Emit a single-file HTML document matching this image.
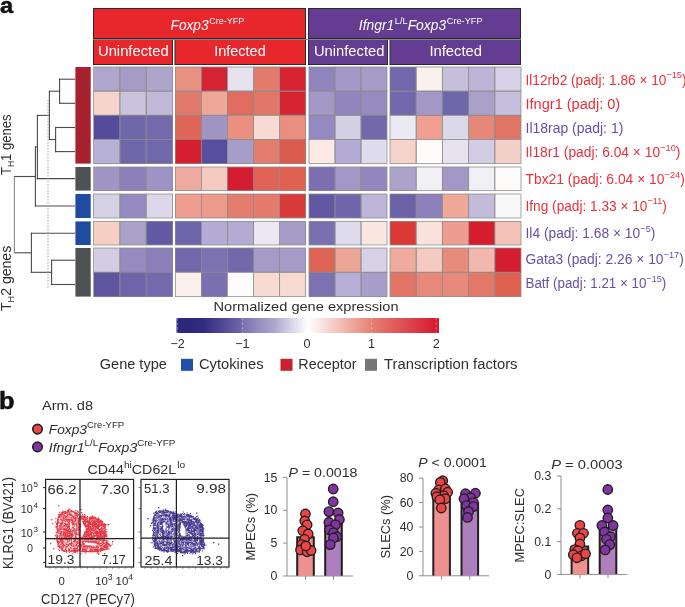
<!DOCTYPE html><html><head><meta charset="utf-8"><style>html,body{margin:0;padding:0;background:#fff;overflow:hidden}svg{display:block;will-change:transform}</style></head><body>
<svg width="685" height="607" viewBox="0 0 685 607" font-family="Liberation Sans">
<g shape-rendering="crispEdges">
<rect x="93.50" y="67.00" width="26.35" height="24.15" fill="#b0a6cc"/>
<rect x="119.85" y="67.00" width="26.35" height="24.15" fill="#a59bc5"/>
<rect x="146.20" y="67.00" width="26.35" height="24.15" fill="#aea5cb"/>
<rect x="93.50" y="91.15" width="26.35" height="24.15" fill="#f6d4cc"/>
<rect x="119.85" y="91.15" width="26.35" height="24.15" fill="#cbc3dd"/>
<rect x="146.20" y="91.15" width="26.35" height="24.15" fill="#c0b9d8"/>
<rect x="93.50" y="115.30" width="26.35" height="24.15" fill="#544b9c"/>
<rect x="119.85" y="115.30" width="26.35" height="24.15" fill="#7067a8"/>
<rect x="146.20" y="115.30" width="26.35" height="24.15" fill="#746aab"/>
<rect x="93.50" y="139.45" width="26.35" height="24.15" fill="#b8b1d6"/>
<rect x="119.85" y="139.45" width="26.35" height="24.15" fill="#7067a8"/>
<rect x="146.20" y="139.45" width="26.35" height="24.15" fill="#7168aa"/>
<rect x="93.50" y="167.00" width="26.35" height="23.60" fill="#a095c3"/>
<rect x="119.85" y="167.00" width="26.35" height="23.60" fill="#8c80ba"/>
<rect x="146.20" y="167.00" width="26.35" height="23.60" fill="#9d93c4"/>
<rect x="93.50" y="194.00" width="26.35" height="24.00" fill="#d5d1e5"/>
<rect x="119.85" y="194.00" width="26.35" height="24.00" fill="#948ac0"/>
<rect x="146.20" y="194.00" width="26.35" height="24.00" fill="#dcd8ea"/>
<rect x="93.50" y="221.40" width="26.35" height="23.60" fill="#f5cfc4"/>
<rect x="119.85" y="221.40" width="26.35" height="23.60" fill="#aaa1c9"/>
<rect x="146.20" y="221.40" width="26.35" height="23.60" fill="#6459a5"/>
<rect x="93.50" y="248.00" width="26.35" height="24.30" fill="#d3cce3"/>
<rect x="119.85" y="248.00" width="26.35" height="24.30" fill="#978bc0"/>
<rect x="146.20" y="248.00" width="26.35" height="24.30" fill="#8a7fb8"/>
<rect x="93.50" y="272.30" width="26.35" height="24.30" fill="#5f54a0"/>
<rect x="119.85" y="272.30" width="26.35" height="24.30" fill="#6f63aa"/>
<rect x="146.20" y="272.30" width="26.35" height="24.30" fill="#7569ad"/>
<rect x="175.40" y="67.00" width="26.04" height="24.15" fill="#e89282"/>
<rect x="201.44" y="67.00" width="26.04" height="24.15" fill="#d42333"/>
<rect x="227.48" y="67.00" width="26.04" height="24.15" fill="#e6e3ef"/>
<rect x="253.52" y="67.00" width="26.04" height="24.15" fill="#e27b6c"/>
<rect x="279.56" y="67.00" width="26.04" height="24.15" fill="#d72232"/>
<rect x="175.40" y="91.15" width="26.04" height="24.15" fill="#e27a6c"/>
<rect x="201.44" y="91.15" width="26.04" height="24.15" fill="#eea898"/>
<rect x="227.48" y="91.15" width="26.04" height="24.15" fill="#e06c5f"/>
<rect x="253.52" y="91.15" width="26.04" height="24.15" fill="#e27668"/>
<rect x="279.56" y="91.15" width="26.04" height="24.15" fill="#d72433"/>
<rect x="175.40" y="115.30" width="26.04" height="24.15" fill="#df6557"/>
<rect x="201.44" y="115.30" width="26.04" height="24.15" fill="#a095c4"/>
<rect x="227.48" y="115.30" width="26.04" height="24.15" fill="#eb8f80"/>
<rect x="253.52" y="115.30" width="26.04" height="24.15" fill="#f6dad3"/>
<rect x="279.56" y="115.30" width="26.04" height="24.15" fill="#ea8e7f"/>
<rect x="175.40" y="139.45" width="26.04" height="24.15" fill="#d51f2f"/>
<rect x="201.44" y="139.45" width="26.04" height="24.15" fill="#574ea0"/>
<rect x="227.48" y="139.45" width="26.04" height="24.15" fill="#a69dc9"/>
<rect x="253.52" y="139.45" width="26.04" height="24.15" fill="#e47d6e"/>
<rect x="279.56" y="139.45" width="26.04" height="24.15" fill="#dc5a4e"/>
<rect x="175.40" y="167.00" width="26.04" height="23.60" fill="#efaaa0"/>
<rect x="201.44" y="167.00" width="26.04" height="23.60" fill="#f4c9c0"/>
<rect x="227.48" y="167.00" width="26.04" height="23.60" fill="#d41d30"/>
<rect x="253.52" y="167.00" width="26.04" height="23.60" fill="#e06455"/>
<rect x="279.56" y="167.00" width="26.04" height="23.60" fill="#df6152"/>
<rect x="175.40" y="194.00" width="26.04" height="24.00" fill="#ee9d8f"/>
<rect x="201.44" y="194.00" width="26.04" height="24.00" fill="#ec9a8c"/>
<rect x="227.48" y="194.00" width="26.04" height="24.00" fill="#e47d6f"/>
<rect x="253.52" y="194.00" width="26.04" height="24.00" fill="#e47b6d"/>
<rect x="279.56" y="194.00" width="26.04" height="24.00" fill="#d93a3a"/>
<rect x="175.40" y="221.40" width="26.04" height="23.60" fill="#6e64ac"/>
<rect x="201.44" y="221.40" width="26.04" height="23.60" fill="#b4acd4"/>
<rect x="227.48" y="221.40" width="26.04" height="23.60" fill="#b3abd3"/>
<rect x="253.52" y="221.40" width="26.04" height="23.60" fill="#ebe8f1"/>
<rect x="279.56" y="221.40" width="26.04" height="23.60" fill="#a69cc8"/>
<rect x="175.40" y="248.00" width="26.04" height="24.30" fill="#7267ab"/>
<rect x="201.44" y="248.00" width="26.04" height="24.30" fill="#7c72b2"/>
<rect x="227.48" y="248.00" width="26.04" height="24.30" fill="#7268aa"/>
<rect x="253.52" y="248.00" width="26.04" height="24.30" fill="#a59bc8"/>
<rect x="279.56" y="248.00" width="26.04" height="24.30" fill="#a69cc9"/>
<rect x="175.40" y="272.30" width="26.04" height="24.30" fill="#fbf0ec"/>
<rect x="201.44" y="272.30" width="26.04" height="24.30" fill="#7a70b0"/>
<rect x="227.48" y="272.30" width="26.04" height="24.30" fill="#fdfbfb"/>
<rect x="253.52" y="272.30" width="26.04" height="24.30" fill="#f7dbd3"/>
<rect x="279.56" y="272.30" width="26.04" height="24.30" fill="#f6d9d0"/>
<rect x="309.00" y="67.00" width="26.00" height="24.15" fill="#8f84bb"/>
<rect x="335.00" y="67.00" width="26.00" height="24.15" fill="#a398c6"/>
<rect x="361.00" y="67.00" width="26.00" height="24.15" fill="#a59bc7"/>
<rect x="309.00" y="91.15" width="26.00" height="24.15" fill="#a398c6"/>
<rect x="335.00" y="91.15" width="26.00" height="24.15" fill="#9185bd"/>
<rect x="361.00" y="91.15" width="26.00" height="24.15" fill="#978cc0"/>
<rect x="309.00" y="115.30" width="26.00" height="24.15" fill="#9489c0"/>
<rect x="335.00" y="115.30" width="26.00" height="24.15" fill="#d4d0e4"/>
<rect x="361.00" y="115.30" width="26.00" height="24.15" fill="#7268ab"/>
<rect x="309.00" y="139.45" width="26.00" height="24.15" fill="#fbe9e3"/>
<rect x="335.00" y="139.45" width="26.00" height="24.15" fill="#b3abd3"/>
<rect x="361.00" y="139.45" width="26.00" height="24.15" fill="#dfdced"/>
<rect x="309.00" y="167.00" width="26.00" height="23.60" fill="#7a6eb0"/>
<rect x="335.00" y="167.00" width="26.00" height="23.60" fill="#a298c5"/>
<rect x="361.00" y="167.00" width="26.00" height="23.60" fill="#9287be"/>
<rect x="309.00" y="194.00" width="26.00" height="24.00" fill="#6257a3"/>
<rect x="335.00" y="194.00" width="26.00" height="24.00" fill="#7064aa"/>
<rect x="361.00" y="194.00" width="26.00" height="24.00" fill="#bdb6d8"/>
<rect x="309.00" y="221.40" width="26.00" height="23.60" fill="#7a70b0"/>
<rect x="335.00" y="221.40" width="26.00" height="23.60" fill="#dfdcee"/>
<rect x="361.00" y="221.40" width="26.00" height="23.60" fill="#fbe7e1"/>
<rect x="309.00" y="248.00" width="26.00" height="24.30" fill="#dd6454"/>
<rect x="335.00" y="248.00" width="26.00" height="24.30" fill="#eda595"/>
<rect x="361.00" y="248.00" width="26.00" height="24.30" fill="#d6d1e5"/>
<rect x="309.00" y="272.30" width="26.00" height="24.30" fill="#7b71b1"/>
<rect x="335.00" y="272.30" width="26.00" height="24.30" fill="#b6aed5"/>
<rect x="361.00" y="272.30" width="26.00" height="24.30" fill="#a79ec9"/>
<rect x="390.00" y="67.00" width="26.20" height="24.15" fill="#7167aa"/>
<rect x="416.20" y="67.00" width="26.20" height="24.15" fill="#faf0ec"/>
<rect x="442.40" y="67.00" width="26.20" height="24.15" fill="#c6c0dc"/>
<rect x="468.60" y="67.00" width="26.20" height="24.15" fill="#bcb5d7"/>
<rect x="494.80" y="67.00" width="26.20" height="24.15" fill="#d6d1e6"/>
<rect x="390.00" y="91.15" width="26.20" height="24.15" fill="#7167aa"/>
<rect x="416.20" y="91.15" width="26.20" height="24.15" fill="#a298c6"/>
<rect x="442.40" y="91.15" width="26.20" height="24.15" fill="#7066aa"/>
<rect x="468.60" y="91.15" width="26.20" height="24.15" fill="#aaa1ca"/>
<rect x="494.80" y="91.15" width="26.20" height="24.15" fill="#c6c0dc"/>
<rect x="390.00" y="115.30" width="26.20" height="24.15" fill="#ebe9f2"/>
<rect x="416.20" y="115.30" width="26.20" height="24.15" fill="#ef9e8f"/>
<rect x="442.40" y="115.30" width="26.20" height="24.15" fill="#dbd8e9"/>
<rect x="468.60" y="115.30" width="26.20" height="24.15" fill="#e68878"/>
<rect x="494.80" y="115.30" width="26.20" height="24.15" fill="#e07565"/>
<rect x="390.00" y="139.45" width="26.20" height="24.15" fill="#f5d2ca"/>
<rect x="416.20" y="139.45" width="26.20" height="24.15" fill="#fefbfa"/>
<rect x="442.40" y="139.45" width="26.20" height="24.15" fill="#e6e3ef"/>
<rect x="468.60" y="139.45" width="26.20" height="24.15" fill="#d2cde4"/>
<rect x="494.80" y="139.45" width="26.20" height="24.15" fill="#f3d1c9"/>
<rect x="390.00" y="167.00" width="26.20" height="23.60" fill="#aba3ca"/>
<rect x="416.20" y="167.00" width="26.20" height="23.60" fill="#f1f0f5"/>
<rect x="442.40" y="167.00" width="26.20" height="23.60" fill="#a297c5"/>
<rect x="468.60" y="167.00" width="26.20" height="23.60" fill="#f0eff4"/>
<rect x="494.80" y="167.00" width="26.20" height="23.60" fill="#fdfafa"/>
<rect x="390.00" y="194.00" width="26.20" height="24.00" fill="#6c61a7"/>
<rect x="416.20" y="194.00" width="26.20" height="24.00" fill="#8c81bb"/>
<rect x="442.40" y="194.00" width="26.20" height="24.00" fill="#efa898"/>
<rect x="468.60" y="194.00" width="26.20" height="24.00" fill="#c2bcda"/>
<rect x="494.80" y="194.00" width="26.20" height="24.00" fill="#f8f8f9"/>
<rect x="390.00" y="221.40" width="26.20" height="23.60" fill="#da3a36"/>
<rect x="416.20" y="221.40" width="26.20" height="23.60" fill="#f9e2db"/>
<rect x="442.40" y="221.40" width="26.20" height="23.60" fill="#ed9d8f"/>
<rect x="468.60" y="221.40" width="26.20" height="23.60" fill="#d51d2d"/>
<rect x="494.80" y="221.40" width="26.20" height="23.60" fill="#f3c3ba"/>
<rect x="390.00" y="248.00" width="26.20" height="24.30" fill="#efab9d"/>
<rect x="416.20" y="248.00" width="26.20" height="24.30" fill="#f4cbc3"/>
<rect x="442.40" y="248.00" width="26.20" height="24.30" fill="#e78c7d"/>
<rect x="468.60" y="248.00" width="26.20" height="24.30" fill="#f1b8ad"/>
<rect x="494.80" y="248.00" width="26.20" height="24.30" fill="#d41e2f"/>
<rect x="390.00" y="272.30" width="26.20" height="24.30" fill="#e27465"/>
<rect x="416.20" y="272.30" width="26.20" height="24.30" fill="#e8887a"/>
<rect x="442.40" y="272.30" width="26.20" height="24.30" fill="#e88a7b"/>
<rect x="468.60" y="272.30" width="26.20" height="24.30" fill="#e27868"/>
<rect x="494.80" y="272.30" width="26.20" height="24.30" fill="#df6150"/>
</g>
<g stroke="#8c8c8c" stroke-width="0.9" fill="none" opacity="0.85">
<rect x="93.50" y="67.00" width="26.35" height="24.15"/>
<rect x="119.85" y="67.00" width="26.35" height="24.15"/>
<rect x="146.20" y="67.00" width="26.35" height="24.15"/>
<rect x="93.50" y="91.15" width="26.35" height="24.15"/>
<rect x="119.85" y="91.15" width="26.35" height="24.15"/>
<rect x="146.20" y="91.15" width="26.35" height="24.15"/>
<rect x="93.50" y="115.30" width="26.35" height="24.15"/>
<rect x="119.85" y="115.30" width="26.35" height="24.15"/>
<rect x="146.20" y="115.30" width="26.35" height="24.15"/>
<rect x="93.50" y="139.45" width="26.35" height="24.15"/>
<rect x="119.85" y="139.45" width="26.35" height="24.15"/>
<rect x="146.20" y="139.45" width="26.35" height="24.15"/>
<rect x="93.50" y="167.00" width="26.35" height="23.60"/>
<rect x="119.85" y="167.00" width="26.35" height="23.60"/>
<rect x="146.20" y="167.00" width="26.35" height="23.60"/>
<rect x="93.50" y="194.00" width="26.35" height="24.00"/>
<rect x="119.85" y="194.00" width="26.35" height="24.00"/>
<rect x="146.20" y="194.00" width="26.35" height="24.00"/>
<rect x="93.50" y="221.40" width="26.35" height="23.60"/>
<rect x="119.85" y="221.40" width="26.35" height="23.60"/>
<rect x="146.20" y="221.40" width="26.35" height="23.60"/>
<rect x="93.50" y="248.00" width="26.35" height="24.30"/>
<rect x="119.85" y="248.00" width="26.35" height="24.30"/>
<rect x="146.20" y="248.00" width="26.35" height="24.30"/>
<rect x="93.50" y="272.30" width="26.35" height="24.30"/>
<rect x="119.85" y="272.30" width="26.35" height="24.30"/>
<rect x="146.20" y="272.30" width="26.35" height="24.30"/>
<rect x="175.40" y="67.00" width="26.04" height="24.15"/>
<rect x="201.44" y="67.00" width="26.04" height="24.15"/>
<rect x="227.48" y="67.00" width="26.04" height="24.15"/>
<rect x="253.52" y="67.00" width="26.04" height="24.15"/>
<rect x="279.56" y="67.00" width="26.04" height="24.15"/>
<rect x="175.40" y="91.15" width="26.04" height="24.15"/>
<rect x="201.44" y="91.15" width="26.04" height="24.15"/>
<rect x="227.48" y="91.15" width="26.04" height="24.15"/>
<rect x="253.52" y="91.15" width="26.04" height="24.15"/>
<rect x="279.56" y="91.15" width="26.04" height="24.15"/>
<rect x="175.40" y="115.30" width="26.04" height="24.15"/>
<rect x="201.44" y="115.30" width="26.04" height="24.15"/>
<rect x="227.48" y="115.30" width="26.04" height="24.15"/>
<rect x="253.52" y="115.30" width="26.04" height="24.15"/>
<rect x="279.56" y="115.30" width="26.04" height="24.15"/>
<rect x="175.40" y="139.45" width="26.04" height="24.15"/>
<rect x="201.44" y="139.45" width="26.04" height="24.15"/>
<rect x="227.48" y="139.45" width="26.04" height="24.15"/>
<rect x="253.52" y="139.45" width="26.04" height="24.15"/>
<rect x="279.56" y="139.45" width="26.04" height="24.15"/>
<rect x="175.40" y="167.00" width="26.04" height="23.60"/>
<rect x="201.44" y="167.00" width="26.04" height="23.60"/>
<rect x="227.48" y="167.00" width="26.04" height="23.60"/>
<rect x="253.52" y="167.00" width="26.04" height="23.60"/>
<rect x="279.56" y="167.00" width="26.04" height="23.60"/>
<rect x="175.40" y="194.00" width="26.04" height="24.00"/>
<rect x="201.44" y="194.00" width="26.04" height="24.00"/>
<rect x="227.48" y="194.00" width="26.04" height="24.00"/>
<rect x="253.52" y="194.00" width="26.04" height="24.00"/>
<rect x="279.56" y="194.00" width="26.04" height="24.00"/>
<rect x="175.40" y="221.40" width="26.04" height="23.60"/>
<rect x="201.44" y="221.40" width="26.04" height="23.60"/>
<rect x="227.48" y="221.40" width="26.04" height="23.60"/>
<rect x="253.52" y="221.40" width="26.04" height="23.60"/>
<rect x="279.56" y="221.40" width="26.04" height="23.60"/>
<rect x="175.40" y="248.00" width="26.04" height="24.30"/>
<rect x="201.44" y="248.00" width="26.04" height="24.30"/>
<rect x="227.48" y="248.00" width="26.04" height="24.30"/>
<rect x="253.52" y="248.00" width="26.04" height="24.30"/>
<rect x="279.56" y="248.00" width="26.04" height="24.30"/>
<rect x="175.40" y="272.30" width="26.04" height="24.30"/>
<rect x="201.44" y="272.30" width="26.04" height="24.30"/>
<rect x="227.48" y="272.30" width="26.04" height="24.30"/>
<rect x="253.52" y="272.30" width="26.04" height="24.30"/>
<rect x="279.56" y="272.30" width="26.04" height="24.30"/>
<rect x="309.00" y="67.00" width="26.00" height="24.15"/>
<rect x="335.00" y="67.00" width="26.00" height="24.15"/>
<rect x="361.00" y="67.00" width="26.00" height="24.15"/>
<rect x="309.00" y="91.15" width="26.00" height="24.15"/>
<rect x="335.00" y="91.15" width="26.00" height="24.15"/>
<rect x="361.00" y="91.15" width="26.00" height="24.15"/>
<rect x="309.00" y="115.30" width="26.00" height="24.15"/>
<rect x="335.00" y="115.30" width="26.00" height="24.15"/>
<rect x="361.00" y="115.30" width="26.00" height="24.15"/>
<rect x="309.00" y="139.45" width="26.00" height="24.15"/>
<rect x="335.00" y="139.45" width="26.00" height="24.15"/>
<rect x="361.00" y="139.45" width="26.00" height="24.15"/>
<rect x="309.00" y="167.00" width="26.00" height="23.60"/>
<rect x="335.00" y="167.00" width="26.00" height="23.60"/>
<rect x="361.00" y="167.00" width="26.00" height="23.60"/>
<rect x="309.00" y="194.00" width="26.00" height="24.00"/>
<rect x="335.00" y="194.00" width="26.00" height="24.00"/>
<rect x="361.00" y="194.00" width="26.00" height="24.00"/>
<rect x="309.00" y="221.40" width="26.00" height="23.60"/>
<rect x="335.00" y="221.40" width="26.00" height="23.60"/>
<rect x="361.00" y="221.40" width="26.00" height="23.60"/>
<rect x="309.00" y="248.00" width="26.00" height="24.30"/>
<rect x="335.00" y="248.00" width="26.00" height="24.30"/>
<rect x="361.00" y="248.00" width="26.00" height="24.30"/>
<rect x="309.00" y="272.30" width="26.00" height="24.30"/>
<rect x="335.00" y="272.30" width="26.00" height="24.30"/>
<rect x="361.00" y="272.30" width="26.00" height="24.30"/>
<rect x="390.00" y="67.00" width="26.20" height="24.15"/>
<rect x="416.20" y="67.00" width="26.20" height="24.15"/>
<rect x="442.40" y="67.00" width="26.20" height="24.15"/>
<rect x="468.60" y="67.00" width="26.20" height="24.15"/>
<rect x="494.80" y="67.00" width="26.20" height="24.15"/>
<rect x="390.00" y="91.15" width="26.20" height="24.15"/>
<rect x="416.20" y="91.15" width="26.20" height="24.15"/>
<rect x="442.40" y="91.15" width="26.20" height="24.15"/>
<rect x="468.60" y="91.15" width="26.20" height="24.15"/>
<rect x="494.80" y="91.15" width="26.20" height="24.15"/>
<rect x="390.00" y="115.30" width="26.20" height="24.15"/>
<rect x="416.20" y="115.30" width="26.20" height="24.15"/>
<rect x="442.40" y="115.30" width="26.20" height="24.15"/>
<rect x="468.60" y="115.30" width="26.20" height="24.15"/>
<rect x="494.80" y="115.30" width="26.20" height="24.15"/>
<rect x="390.00" y="139.45" width="26.20" height="24.15"/>
<rect x="416.20" y="139.45" width="26.20" height="24.15"/>
<rect x="442.40" y="139.45" width="26.20" height="24.15"/>
<rect x="468.60" y="139.45" width="26.20" height="24.15"/>
<rect x="494.80" y="139.45" width="26.20" height="24.15"/>
<rect x="390.00" y="167.00" width="26.20" height="23.60"/>
<rect x="416.20" y="167.00" width="26.20" height="23.60"/>
<rect x="442.40" y="167.00" width="26.20" height="23.60"/>
<rect x="468.60" y="167.00" width="26.20" height="23.60"/>
<rect x="494.80" y="167.00" width="26.20" height="23.60"/>
<rect x="390.00" y="194.00" width="26.20" height="24.00"/>
<rect x="416.20" y="194.00" width="26.20" height="24.00"/>
<rect x="442.40" y="194.00" width="26.20" height="24.00"/>
<rect x="468.60" y="194.00" width="26.20" height="24.00"/>
<rect x="494.80" y="194.00" width="26.20" height="24.00"/>
<rect x="390.00" y="221.40" width="26.20" height="23.60"/>
<rect x="416.20" y="221.40" width="26.20" height="23.60"/>
<rect x="442.40" y="221.40" width="26.20" height="23.60"/>
<rect x="468.60" y="221.40" width="26.20" height="23.60"/>
<rect x="494.80" y="221.40" width="26.20" height="23.60"/>
<rect x="390.00" y="248.00" width="26.20" height="24.30"/>
<rect x="416.20" y="248.00" width="26.20" height="24.30"/>
<rect x="442.40" y="248.00" width="26.20" height="24.30"/>
<rect x="468.60" y="248.00" width="26.20" height="24.30"/>
<rect x="494.80" y="248.00" width="26.20" height="24.30"/>
<rect x="390.00" y="272.30" width="26.20" height="24.30"/>
<rect x="416.20" y="272.30" width="26.20" height="24.30"/>
<rect x="442.40" y="272.30" width="26.20" height="24.30"/>
<rect x="468.60" y="272.30" width="26.20" height="24.30"/>
<rect x="494.80" y="272.30" width="26.20" height="24.30"/>
</g>
<rect x="75.4" y="67.0" width="15.3" height="96.60" fill="#a6222e"/>
<rect x="75.4" y="167.0" width="15.3" height="23.60" fill="#4f5253"/>
<rect x="75.4" y="194.0" width="15.3" height="24.00" fill="#1f4ba0"/>
<rect x="75.4" y="221.4" width="15.3" height="23.60" fill="#1f4ba0"/>
<rect x="75.4" y="248.0" width="15.3" height="48.60" fill="#4f5253"/>
<g stroke="#4a4a4a" stroke-width="1.1" fill="none" stroke-linecap="square">
<line x1="59.6" y1="79.2" x2="74.6" y2="79.2"/>
<line x1="59.6" y1="103.3" x2="74.6" y2="103.3"/>
<line x1="59.6" y1="79.2" x2="59.6" y2="103.3"/>
<line x1="49.4" y1="91.2" x2="59.6" y2="91.2"/>
<line x1="55.6" y1="127.5" x2="74.6" y2="127.5"/>
<line x1="55.6" y1="151.6" x2="74.6" y2="151.6"/>
<line x1="55.6" y1="127.5" x2="55.6" y2="151.6"/>
<line x1="49.4" y1="139.5" x2="55.6" y2="139.5"/>
<line x1="49.4" y1="91.2" x2="49.4" y2="139.5"/>
<line x1="37.4" y1="115.4" x2="49.4" y2="115.4"/>
<line x1="37.4" y1="178.6" x2="74.6" y2="178.6"/>
<line x1="37.4" y1="115.4" x2="37.4" y2="178.6"/>
<line x1="35.4" y1="147.0" x2="37.4" y2="147.0"/>
<line x1="35.4" y1="206.0" x2="74.6" y2="206.0"/>
<line x1="35.4" y1="147.0" x2="35.4" y2="206.0"/>
<line x1="14.4" y1="176.5" x2="35.4" y2="176.5"/>
<line x1="31.4" y1="233.2" x2="74.6" y2="233.2"/>
<line x1="51.6" y1="260.2" x2="74.6" y2="260.2"/>
<line x1="51.6" y1="284.5" x2="74.6" y2="284.5"/>
<line x1="51.6" y1="260.2" x2="51.6" y2="284.5"/>
<line x1="31.4" y1="272.3" x2="51.6" y2="272.3"/>
<line x1="31.4" y1="233.2" x2="31.4" y2="272.3"/>
<line x1="14.4" y1="252.8" x2="31.4" y2="252.8"/>
</g>
<line x1="14.4" y1="176.5" x2="14.4" y2="252.8" stroke="#8a8a8a" stroke-width="1.1"/>
<line x1="48" y1="100" x2="48" y2="288" stroke="#9a9a9a" stroke-width="0.9" stroke-dasharray="1.5,1.5"/>
<rect x="93.5" y="8.5" width="212" height="30" fill="#e8272d" stroke="#2a2a2a" stroke-width="1"/>
<rect x="308.5" y="8.5" width="212" height="30" fill="#643d92" stroke="#2a2a2a" stroke-width="1"/>
<rect x="93.5" y="39.5" width="79" height="25" fill="#e8272d" stroke="#2a2a2a" stroke-width="1"/>
<rect x="175.0" y="39.5" width="130.5" height="25" fill="#e8272d" stroke="#2a2a2a" stroke-width="1"/>
<rect x="308.5" y="39.5" width="79" height="25" fill="#643d92" stroke="#2a2a2a" stroke-width="1"/>
<rect x="390.0" y="39.5" width="130.5" height="25" fill="#643d92" stroke="#2a2a2a" stroke-width="1"/>
<line x1="93" y1="39.5" x2="521" y2="39.5" stroke="#858585" stroke-width="1"/>
<text x="170.6" y="30.1" font-family="Liberation Sans" fill="#fff" font-size="14" font-style="italic" textLength="73.8" lengthAdjust="spacingAndGlyphs">Foxp3<tspan font-style="normal" font-size="9.3" dy="-6.3" dx="0.6">Cre-YFP</tspan></text>
<text x="358.8" y="30.1" font-family="Liberation Sans" fill="#fff" font-size="14" font-style="italic" textLength="123.8" lengthAdjust="spacingAndGlyphs">Ifngr1<tspan font-style="normal" font-size="9.3" dy="-6.3" dx="0.6">L/L</tspan><tspan dy="6.3">Foxp3</tspan><tspan font-style="normal" font-size="9.3" dy="-6.3" dx="0.6">Cre-YFP</tspan></text>
<text x="98" y="56" font-family="Liberation Sans" fill="#fff" font-size="14.6" textLength="70.6" lengthAdjust="spacingAndGlyphs">Uninfected</text>
<text x="313.9" y="56" font-family="Liberation Sans" fill="#fff" font-size="14.6" textLength="70.5" lengthAdjust="spacingAndGlyphs">Uninfected</text>
<text x="214.2" y="56" font-family="Liberation Sans" fill="#fff" font-size="14.6" textLength="51.5" lengthAdjust="spacingAndGlyphs">Infected</text>
<text x="429.4" y="56" font-family="Liberation Sans" fill="#fff" font-size="14.6" textLength="52.6" lengthAdjust="spacingAndGlyphs">Infected</text>
<text x="525.5" y="84.6" font-family="Liberation Sans" font-size="14" fill="#e8303a" textLength="161.0" lengthAdjust="spacingAndGlyphs">Il12rb2 (padj: 1.86 × 10<tspan font-size="9.4" dy="-6.2">−15</tspan><tspan dy="6.2">)</tspan></text>
<text x="525.5" y="108.7" font-family="Liberation Sans" font-size="14" fill="#e8303a" textLength="94.7" lengthAdjust="spacingAndGlyphs">Ifngr1 (padj: 0)</text>
<text x="525.5" y="132.9" font-family="Liberation Sans" font-size="14" fill="#6a4fa3" textLength="97.8" lengthAdjust="spacingAndGlyphs">Il18rap (padj: 1)</text>
<text x="525.5" y="157.0" font-family="Liberation Sans" font-size="14" fill="#e8303a" textLength="154.9" lengthAdjust="spacingAndGlyphs">Il18r1 (padj: 6.04 × 10<tspan font-size="9.4" dy="-6.2">−10</tspan><tspan dy="6.2">)</tspan></text>
<text x="525.5" y="183.8" font-family="Liberation Sans" font-size="14" fill="#e8303a" textLength="159.4" lengthAdjust="spacingAndGlyphs">Tbx21 (padj: 6.04 × 10<tspan font-size="9.4" dy="-6.2">−24</tspan><tspan dy="6.2">)</tspan></text>
<text x="525.5" y="210.6" font-family="Liberation Sans" font-size="14" fill="#e8303a" textLength="141.4" lengthAdjust="spacingAndGlyphs">Ifng (padj: 1.33 × 10<tspan font-size="9.4" dy="-6.2">−11</tspan><tspan dy="6.2">)</tspan></text>
<text x="525.5" y="237.8" font-family="Liberation Sans" font-size="14" fill="#6a4fa3" textLength="129.9" lengthAdjust="spacingAndGlyphs">Il4 (padj: 1.68 × 10<tspan font-size="9.4" dy="-6.2">−5</tspan><tspan dy="6.2">)</tspan></text>
<text x="525.5" y="264.0" font-family="Liberation Sans" font-size="14" fill="#6a4fa3" textLength="158.4" lengthAdjust="spacingAndGlyphs">Gata3 (padj: 2.26 × 10<tspan font-size="9.4" dy="-6.2">−17</tspan><tspan dy="6.2">)</tspan></text>
<text x="525.5" y="288.0" font-family="Liberation Sans" font-size="14" fill="#6a4fa3" textLength="140.6" lengthAdjust="spacingAndGlyphs">Batf (padj: 1.21 × 10<tspan font-size="9.4" dy="-6.2">−15</tspan><tspan dy="6.2">)</tspan></text>
<text transform="translate(10.8,175) rotate(-90)" font-family="Liberation Sans" fill="#2e2e2e" font-size="14.6" textLength="60.5" lengthAdjust="spacingAndGlyphs">T<tspan font-size="9.5" dy="3.2">H</tspan><tspan dy="-3.2">1 genes</tspan></text>
<text transform="translate(10.8,311) rotate(-90)" font-family="Liberation Sans" fill="#2e2e2e" font-size="14.6" textLength="65.2" lengthAdjust="spacingAndGlyphs">T<tspan font-size="9.5" dy="3.2">H</tspan><tspan dy="-3.2">2 genes</tspan></text>
<defs><linearGradient id="cb" x1="0" x2="1" y1="0" y2="0"><stop offset="0" stop-color="#2b2679"/><stop offset="0.1" stop-color="#302a80"/><stop offset="0.24" stop-color="#6c62a8"/><stop offset="0.25" stop-color="#7a70b0"/><stop offset="0.375" stop-color="#b0a8d0"/><stop offset="0.5" stop-color="#ffffff"/><stop offset="0.75" stop-color="#e47e70"/><stop offset="1" stop-color="#d5172d"/></linearGradient></defs>
<rect x="176.5" y="318" width="262.5" height="15" fill="url(#cb)"/>
<line x1="177.6" y1="318" x2="177.6" y2="333" stroke="#fff" stroke-width="0.8" stroke-dasharray="2.5,2" opacity="0.45"/>
<line x1="242.6" y1="318" x2="242.6" y2="333" stroke="#fff" stroke-width="0.8" stroke-dasharray="2.5,2" opacity="0.45"/>
<line x1="307.1" y1="318" x2="307.1" y2="333" stroke="#fff" stroke-width="0.8" stroke-dasharray="2.5,2" opacity="0.45"/>
<line x1="371.6" y1="318" x2="371.6" y2="333" stroke="#fff" stroke-width="0.8" stroke-dasharray="2.5,2" opacity="0.45"/>
<line x1="436.3" y1="318" x2="436.3" y2="333" stroke="#fff" stroke-width="0.8" stroke-dasharray="2.5,2" opacity="0.45"/>
<text x="213.5" y="311.0" font-family="Liberation Sans" fill="#2e2e2e" font-size="13.6" textLength="185" lengthAdjust="spacingAndGlyphs">Normalized gene expression</text>
<text x="177.6" y="348" font-family="Liberation Sans" fill="#2e2e2e" font-size="12.6" text-anchor="middle">−2</text>
<text x="242.4" y="348" font-family="Liberation Sans" fill="#2e2e2e" font-size="12.6" text-anchor="middle">−1</text>
<text x="306.9" y="348" font-family="Liberation Sans" fill="#2e2e2e" font-size="12.6" text-anchor="middle">0</text>
<text x="371.6" y="348" font-family="Liberation Sans" fill="#2e2e2e" font-size="12.6" text-anchor="middle">1</text>
<text x="436.3" y="348" font-family="Liberation Sans" fill="#2e2e2e" font-size="12.6" text-anchor="middle">2</text>
<text x="99.8" y="369.1" font-family="Liberation Sans" fill="#2e2e2e" font-size="14" textLength="67" lengthAdjust="spacingAndGlyphs">Gene type</text>
<rect x="181" y="358.8" width="12" height="12" fill="#2050a8"/>
<text x="199" y="369.1" font-family="Liberation Sans" fill="#2e2e2e" font-size="14" textLength="64.5" lengthAdjust="spacingAndGlyphs">Cytokines</text>
<rect x="280.5" y="358.8" width="12" height="12" fill="#cc2030"/>
<text x="298.3" y="369.1" font-family="Liberation Sans" fill="#2e2e2e" font-size="14" textLength="58.3" lengthAdjust="spacingAndGlyphs">Receptor</text>
<rect x="365" y="358.8" width="12" height="12" fill="#777777"/>
<text x="384" y="369.1" font-family="Liberation Sans" fill="#2e2e2e" font-size="14" textLength="133.5" lengthAdjust="spacingAndGlyphs">Transcription factors</text>
<text transform="translate(-0.9,408.6) scale(1.1,1)" font-family="Liberation Sans" font-weight="bold" font-size="23" fill="#111" stroke="#111" stroke-width="0.5">b</text>
<text transform="translate(0.1,13.0) scale(1.1,1)" font-family="Liberation Sans" font-weight="bold" font-size="21.5" fill="#111" stroke="#111" stroke-width="0.5">a</text>
<text x="42" y="409.8" font-family="Liberation Sans" fill="#2e2e2e" font-size="13.4" textLength="51" lengthAdjust="spacingAndGlyphs">Arm. d8</text>
<circle cx="37.5" cy="429.1" r="4.75" fill="#ee4646" stroke="#231f20" stroke-width="1.6"/>
<circle cx="37.5" cy="446.9" r="4.75" fill="#7f36a0" stroke="#231f20" stroke-width="1.6"/>
<text x="48.8" y="434.4" font-family="Liberation Sans" fill="#2e2e2e" font-size="13.4" font-style="italic" textLength="75.5" lengthAdjust="spacingAndGlyphs">Foxp3<tspan font-style="normal" font-size="9.4" dy="-6">Cre-YFP</tspan></text>
<text x="48.8" y="451.6" font-family="Liberation Sans" fill="#2e2e2e" font-size="13.4" font-style="italic" textLength="126.5" lengthAdjust="spacingAndGlyphs">Ifngr1<tspan font-style="normal" font-size="9.4" dy="-6">L/L</tspan><tspan dy="6">Foxp3</tspan><tspan font-style="normal" font-size="9.4" dy="-6">Cre-YFP</tspan></text>
<text x="87.6" y="473.7" font-family="Liberation Sans" fill="#2e2e2e" font-size="13.4" textLength="97.5" lengthAdjust="spacingAndGlyphs">CD44<tspan font-size="9.6" dy="-6">hi</tspan><tspan dy="6">CD62L</tspan><tspan font-size="9.6" dy="-6" dx="1">lo</tspan></text>
<g fill="#e63946">
<path d="M68.3 525.8h1.1v1.1h-1.1zM78.8 535.8h1.1v1.1h-1.1zM78.8 549.7h1.1v1.1h-1.1zM63.5 536.7h1.1v1.1h-1.1zM66.2 530.2h1.1v1.1h-1.1zM75.9 528.6h1.1v1.1h-1.1zM65.8 516.0h1.1v1.1h-1.1zM69.2 512.6h1.1v1.1h-1.1zM56.7 538.4h1.1v1.1h-1.1zM74.1 548.6h1.1v1.1h-1.1zM68.9 543.1h1.1v1.1h-1.1zM63.3 531.3h1.1v1.1h-1.1zM66.9 533.9h1.1v1.1h-1.1zM59.2 535.3h1.1v1.1h-1.1zM65.7 546.6h1.1v1.1h-1.1zM60.9 547.5h1.1v1.1h-1.1zM74.0 523.8h1.1v1.1h-1.1zM62.7 529.5h1.1v1.1h-1.1zM79.5 539.2h1.1v1.1h-1.1zM73.4 548.0h1.1v1.1h-1.1zM69.0 535.7h1.1v1.1h-1.1zM62.6 517.9h1.1v1.1h-1.1zM59.9 524.4h1.1v1.1h-1.1zM79.3 534.1h1.1v1.1h-1.1zM68.4 537.2h1.1v1.1h-1.1zM58.8 527.1h1.1v1.1h-1.1zM71.0 541.1h1.1v1.1h-1.1zM74.6 532.2h1.1v1.1h-1.1zM70.7 550.7h1.1v1.1h-1.1zM78.0 545.6h1.1v1.1h-1.1zM68.7 514.1h1.1v1.1h-1.1zM67.0 545.6h1.1v1.1h-1.1zM57.5 535.3h1.1v1.1h-1.1zM71.4 550.8h1.1v1.1h-1.1zM76.5 528.1h1.1v1.1h-1.1zM70.2 517.3h1.1v1.1h-1.1zM62.2 511.4h1.1v1.1h-1.1zM76.2 542.1h1.1v1.1h-1.1zM68.2 513.3h1.1v1.1h-1.1zM68.3 536.8h1.1v1.1h-1.1zM74.1 533.5h1.1v1.1h-1.1zM59.6 540.9h1.1v1.1h-1.1zM75.7 549.4h1.1v1.1h-1.1zM72.4 519.7h1.1v1.1h-1.1zM74.9 530.1h1.1v1.1h-1.1zM60.6 541.4h1.1v1.1h-1.1zM75.3 518.3h1.1v1.1h-1.1zM60.6 513.7h1.1v1.1h-1.1zM76.5 548.9h1.1v1.1h-1.1zM76.7 543.0h1.1v1.1h-1.1zM77.0 518.2h1.1v1.1h-1.1zM67.3 510.5h1.1v1.1h-1.1zM62.6 536.6h1.1v1.1h-1.1zM56.2 523.3h1.1v1.1h-1.1zM71.5 519.4h1.1v1.1h-1.1zM73.3 518.2h1.1v1.1h-1.1zM76.1 529.6h1.1v1.1h-1.1zM62.8 524.2h1.1v1.1h-1.1zM61.2 549.3h1.1v1.1h-1.1zM71.3 533.6h1.1v1.1h-1.1zM75.3 547.6h1.1v1.1h-1.1zM79.1 548.6h1.1v1.1h-1.1zM59.6 547.6h1.1v1.1h-1.1zM67.6 530.7h1.1v1.1h-1.1zM77.5 534.3h1.1v1.1h-1.1zM66.1 532.2h1.1v1.1h-1.1zM70.1 510.7h1.1v1.1h-1.1zM72.2 516.1h1.1v1.1h-1.1zM78.1 533.0h1.1v1.1h-1.1zM75.8 538.5h1.1v1.1h-1.1zM77.3 542.8h1.1v1.1h-1.1zM71.8 532.6h1.1v1.1h-1.1zM61.9 536.6h1.1v1.1h-1.1zM74.4 544.5h1.1v1.1h-1.1zM61.1 536.8h1.1v1.1h-1.1zM76.0 537.8h1.1v1.1h-1.1zM75.8 512.9h1.1v1.1h-1.1zM59.9 531.6h1.1v1.1h-1.1zM65.0 510.9h1.1v1.1h-1.1zM63.6 516.2h1.1v1.1h-1.1zM72.6 511.0h1.1v1.1h-1.1zM60.3 546.2h1.1v1.1h-1.1zM65.5 523.6h1.1v1.1h-1.1zM56.1 531.7h1.1v1.1h-1.1zM62.3 542.9h1.1v1.1h-1.1zM66.1 538.7h1.1v1.1h-1.1zM71.2 530.4h1.1v1.1h-1.1zM65.1 539.3h1.1v1.1h-1.1zM73.4 546.2h1.1v1.1h-1.1zM71.7 514.3h1.1v1.1h-1.1zM66.3 529.5h1.1v1.1h-1.1zM76.8 513.5h1.1v1.1h-1.1zM71.2 533.2h1.1v1.1h-1.1zM75.4 523.0h1.1v1.1h-1.1zM64.2 545.1h1.1v1.1h-1.1zM69.0 529.5h1.1v1.1h-1.1zM60.7 516.6h1.1v1.1h-1.1zM79.9 546.5h1.1v1.1h-1.1zM61.8 527.7h1.1v1.1h-1.1zM57.8 521.1h1.1v1.1h-1.1zM62.2 525.9h1.1v1.1h-1.1zM72.7 515.7h1.1v1.1h-1.1zM59.1 522.3h1.1v1.1h-1.1zM65.0 524.0h1.1v1.1h-1.1zM66.1 528.2h1.1v1.1h-1.1zM72.0 522.3h1.1v1.1h-1.1zM66.9 523.3h1.1v1.1h-1.1zM76.2 524.6h1.1v1.1h-1.1zM73.4 541.3h1.1v1.1h-1.1zM64.8 542.6h1.1v1.1h-1.1zM66.8 510.5h1.1v1.1h-1.1zM64.8 516.6h1.1v1.1h-1.1zM58.6 514.1h1.1v1.1h-1.1zM60.9 524.6h1.1v1.1h-1.1zM62.8 524.8h1.1v1.1h-1.1zM63.5 541.3h1.1v1.1h-1.1zM63.5 540.4h1.1v1.1h-1.1zM69.8 546.9h1.1v1.1h-1.1zM79.3 538.5h1.1v1.1h-1.1zM74.6 534.8h1.1v1.1h-1.1zM75.0 551.6h1.1v1.1h-1.1zM74.2 536.8h1.1v1.1h-1.1zM78.0 522.6h1.1v1.1h-1.1zM72.6 511.3h1.1v1.1h-1.1zM68.0 549.5h1.1v1.1h-1.1zM57.9 541.4h1.1v1.1h-1.1zM67.7 525.6h1.1v1.1h-1.1zM61.1 546.6h1.1v1.1h-1.1zM59.2 541.8h1.1v1.1h-1.1zM68.1 529.3h1.1v1.1h-1.1zM74.8 549.9h1.1v1.1h-1.1zM63.1 547.3h1.1v1.1h-1.1zM74.5 528.5h1.1v1.1h-1.1zM68.6 527.7h1.1v1.1h-1.1zM59.6 516.2h1.1v1.1h-1.1zM65.6 524.8h1.1v1.1h-1.1zM63.1 518.8h1.1v1.1h-1.1zM76.3 512.7h1.1v1.1h-1.1zM59.0 540.7h1.1v1.1h-1.1zM73.6 550.2h1.1v1.1h-1.1zM60.5 538.7h1.1v1.1h-1.1zM65.4 547.9h1.1v1.1h-1.1zM61.6 546.4h1.1v1.1h-1.1zM76.2 536.9h1.1v1.1h-1.1zM65.4 531.7h1.1v1.1h-1.1zM79.4 524.8h1.1v1.1h-1.1zM71.0 530.6h1.1v1.1h-1.1zM72.6 523.3h1.1v1.1h-1.1zM68.5 517.0h1.1v1.1h-1.1zM63.4 530.6h1.1v1.1h-1.1zM65.5 537.6h1.1v1.1h-1.1zM78.6 534.4h1.1v1.1h-1.1zM60.8 540.8h1.1v1.1h-1.1zM79.7 523.9h1.1v1.1h-1.1zM64.6 518.7h1.1v1.1h-1.1zM71.4 522.0h1.1v1.1h-1.1zM65.1 533.0h1.1v1.1h-1.1zM65.2 526.2h1.1v1.1h-1.1zM68.1 537.4h1.1v1.1h-1.1zM67.8 529.5h1.1v1.1h-1.1zM62.9 538.6h1.1v1.1h-1.1zM74.0 546.1h1.1v1.1h-1.1zM66.6 545.9h1.1v1.1h-1.1zM61.0 546.5h1.1v1.1h-1.1zM77.7 518.0h1.1v1.1h-1.1zM63.3 533.0h1.1v1.1h-1.1zM62.3 513.6h1.1v1.1h-1.1zM76.4 512.8h1.1v1.1h-1.1zM70.5 536.6h1.1v1.1h-1.1zM75.3 536.2h1.1v1.1h-1.1zM71.1 542.8h1.1v1.1h-1.1zM64.7 537.5h1.1v1.1h-1.1zM74.3 531.6h1.1v1.1h-1.1zM66.7 540.6h1.1v1.1h-1.1zM67.4 537.5h1.1v1.1h-1.1zM59.1 516.7h1.1v1.1h-1.1zM61.3 516.5h1.1v1.1h-1.1zM69.5 547.9h1.1v1.1h-1.1zM65.3 548.7h1.1v1.1h-1.1zM75.0 540.1h1.1v1.1h-1.1zM70.5 519.4h1.1v1.1h-1.1zM76.7 529.5h1.1v1.1h-1.1zM73.6 524.3h1.1v1.1h-1.1zM70.4 514.7h1.1v1.1h-1.1zM62.9 519.7h1.1v1.1h-1.1zM74.8 512.2h1.1v1.1h-1.1zM57.8 519.7h1.1v1.1h-1.1zM79.1 526.1h1.1v1.1h-1.1zM69.0 520.2h1.1v1.1h-1.1zM74.6 537.2h1.1v1.1h-1.1zM68.7 533.4h1.1v1.1h-1.1zM70.7 542.0h1.1v1.1h-1.1zM60.5 518.4h1.1v1.1h-1.1zM72.2 534.9h1.1v1.1h-1.1zM69.7 534.0h1.1v1.1h-1.1zM59.8 544.4h1.1v1.1h-1.1zM59.7 525.4h1.1v1.1h-1.1zM68.2 526.8h1.1v1.1h-1.1zM59.5 531.3h1.1v1.1h-1.1zM73.2 524.6h1.1v1.1h-1.1zM62.6 540.7h1.1v1.1h-1.1zM59.2 514.2h1.1v1.1h-1.1zM60.2 523.0h1.1v1.1h-1.1zM60.6 513.6h1.1v1.1h-1.1zM68.9 526.3h1.1v1.1h-1.1zM66.8 534.1h1.1v1.1h-1.1zM78.9 529.1h1.1v1.1h-1.1zM75.1 533.1h1.1v1.1h-1.1zM72.1 533.5h1.1v1.1h-1.1zM78.5 542.3h1.1v1.1h-1.1zM56.5 540.1h1.1v1.1h-1.1zM58.8 522.3h1.1v1.1h-1.1zM64.6 529.6h1.1v1.1h-1.1zM58.2 540.8h1.1v1.1h-1.1zM70.4 544.8h1.1v1.1h-1.1zM62.2 520.2h1.1v1.1h-1.1zM62.3 542.2h1.1v1.1h-1.1zM62.9 527.6h1.1v1.1h-1.1zM73.8 546.7h1.1v1.1h-1.1zM56.8 530.2h1.1v1.1h-1.1zM66.3 550.1h1.1v1.1h-1.1zM72.4 515.8h1.1v1.1h-1.1zM59.8 532.9h1.1v1.1h-1.1zM65.3 537.0h1.1v1.1h-1.1zM56.5 540.0h1.1v1.1h-1.1zM61.2 535.0h1.1v1.1h-1.1zM66.0 528.7h1.1v1.1h-1.1zM67.1 524.1h1.1v1.1h-1.1zM77.2 550.6h1.1v1.1h-1.1zM63.6 514.3h1.1v1.1h-1.1zM56.5 539.6h1.1v1.1h-1.1zM75.8 518.4h1.1v1.1h-1.1zM58.2 530.8h1.1v1.1h-1.1zM79.1 528.8h1.1v1.1h-1.1zM74.1 520.2h1.1v1.1h-1.1zM64.1 532.2h1.1v1.1h-1.1zM59.2 546.1h1.1v1.1h-1.1zM65.3 512.8h1.1v1.1h-1.1zM64.1 537.4h1.1v1.1h-1.1zM77.0 516.0h1.1v1.1h-1.1zM66.1 519.3h1.1v1.1h-1.1zM58.0 545.7h1.1v1.1h-1.1zM70.9 540.5h1.1v1.1h-1.1zM58.7 531.2h1.1v1.1h-1.1zM67.2 536.0h1.1v1.1h-1.1zM58.2 516.0h1.1v1.1h-1.1zM71.2 543.5h1.1v1.1h-1.1zM70.8 519.1h1.1v1.1h-1.1zM56.8 529.8h1.1v1.1h-1.1zM75.4 519.9h1.1v1.1h-1.1zM74.9 541.9h1.1v1.1h-1.1zM78.0 520.3h1.1v1.1h-1.1zM72.1 520.8h1.1v1.1h-1.1zM59.9 547.6h1.1v1.1h-1.1zM57.6 523.0h1.1v1.1h-1.1zM79.1 537.0h1.1v1.1h-1.1zM78.7 534.9h1.1v1.1h-1.1zM64.4 525.1h1.1v1.1h-1.1zM74.1 546.8h1.1v1.1h-1.1zM62.7 514.0h1.1v1.1h-1.1zM69.2 531.8h1.1v1.1h-1.1zM69.4 534.7h1.1v1.1h-1.1zM68.0 544.8h1.1v1.1h-1.1zM66.2 549.9h1.1v1.1h-1.1zM79.2 544.4h1.1v1.1h-1.1zM67.0 526.8h1.1v1.1h-1.1zM76.1 525.4h1.1v1.1h-1.1zM65.3 546.3h1.1v1.1h-1.1zM70.9 537.0h1.1v1.1h-1.1zM62.0 531.5h1.1v1.1h-1.1zM78.7 520.5h1.1v1.1h-1.1zM71.6 533.0h1.1v1.1h-1.1zM70.0 543.0h1.1v1.1h-1.1zM57.6 517.8h1.1v1.1h-1.1zM57.3 544.4h1.1v1.1h-1.1zM61.1 533.2h1.1v1.1h-1.1zM59.3 514.1h1.1v1.1h-1.1zM79.6 550.5h1.1v1.1h-1.1zM56.1 527.1h1.1v1.1h-1.1zM64.8 529.8h1.1v1.1h-1.1zM57.4 542.7h1.1v1.1h-1.1zM71.4 550.3h1.1v1.1h-1.1zM57.1 520.1h1.1v1.1h-1.1zM57.9 541.1h1.1v1.1h-1.1zM62.5 538.2h1.1v1.1h-1.1zM75.3 537.0h1.1v1.1h-1.1zM62.4 549.5h1.1v1.1h-1.1zM62.8 545.2h1.1v1.1h-1.1zM75.8 533.7h1.1v1.1h-1.1zM73.9 548.0h1.1v1.1h-1.1zM75.4 542.2h1.1v1.1h-1.1zM76.0 514.8h1.1v1.1h-1.1zM60.3 533.4h1.1v1.1h-1.1zM71.0 535.3h1.1v1.1h-1.1zM60.7 546.7h1.1v1.1h-1.1zM61.8 531.5h1.1v1.1h-1.1zM67.9 535.5h1.1v1.1h-1.1zM68.5 539.8h1.1v1.1h-1.1zM67.5 513.3h1.1v1.1h-1.1zM69.0 512.2h1.1v1.1h-1.1zM74.7 514.3h1.1v1.1h-1.1zM62.7 520.5h1.1v1.1h-1.1zM68.4 534.9h1.1v1.1h-1.1zM63.3 533.8h1.1v1.1h-1.1zM60.2 528.9h1.1v1.1h-1.1zM67.6 510.2h1.1v1.1h-1.1zM65.0 531.6h1.1v1.1h-1.1zM71.0 515.1h1.1v1.1h-1.1zM68.0 510.0h1.1v1.1h-1.1zM76.0 548.0h1.1v1.1h-1.1zM75.9 537.5h1.1v1.1h-1.1zM75.5 512.0h1.1v1.1h-1.1zM78.2 534.3h1.1v1.1h-1.1zM71.9 536.0h1.1v1.1h-1.1zM59.9 534.4h1.1v1.1h-1.1zM66.5 535.6h1.1v1.1h-1.1zM71.2 516.8h1.1v1.1h-1.1zM65.1 549.0h1.1v1.1h-1.1zM72.2 522.4h1.1v1.1h-1.1zM60.9 532.5h1.1v1.1h-1.1zM64.5 528.0h1.1v1.1h-1.1zM69.0 543.7h1.1v1.1h-1.1zM66.3 513.3h1.1v1.1h-1.1zM58.9 525.2h1.1v1.1h-1.1zM79.2 528.4h1.1v1.1h-1.1zM72.6 534.9h1.1v1.1h-1.1zM76.0 547.9h1.1v1.1h-1.1zM64.6 522.5h1.1v1.1h-1.1zM78.7 524.3h1.1v1.1h-1.1zM75.5 538.0h1.1v1.1h-1.1zM79.5 518.6h1.1v1.1h-1.1zM60.7 531.2h1.1v1.1h-1.1zM67.5 523.2h1.1v1.1h-1.1zM65.3 536.0h1.1v1.1h-1.1zM70.7 534.2h1.1v1.1h-1.1zM62.0 538.6h1.1v1.1h-1.1zM58.4 527.8h1.1v1.1h-1.1zM67.4 519.6h1.1v1.1h-1.1zM71.3 510.4h1.1v1.1h-1.1zM65.2 535.1h1.1v1.1h-1.1zM79.7 519.2h1.1v1.1h-1.1zM63.2 525.6h1.1v1.1h-1.1zM75.5 521.3h1.1v1.1h-1.1zM67.2 538.5h1.1v1.1h-1.1zM62.6 522.3h1.1v1.1h-1.1zM62.9 525.2h1.1v1.1h-1.1zM78.7 540.2h1.1v1.1h-1.1zM79.1 538.1h1.1v1.1h-1.1zM71.5 516.6h1.1v1.1h-1.1zM62.7 534.4h1.1v1.1h-1.1zM73.1 549.0h1.1v1.1h-1.1zM61.2 548.0h1.1v1.1h-1.1zM63.7 545.5h1.1v1.1h-1.1zM69.0 521.6h1.1v1.1h-1.1zM65.6 550.1h1.1v1.1h-1.1zM64.4 518.2h1.1v1.1h-1.1zM79.4 526.7h1.1v1.1h-1.1zM60.1 514.6h1.1v1.1h-1.1zM70.7 533.6h1.1v1.1h-1.1zM56.9 540.2h1.1v1.1h-1.1zM58.2 538.7h1.1v1.1h-1.1zM73.4 522.8h1.1v1.1h-1.1zM76.8 540.9h1.1v1.1h-1.1zM72.4 542.6h1.1v1.1h-1.1zM66.6 531.8h1.1v1.1h-1.1zM66.0 532.4h1.1v1.1h-1.1zM73.0 515.8h1.1v1.1h-1.1zM63.4 525.8h1.1v1.1h-1.1zM68.3 544.3h1.1v1.1h-1.1zM62.3 538.4h1.1v1.1h-1.1zM65.4 537.7h1.1v1.1h-1.1zM68.8 538.4h1.1v1.1h-1.1zM59.8 524.5h1.1v1.1h-1.1zM66.1 523.9h1.1v1.1h-1.1zM67.3 517.7h1.1v1.1h-1.1zM75.2 537.9h1.1v1.1h-1.1zM71.4 516.9h1.1v1.1h-1.1zM69.5 550.8h1.1v1.1h-1.1zM76.9 534.0h1.1v1.1h-1.1zM60.7 514.8h1.1v1.1h-1.1zM65.4 535.1h1.1v1.1h-1.1zM69.3 512.0h1.1v1.1h-1.1zM59.2 528.6h1.1v1.1h-1.1zM73.2 544.6h1.1v1.1h-1.1zM69.4 515.2h1.1v1.1h-1.1zM66.2 546.3h1.1v1.1h-1.1zM78.0 526.8h1.1v1.1h-1.1zM76.5 545.6h1.1v1.1h-1.1zM61.3 516.2h1.1v1.1h-1.1zM78.0 528.1h1.1v1.1h-1.1zM59.8 518.9h1.1v1.1h-1.1zM74.2 529.9h1.1v1.1h-1.1zM63.5 544.2h1.1v1.1h-1.1zM64.7 547.0h1.1v1.1h-1.1zM69.3 513.4h1.1v1.1h-1.1zM78.2 520.6h1.1v1.1h-1.1zM59.9 517.1h1.1v1.1h-1.1zM73.3 529.4h1.1v1.1h-1.1zM65.5 512.1h1.1v1.1h-1.1zM62.9 518.1h1.1v1.1h-1.1zM62.3 529.0h1.1v1.1h-1.1zM73.1 549.3h1.1v1.1h-1.1zM79.1 516.2h1.1v1.1h-1.1zM74.3 547.1h1.1v1.1h-1.1zM73.0 523.1h1.1v1.1h-1.1zM73.4 541.2h1.1v1.1h-1.1zM75.3 545.2h1.1v1.1h-1.1zM62.5 535.2h1.1v1.1h-1.1zM71.0 540.0h1.1v1.1h-1.1zM75.3 536.3h1.1v1.1h-1.1zM77.3 548.9h1.1v1.1h-1.1zM77.7 542.5h1.1v1.1h-1.1zM77.7 527.5h1.1v1.1h-1.1zM58.3 522.0h1.1v1.1h-1.1zM65.0 516.4h1.1v1.1h-1.1zM67.0 531.3h1.1v1.1h-1.1zM77.4 519.4h1.1v1.1h-1.1zM66.1 519.7h1.1v1.1h-1.1zM62.4 546.8h1.1v1.1h-1.1zM56.5 539.2h1.1v1.1h-1.1zM62.9 532.5h1.1v1.1h-1.1zM74.7 545.2h1.1v1.1h-1.1zM56.5 531.9h1.1v1.1h-1.1zM60.0 526.4h1.1v1.1h-1.1zM63.5 538.6h1.1v1.1h-1.1zM68.8 535.4h1.1v1.1h-1.1zM64.7 518.6h1.1v1.1h-1.1zM77.2 523.2h1.1v1.1h-1.1zM61.0 533.4h1.1v1.1h-1.1zM69.5 519.0h1.1v1.1h-1.1zM74.7 548.3h1.1v1.1h-1.1zM77.0 546.6h1.1v1.1h-1.1zM75.0 535.6h1.1v1.1h-1.1zM72.2 518.7h1.1v1.1h-1.1zM66.1 543.8h1.1v1.1h-1.1zM56.6 528.3h1.1v1.1h-1.1zM60.0 539.7h1.1v1.1h-1.1zM74.0 523.4h1.1v1.1h-1.1zM58.0 519.1h1.1v1.1h-1.1zM63.5 549.9h1.1v1.1h-1.1zM62.1 513.0h1.1v1.1h-1.1zM73.9 512.2h1.1v1.1h-1.1zM64.6 542.7h1.1v1.1h-1.1zM58.1 542.4h1.1v1.1h-1.1zM64.9 522.9h1.1v1.1h-1.1zM63.8 525.5h1.1v1.1h-1.1zM73.2 538.7h1.1v1.1h-1.1zM63.7 535.0h1.1v1.1h-1.1zM72.6 537.0h1.1v1.1h-1.1zM68.9 528.1h1.1v1.1h-1.1zM77.3 551.0h1.1v1.1h-1.1zM73.6 516.0h1.1v1.1h-1.1zM65.8 536.3h1.1v1.1h-1.1zM67.6 518.5h1.1v1.1h-1.1zM67.3 523.9h1.1v1.1h-1.1zM76.9 522.3h1.1v1.1h-1.1zM59.3 544.5h1.1v1.1h-1.1zM66.2 534.2h1.1v1.1h-1.1zM68.8 523.7h1.1v1.1h-1.1zM66.5 532.3h1.1v1.1h-1.1zM68.0 532.7h1.1v1.1h-1.1zM65.9 519.8h1.1v1.1h-1.1zM63.9 529.1h1.1v1.1h-1.1zM70.6 513.3h1.1v1.1h-1.1zM59.1 534.7h1.1v1.1h-1.1zM63.8 518.5h1.1v1.1h-1.1zM78.7 543.5h1.1v1.1h-1.1zM79.8 519.2h1.1v1.1h-1.1zM57.0 536.3h1.1v1.1h-1.1zM75.8 515.3h1.1v1.1h-1.1zM78.4 527.5h1.1v1.1h-1.1zM77.6 522.3h1.1v1.1h-1.1zM73.2 521.1h1.1v1.1h-1.1zM72.2 519.7h1.1v1.1h-1.1zM73.3 550.8h1.1v1.1h-1.1zM74.9 514.8h1.1v1.1h-1.1zM68.0 548.2h1.1v1.1h-1.1zM61.4 516.5h1.1v1.1h-1.1zM58.3 540.7h1.1v1.1h-1.1zM77.8 537.5h1.1v1.1h-1.1zM74.1 539.9h1.1v1.1h-1.1zM60.3 542.3h1.1v1.1h-1.1zM75.7 517.4h1.1v1.1h-1.1zM63.2 511.4h1.1v1.1h-1.1zM64.5 528.5h1.1v1.1h-1.1zM61.1 519.7h1.1v1.1h-1.1zM60.2 543.8h1.1v1.1h-1.1zM57.8 530.7h1.1v1.1h-1.1zM57.7 532.0h1.1v1.1h-1.1zM76.0 543.9h1.1v1.1h-1.1zM68.4 524.8h1.1v1.1h-1.1zM59.1 529.0h1.1v1.1h-1.1zM68.6 516.6h1.1v1.1h-1.1zM69.0 526.6h1.1v1.1h-1.1zM67.9 528.8h1.1v1.1h-1.1zM61.0 535.1h1.1v1.1h-1.1zM66.4 511.3h1.1v1.1h-1.1zM76.9 527.8h1.1v1.1h-1.1zM65.2 530.3h1.1v1.1h-1.1zM68.1 549.8h1.1v1.1h-1.1zM78.3 534.8h1.1v1.1h-1.1zM61.6 538.6h1.1v1.1h-1.1zM73.4 528.3h1.1v1.1h-1.1zM67.6 530.5h1.1v1.1h-1.1zM74.9 551.1h1.1v1.1h-1.1zM64.6 527.2h1.1v1.1h-1.1zM64.8 535.4h1.1v1.1h-1.1zM76.8 548.3h1.1v1.1h-1.1zM78.0 534.0h1.1v1.1h-1.1zM71.2 544.3h1.1v1.1h-1.1zM79.5 544.3h1.1v1.1h-1.1zM73.6 526.0h1.1v1.1h-1.1zM75.9 523.6h1.1v1.1h-1.1zM77.5 549.3h1.1v1.1h-1.1zM62.5 523.6h1.1v1.1h-1.1zM79.7 542.7h1.1v1.1h-1.1zM65.4 517.3h1.1v1.1h-1.1zM67.9 530.3h1.1v1.1h-1.1zM60.3 525.7h1.1v1.1h-1.1zM75.7 521.4h1.1v1.1h-1.1zM64.1 519.8h1.1v1.1h-1.1zM72.5 550.3h1.1v1.1h-1.1zM61.2 537.9h1.1v1.1h-1.1zM64.4 529.3h1.1v1.1h-1.1zM65.2 533.9h1.1v1.1h-1.1zM61.7 545.3h1.1v1.1h-1.1zM56.8 538.2h1.1v1.1h-1.1zM74.5 515.2h1.1v1.1h-1.1zM78.8 518.7h1.1v1.1h-1.1zM61.4 547.2h1.1v1.1h-1.1zM59.9 533.2h1.1v1.1h-1.1zM64.3 534.6h1.1v1.1h-1.1zM58.0 516.6h1.1v1.1h-1.1zM71.6 515.6h1.1v1.1h-1.1zM64.8 518.9h1.1v1.1h-1.1zM77.7 533.3h1.1v1.1h-1.1zM76.7 525.4h1.1v1.1h-1.1zM78.1 538.3h1.1v1.1h-1.1zM78.4 527.9h1.1v1.1h-1.1zM70.2 531.4h1.1v1.1h-1.1zM68.1 549.8h1.1v1.1h-1.1zM58.5 536.5h1.1v1.1h-1.1zM68.6 540.7h1.1v1.1h-1.1zM76.5 517.4h1.1v1.1h-1.1zM66.4 545.9h1.1v1.1h-1.1zM61.1 543.8h1.1v1.1h-1.1zM74.2 517.9h1.1v1.1h-1.1zM59.8 527.7h1.1v1.1h-1.1zM60.8 526.4h1.1v1.1h-1.1zM62.9 533.8h1.1v1.1h-1.1zM70.6 536.5h1.1v1.1h-1.1zM61.3 544.0h1.1v1.1h-1.1zM70.4 531.9h1.1v1.1h-1.1zM68.7 548.4h1.1v1.1h-1.1zM66.7 516.9h1.1v1.1h-1.1zM75.5 549.9h1.1v1.1h-1.1zM61.2 536.5h1.1v1.1h-1.1zM67.9 531.1h1.1v1.1h-1.1zM58.4 529.6h1.1v1.1h-1.1zM68.3 548.2h1.1v1.1h-1.1zM67.4 529.6h1.1v1.1h-1.1zM63.1 544.3h1.1v1.1h-1.1zM69.9 530.1h1.1v1.1h-1.1zM64.9 544.5h1.1v1.1h-1.1zM58.8 513.9h1.1v1.1h-1.1zM68.6 527.7h1.1v1.1h-1.1zM75.2 542.1h1.1v1.1h-1.1zM79.5 531.4h1.1v1.1h-1.1zM64.8 512.9h1.1v1.1h-1.1zM62.0 541.2h1.1v1.1h-1.1zM58.7 537.0h1.1v1.1h-1.1zM66.5 516.1h1.1v1.1h-1.1zM75.4 518.6h1.1v1.1h-1.1zM61.6 530.9h1.1v1.1h-1.1zM76.4 516.8h1.1v1.1h-1.1zM73.1 548.3h1.1v1.1h-1.1zM71.2 541.4h1.1v1.1h-1.1zM75.7 545.2h1.1v1.1h-1.1zM78.4 523.7h1.1v1.1h-1.1zM59.9 514.3h1.1v1.1h-1.1zM75.7 540.4h1.1v1.1h-1.1zM74.6 543.1h1.1v1.1h-1.1zM61.8 539.0h1.1v1.1h-1.1zM63.1 517.2h1.1v1.1h-1.1zM64.7 533.1h1.1v1.1h-1.1zM62.9 516.1h1.1v1.1h-1.1zM73.3 522.2h1.1v1.1h-1.1zM59.2 529.8h1.1v1.1h-1.1zM67.6 520.3h1.1v1.1h-1.1zM64.6 549.0h1.1v1.1h-1.1zM69.1 523.3h1.1v1.1h-1.1zM70.5 533.4h1.1v1.1h-1.1zM71.4 550.7h1.1v1.1h-1.1zM66.4 538.0h1.1v1.1h-1.1zM77.3 526.0h1.1v1.1h-1.1zM76.1 541.4h1.1v1.1h-1.1zM78.4 517.9h1.1v1.1h-1.1zM66.7 514.2h1.1v1.1h-1.1zM73.5 511.4h1.1v1.1h-1.1zM66.3 537.8h1.1v1.1h-1.1zM62.7 537.4h1.1v1.1h-1.1zM71.6 538.0h1.1v1.1h-1.1zM78.7 538.1h1.1v1.1h-1.1zM75.3 534.3h1.1v1.1h-1.1zM62.8 549.4h1.1v1.1h-1.1zM61.5 529.1h1.1v1.1h-1.1zM74.5 515.0h1.1v1.1h-1.1zM72.9 520.3h1.1v1.1h-1.1zM76.7 527.0h1.1v1.1h-1.1zM59.5 535.5h1.1v1.1h-1.1zM76.7 524.8h1.1v1.1h-1.1zM66.4 528.1h1.1v1.1h-1.1zM62.6 522.1h1.1v1.1h-1.1zM64.2 540.4h1.1v1.1h-1.1zM79.8 545.3h1.1v1.1h-1.1zM78.9 524.0h1.1v1.1h-1.1zM58.0 543.4h1.1v1.1h-1.1zM63.6 518.1h1.1v1.1h-1.1zM73.3 550.7h1.1v1.1h-1.1zM56.8 524.8h1.1v1.1h-1.1zM56.9 537.6h1.1v1.1h-1.1zM57.1 535.1h1.1v1.1h-1.1zM76.8 513.3h1.1v1.1h-1.1zM64.0 534.4h1.1v1.1h-1.1zM63.6 511.8h1.1v1.1h-1.1zM75.0 530.2h1.1v1.1h-1.1zM63.6 532.4h1.1v1.1h-1.1zM73.7 549.8h1.1v1.1h-1.1zM64.9 517.4h1.1v1.1h-1.1zM63.1 511.8h1.1v1.1h-1.1zM65.3 536.1h1.1v1.1h-1.1zM60.0 522.8h1.1v1.1h-1.1zM57.8 532.9h1.1v1.1h-1.1zM76.9 520.5h1.1v1.1h-1.1zM76.8 538.8h1.1v1.1h-1.1zM67.1 515.1h1.1v1.1h-1.1zM72.5 531.3h1.1v1.1h-1.1zM76.7 542.2h1.1v1.1h-1.1zM65.4 547.3h1.1v1.1h-1.1zM73.1 523.6h1.1v1.1h-1.1zM74.1 532.8h1.1v1.1h-1.1zM59.3 515.6h1.1v1.1h-1.1zM74.0 544.7h1.1v1.1h-1.1zM72.9 540.6h1.1v1.1h-1.1zM75.8 530.3h1.1v1.1h-1.1zM75.2 528.9h1.1v1.1h-1.1zM64.0 532.7h1.1v1.1h-1.1zM64.2 525.0h1.1v1.1h-1.1zM66.7 533.7h1.1v1.1h-1.1zM58.6 526.2h1.1v1.1h-1.1zM69.0 531.0h1.1v1.1h-1.1zM71.0 539.2h1.1v1.1h-1.1zM57.7 516.6h1.1v1.1h-1.1zM70.9 544.7h1.1v1.1h-1.1zM74.1 549.5h1.1v1.1h-1.1zM59.4 519.7h1.1v1.1h-1.1zM70.3 535.5h1.1v1.1h-1.1zM75.7 525.6h1.1v1.1h-1.1zM60.6 539.3h1.1v1.1h-1.1zM79.3 548.4h1.1v1.1h-1.1zM73.1 545.7h1.1v1.1h-1.1zM76.9 515.6h1.1v1.1h-1.1zM62.5 536.7h1.1v1.1h-1.1zM72.0 523.7h1.1v1.1h-1.1zM78.2 518.6h1.1v1.1h-1.1zM75.7 541.4h1.1v1.1h-1.1zM61.7 534.0h1.1v1.1h-1.1zM75.2 535.9h1.1v1.1h-1.1zM71.4 546.3h1.1v1.1h-1.1zM75.2 524.1h1.1v1.1h-1.1zM65.6 530.5h1.1v1.1h-1.1zM66.8 519.4h1.1v1.1h-1.1zM78.2 528.8h1.1v1.1h-1.1zM57.7 517.0h1.1v1.1h-1.1zM59.7 524.3h1.1v1.1h-1.1zM79.3 536.8h1.1v1.1h-1.1zM77.9 521.4h1.1v1.1h-1.1zM59.5 537.2h1.1v1.1h-1.1zM79.4 543.3h1.1v1.1h-1.1zM62.4 536.2h1.1v1.1h-1.1zM77.4 529.5h1.1v1.1h-1.1zM77.7 526.2h1.1v1.1h-1.1zM63.8 549.9h1.1v1.1h-1.1zM78.3 519.9h1.1v1.1h-1.1zM75.0 539.0h1.1v1.1h-1.1zM65.3 535.1h1.1v1.1h-1.1zM76.6 543.9h1.1v1.1h-1.1zM63.4 538.5h1.1v1.1h-1.1zM64.3 518.0h1.1v1.1h-1.1zM60.6 515.5h1.1v1.1h-1.1zM79.0 523.9h1.1v1.1h-1.1zM75.3 517.6h1.1v1.1h-1.1zM67.1 535.1h1.1v1.1h-1.1zM62.3 513.5h1.1v1.1h-1.1zM79.2 538.2h1.1v1.1h-1.1zM65.5 542.8h1.1v1.1h-1.1zM66.2 547.1h1.1v1.1h-1.1zM73.3 544.3h1.1v1.1h-1.1zM74.5 511.6h1.1v1.1h-1.1zM58.6 532.8h1.1v1.1h-1.1zM72.2 529.8h1.1v1.1h-1.1zM76.1 534.0h1.1v1.1h-1.1zM76.1 513.5h1.1v1.1h-1.1zM67.4 543.8h1.1v1.1h-1.1zM70.1 538.1h1.1v1.1h-1.1zM77.3 542.9h1.1v1.1h-1.1zM68.1 518.8h1.1v1.1h-1.1zM78.4 523.3h1.1v1.1h-1.1zM78.8 541.8h1.1v1.1h-1.1zM67.7 541.5h1.1v1.1h-1.1zM57.3 539.9h1.1v1.1h-1.1zM76.1 527.3h1.1v1.1h-1.1zM73.8 531.2h1.1v1.1h-1.1zM79.3 540.9h1.1v1.1h-1.1zM56.2 534.5h1.1v1.1h-1.1zM66.5 519.1h1.1v1.1h-1.1zM62.8 529.5h1.1v1.1h-1.1zM73.6 550.2h1.1v1.1h-1.1zM64.2 513.1h1.1v1.1h-1.1zM75.3 531.0h1.1v1.1h-1.1zM70.5 547.5h1.1v1.1h-1.1zM61.2 531.4h1.1v1.1h-1.1zM72.7 523.8h1.1v1.1h-1.1zM59.1 546.8h1.1v1.1h-1.1zM72.2 519.9h1.1v1.1h-1.1zM71.7 532.9h1.1v1.1h-1.1zM68.3 546.4h1.1v1.1h-1.1zM73.4 515.4h1.1v1.1h-1.1zM74.2 522.6h1.1v1.1h-1.1zM72.9 526.9h1.1v1.1h-1.1zM77.2 542.2h1.1v1.1h-1.1zM74.1 538.6h1.1v1.1h-1.1zM78.1 532.3h1.1v1.1h-1.1zM66.0 525.6h1.1v1.1h-1.1zM56.8 521.9h1.1v1.1h-1.1zM60.3 534.3h1.1v1.1h-1.1zM62.9 543.6h1.1v1.1h-1.1zM57.0 524.6h1.1v1.1h-1.1zM58.6 521.7h1.1v1.1h-1.1zM68.5 510.2h1.1v1.1h-1.1zM62.1 514.4h1.1v1.1h-1.1zM62.9 515.3h1.1v1.1h-1.1zM73.8 528.0h1.1v1.1h-1.1zM76.5 542.4h1.1v1.1h-1.1zM76.7 526.8h1.1v1.1h-1.1zM64.9 515.9h1.1v1.1h-1.1zM73.0 516.9h1.1v1.1h-1.1zM76.5 549.8h1.1v1.1h-1.1zM59.6 535.8h1.1v1.1h-1.1zM60.8 522.3h1.1v1.1h-1.1zM71.6 545.3h1.1v1.1h-1.1zM62.4 549.6h1.1v1.1h-1.1zM60.6 532.8h1.1v1.1h-1.1zM64.8 528.8h1.1v1.1h-1.1zM56.4 526.0h1.1v1.1h-1.1zM66.5 525.6h1.1v1.1h-1.1zM61.9 539.7h1.1v1.1h-1.1zM61.2 548.1h1.1v1.1h-1.1zM63.9 511.2h1.1v1.1h-1.1zM59.0 515.3h1.1v1.1h-1.1zM67.3 531.8h1.1v1.1h-1.1zM72.5 534.5h1.1v1.1h-1.1zM64.1 527.9h1.1v1.1h-1.1zM78.3 531.5h1.1v1.1h-1.1zM76.6 547.7h1.1v1.1h-1.1zM63.3 533.4h1.1v1.1h-1.1zM56.9 520.8h1.1v1.1h-1.1zM74.4 530.8h1.1v1.1h-1.1zM61.8 522.3h1.1v1.1h-1.1zM64.0 536.3h1.1v1.1h-1.1zM69.9 534.5h1.1v1.1h-1.1zM80.0 539.5h1.1v1.1h-1.1zM63.2 550.7h1.1v1.1h-1.1zM67.2 530.7h1.1v1.1h-1.1zM71.1 511.4h1.1v1.1h-1.1zM72.4 530.6h1.1v1.1h-1.1zM61.1 531.1h1.1v1.1h-1.1zM70.3 543.0h1.1v1.1h-1.1zM69.1 548.8h1.1v1.1h-1.1zM71.8 516.6h1.1v1.1h-1.1zM58.8 547.0h1.1v1.1h-1.1zM59.0 517.1h1.1v1.1h-1.1zM79.4 534.6h1.1v1.1h-1.1zM75.9 545.3h1.1v1.1h-1.1zM78.4 527.1h1.1v1.1h-1.1zM79.1 518.9h1.1v1.1h-1.1zM65.4 549.5h1.1v1.1h-1.1zM74.1 513.4h1.1v1.1h-1.1zM69.4 529.4h1.1v1.1h-1.1zM72.3 520.9h1.1v1.1h-1.1zM63.7 524.8h1.1v1.1h-1.1zM76.7 545.2h1.1v1.1h-1.1zM65.8 518.1h1.1v1.1h-1.1zM59.6 533.2h1.1v1.1h-1.1zM71.3 535.8h1.1v1.1h-1.1zM61.6 520.3h1.1v1.1h-1.1zM78.9 523.0h1.1v1.1h-1.1zM60.7 531.9h1.1v1.1h-1.1zM63.6 520.4h1.1v1.1h-1.1zM79.6 540.4h1.1v1.1h-1.1zM68.5 519.2h1.1v1.1h-1.1zM78.1 545.0h1.1v1.1h-1.1zM74.8 539.2h1.1v1.1h-1.1zM58.9 515.2h1.1v1.1h-1.1zM61.2 531.6h1.1v1.1h-1.1zM65.3 512.6h1.1v1.1h-1.1zM77.1 517.0h1.1v1.1h-1.1zM64.0 522.9h1.1v1.1h-1.1zM67.1 539.5h1.1v1.1h-1.1zM67.5 535.8h1.1v1.1h-1.1zM63.8 532.1h1.1v1.1h-1.1zM74.9 517.5h1.1v1.1h-1.1zM57.3 522.3h1.1v1.1h-1.1zM61.4 538.6h1.1v1.1h-1.1zM75.8 530.4h1.1v1.1h-1.1zM68.3 512.7h1.1v1.1h-1.1zM64.9 511.7h1.1v1.1h-1.1zM67.0 527.3h1.1v1.1h-1.1zM79.7 547.3h1.1v1.1h-1.1zM70.3 520.0h1.1v1.1h-1.1zM69.8 534.6h1.1v1.1h-1.1zM79.8 520.5h1.1v1.1h-1.1zM77.2 546.9h1.1v1.1h-1.1zM78.9 532.7h1.1v1.1h-1.1zM72.0 550.4h1.1v1.1h-1.1zM63.3 540.5h1.1v1.1h-1.1zM71.1 533.1h1.1v1.1h-1.1zM64.4 525.1h1.1v1.1h-1.1zM75.5 532.1h1.1v1.1h-1.1zM67.1 515.3h1.1v1.1h-1.1zM76.2 521.5h1.1v1.1h-1.1zM66.9 511.8h1.1v1.1h-1.1zM70.4 519.8h1.1v1.1h-1.1zM58.4 527.5h1.1v1.1h-1.1zM62.8 545.8h1.1v1.1h-1.1zM78.9 548.4h1.1v1.1h-1.1zM71.8 510.7h1.1v1.1h-1.1zM64.8 529.1h1.1v1.1h-1.1zM68.4 538.5h1.1v1.1h-1.1zM74.6 541.4h1.1v1.1h-1.1zM74.9 516.5h1.1v1.1h-1.1zM63.0 520.3h1.1v1.1h-1.1zM61.7 523.0h1.1v1.1h-1.1zM71.3 517.7h1.1v1.1h-1.1zM68.7 519.1h1.1v1.1h-1.1zM69.6 537.6h1.1v1.1h-1.1zM61.2 519.1h1.1v1.1h-1.1zM63.6 517.7h1.1v1.1h-1.1zM74.0 521.2h1.1v1.1h-1.1zM64.6 528.9h1.1v1.1h-1.1zM74.2 518.1h1.1v1.1h-1.1zM57.1 530.6h1.1v1.1h-1.1zM78.8 549.2h1.1v1.1h-1.1zM61.0 544.3h1.1v1.1h-1.1zM67.5 541.4h1.1v1.1h-1.1zM78.1 549.4h1.1v1.1h-1.1zM62.1 548.5h1.1v1.1h-1.1zM61.5 533.0h1.1v1.1h-1.1zM79.7 538.9h1.1v1.1h-1.1zM77.7 524.6h1.1v1.1h-1.1zM68.8 532.4h1.1v1.1h-1.1zM70.5 531.1h1.1v1.1h-1.1zM62.0 527.5h1.1v1.1h-1.1zM61.1 537.4h1.1v1.1h-1.1zM78.4 529.3h1.1v1.1h-1.1zM70.9 513.8h1.1v1.1h-1.1zM66.7 525.7h1.1v1.1h-1.1zM64.9 548.2h1.1v1.1h-1.1zM76.7 540.9h1.1v1.1h-1.1zM63.3 528.3h1.1v1.1h-1.1zM63.7 512.8h1.1v1.1h-1.1zM70.6 514.5h1.1v1.1h-1.1zM62.1 520.8h1.1v1.1h-1.1zM69.4 531.8h1.1v1.1h-1.1zM74.4 514.3h1.1v1.1h-1.1zM62.9 525.0h1.1v1.1h-1.1zM67.3 517.4h1.1v1.1h-1.1zM69.8 514.2h1.1v1.1h-1.1zM64.7 514.9h1.1v1.1h-1.1zM61.4 514.9h1.1v1.1h-1.1zM58.7 544.7h1.1v1.1h-1.1zM69.6 517.4h1.1v1.1h-1.1zM78.5 514.5h1.1v1.1h-1.1zM76.8 550.2h1.1v1.1h-1.1zM79.1 540.6h1.1v1.1h-1.1zM69.0 512.9h1.1v1.1h-1.1zM72.9 515.9h1.1v1.1h-1.1zM69.1 513.9h1.1v1.1h-1.1zM67.1 530.0h1.1v1.1h-1.1zM67.2 512.1h1.1v1.1h-1.1zM72.4 543.2h1.1v1.1h-1.1zM61.6 527.1h1.1v1.1h-1.1zM73.2 518.0h1.1v1.1h-1.1zM67.8 513.7h1.1v1.1h-1.1zM72.2 533.7h1.1v1.1h-1.1zM78.6 542.5h1.1v1.1h-1.1zM61.6 534.3h1.1v1.1h-1.1zM65.7 519.8h1.1v1.1h-1.1zM62.6 543.5h1.1v1.1h-1.1zM57.3 531.4h1.1v1.1h-1.1zM70.9 534.4h1.1v1.1h-1.1zM71.1 547.9h1.1v1.1h-1.1zM80.0 538.2h1.1v1.1h-1.1zM70.4 514.7h1.1v1.1h-1.1zM65.5 539.0h1.1v1.1h-1.1zM77.6 522.0h1.1v1.1h-1.1zM63.3 533.4h1.1v1.1h-1.1zM74.0 532.5h1.1v1.1h-1.1zM59.9 515.7h1.1v1.1h-1.1zM64.7 510.9h1.1v1.1h-1.1zM76.4 550.7h1.1v1.1h-1.1zM64.3 511.1h1.1v1.1h-1.1zM61.8 512.0h1.1v1.1h-1.1zM77.4 529.1h1.1v1.1h-1.1zM76.6 532.5h1.1v1.1h-1.1zM61.0 539.9h1.1v1.1h-1.1zM67.7 544.3h1.1v1.1h-1.1zM67.6 544.2h1.1v1.1h-1.1zM79.2 549.4h1.1v1.1h-1.1zM74.1 550.5h1.1v1.1h-1.1zM67.0 523.6h1.1v1.1h-1.1zM69.4 539.6h1.1v1.1h-1.1zM63.6 531.2h1.1v1.1h-1.1zM65.3 534.6h1.1v1.1h-1.1zM77.3 526.6h1.1v1.1h-1.1zM71.7 511.2h1.1v1.1h-1.1zM78.0 540.4h1.1v1.1h-1.1zM66.0 537.0h1.1v1.1h-1.1zM64.9 520.9h1.1v1.1h-1.1zM75.8 538.2h1.1v1.1h-1.1zM75.8 524.4h1.1v1.1h-1.1zM66.8 533.2h1.1v1.1h-1.1zM75.9 533.2h1.1v1.1h-1.1zM73.5 516.6h1.1v1.1h-1.1zM68.5 540.8h1.1v1.1h-1.1zM60.4 539.3h1.1v1.1h-1.1zM61.7 542.2h1.1v1.1h-1.1zM72.9 519.1h1.1v1.1h-1.1zM60.8 512.6h1.1v1.1h-1.1zM75.3 514.7h1.1v1.1h-1.1zM71.7 521.4h1.1v1.1h-1.1zM70.6 510.5h1.1v1.1h-1.1zM62.2 526.7h1.1v1.1h-1.1zM58.9 524.9h1.1v1.1h-1.1zM56.8 523.5h1.1v1.1h-1.1zM57.1 526.0h1.1v1.1h-1.1zM66.2 537.3h1.1v1.1h-1.1zM60.9 523.4h1.1v1.1h-1.1zM63.3 533.6h1.1v1.1h-1.1zM67.1 543.5h1.1v1.1h-1.1zM75.2 531.9h1.1v1.1h-1.1zM71.7 548.7h1.1v1.1h-1.1zM57.0 542.2h1.1v1.1h-1.1zM67.6 533.2h1.1v1.1h-1.1zM60.5 513.3h1.1v1.1h-1.1zM76.5 529.5h1.1v1.1h-1.1zM69.3 549.9h1.1v1.1h-1.1zM73.7 511.7h1.1v1.1h-1.1zM72.5 518.5h1.1v1.1h-1.1zM75.6 517.5h1.1v1.1h-1.1zM62.7 546.0h1.1v1.1h-1.1zM61.5 547.9h1.1v1.1h-1.1zM73.9 540.3h1.1v1.1h-1.1zM79.0 545.6h1.1v1.1h-1.1zM61.5 520.7h1.1v1.1h-1.1zM69.6 547.4h1.1v1.1h-1.1zM69.1 514.0h1.1v1.1h-1.1zM65.0 522.8h1.1v1.1h-1.1zM74.0 545.9h1.1v1.1h-1.1zM59.2 538.8h1.1v1.1h-1.1zM64.9 549.0h1.1v1.1h-1.1zM66.3 545.4h1.1v1.1h-1.1zM78.9 518.7h1.1v1.1h-1.1zM72.4 527.4h1.1v1.1h-1.1zM73.1 551.3h1.1v1.1h-1.1zM80.0 539.3h1.1v1.1h-1.1zM61.4 543.1h1.1v1.1h-1.1zM70.5 513.3h1.1v1.1h-1.1zM59.9 532.9h1.1v1.1h-1.1zM72.7 516.3h1.1v1.1h-1.1zM75.8 533.9h1.1v1.1h-1.1zM71.3 548.2h1.1v1.1h-1.1zM69.9 532.7h1.1v1.1h-1.1zM75.0 551.5h1.1v1.1h-1.1zM78.9 548.8h1.1v1.1h-1.1zM78.2 530.7h1.1v1.1h-1.1zM75.4 550.4h1.1v1.1h-1.1zM66.4 542.0h1.1v1.1h-1.1zM74.4 520.5h1.1v1.1h-1.1zM61.6 513.9h1.1v1.1h-1.1zM62.7 531.7h1.1v1.1h-1.1zM79.5 541.5h1.1v1.1h-1.1zM63.2 515.3h1.1v1.1h-1.1zM62.3 518.3h1.1v1.1h-1.1zM64.1 550.7h1.1v1.1h-1.1zM67.6 543.7h1.1v1.1h-1.1zM60.8 523.4h1.1v1.1h-1.1zM62.3 549.4h1.1v1.1h-1.1zM77.2 529.8h1.1v1.1h-1.1zM78.4 520.5h1.1v1.1h-1.1zM59.7 524.3h1.1v1.1h-1.1zM66.6 521.2h1.1v1.1h-1.1zM66.1 539.0h1.1v1.1h-1.1zM75.9 525.5h1.1v1.1h-1.1zM71.8 534.1h1.1v1.1h-1.1zM65.8 535.9h1.1v1.1h-1.1zM74.9 531.0h1.1v1.1h-1.1zM61.0 524.6h1.1v1.1h-1.1zM75.0 519.6h1.1v1.1h-1.1zM67.2 513.8h1.1v1.1h-1.1zM77.3 539.2h1.1v1.1h-1.1zM59.6 540.6h1.1v1.1h-1.1zM74.2 541.5h1.1v1.1h-1.1zM69.9 543.7h1.1v1.1h-1.1zM69.0 536.7h1.1v1.1h-1.1zM66.1 549.8h1.1v1.1h-1.1zM57.5 529.1h1.1v1.1h-1.1zM68.1 521.9h1.1v1.1h-1.1zM60.9 528.2h1.1v1.1h-1.1zM59.3 530.8h1.1v1.1h-1.1zM65.9 529.3h1.1v1.1h-1.1zM68.5 511.3h1.1v1.1h-1.1zM65.0 516.5h1.1v1.1h-1.1zM67.6 521.3h1.1v1.1h-1.1zM72.2 527.0h1.1v1.1h-1.1zM75.0 518.4h1.1v1.1h-1.1zM57.2 525.1h1.1v1.1h-1.1zM65.5 512.2h1.1v1.1h-1.1zM63.6 512.1h1.1v1.1h-1.1zM66.9 511.1h1.1v1.1h-1.1zM67.8 510.9h1.1v1.1h-1.1zM68.6 511.1h1.1v1.1h-1.1zM67.2 509.5h1.1v1.1h-1.1zM70.6 511.2h1.1v1.1h-1.1zM68.5 509.9h1.1v1.1h-1.1zM68.2 508.4h1.1v1.1h-1.1zM70.7 510.1h1.1v1.1h-1.1zM71.7 511.0h1.1v1.1h-1.1zM69.3 509.0h1.1v1.1h-1.1zM78.0 514.3h1.1v1.1h-1.1zM76.9 510.6h1.1v1.1h-1.1zM75.1 509.8h1.1v1.1h-1.1zM77.6 512.1h1.1v1.1h-1.1zM75.1 512.8h1.1v1.1h-1.1zM77.8 511.4h1.1v1.1h-1.1zM79.2 517.9h1.1v1.1h-1.1zM77.4 514.1h1.1v1.1h-1.1zM78.6 517.4h1.1v1.1h-1.1zM79.0 517.2h1.1v1.1h-1.1zM79.2 517.8h1.1v1.1h-1.1zM77.3 514.6h1.1v1.1h-1.1zM80.7 526.6h1.1v1.1h-1.1zM80.8 524.4h1.1v1.1h-1.1zM79.5 526.1h1.1v1.1h-1.1zM78.7 539.7h1.1v1.1h-1.1zM79.4 528.9h1.1v1.1h-1.1zM79.0 536.9h1.1v1.1h-1.1zM79.3 534.5h1.1v1.1h-1.1zM78.9 535.8h1.1v1.1h-1.1zM78.4 534.8h1.1v1.1h-1.1zM80.2 526.1h1.1v1.1h-1.1zM79.0 536.3h1.1v1.1h-1.1zM81.0 529.2h1.1v1.1h-1.1zM80.3 523.1h1.1v1.1h-1.1zM80.6 523.9h1.1v1.1h-1.1zM80.6 530.2h1.1v1.1h-1.1zM78.6 526.3h1.1v1.1h-1.1zM79.9 538.1h1.1v1.1h-1.1zM81.2 531.5h1.1v1.1h-1.1zM79.5 530.1h1.1v1.1h-1.1zM79.9 520.4h1.1v1.1h-1.1zM80.2 543.7h1.1v1.1h-1.1zM79.8 548.1h1.1v1.1h-1.1zM79.3 543.2h1.1v1.1h-1.1zM78.8 546.4h1.1v1.1h-1.1zM80.4 546.6h1.1v1.1h-1.1zM79.6 544.1h1.1v1.1h-1.1zM80.9 541.2h1.1v1.1h-1.1zM79.8 548.4h1.1v1.1h-1.1zM80.4 544.4h1.1v1.1h-1.1zM80.3 540.7h1.1v1.1h-1.1zM79.6 544.4h1.1v1.1h-1.1zM79.0 538.9h1.1v1.1h-1.1zM79.3 541.6h1.1v1.1h-1.1zM73.3 551.7h1.1v1.1h-1.1zM75.4 551.0h1.1v1.1h-1.1zM78.8 549.9h1.1v1.1h-1.1zM80.6 547.4h1.1v1.1h-1.1zM74.3 549.6h1.1v1.1h-1.1zM76.9 552.5h1.1v1.1h-1.1zM65.3 550.7h1.1v1.1h-1.1zM74.7 551.9h1.1v1.1h-1.1zM71.0 550.1h1.1v1.1h-1.1zM66.1 551.1h1.1v1.1h-1.1zM62.9 550.4h1.1v1.1h-1.1zM71.6 553.3h1.1v1.1h-1.1zM69.1 549.9h1.1v1.1h-1.1zM64.2 550.9h1.1v1.1h-1.1zM74.3 551.6h1.1v1.1h-1.1zM68.1 550.6h1.1v1.1h-1.1zM65.8 551.8h1.1v1.1h-1.1zM69.1 552.0h1.1v1.1h-1.1zM61.6 549.7h1.1v1.1h-1.1zM57.3 546.0h1.1v1.1h-1.1zM62.4 549.7h1.1v1.1h-1.1zM59.1 550.1h1.1v1.1h-1.1zM62.5 550.1h1.1v1.1h-1.1zM61.1 548.7h1.1v1.1h-1.1zM57.3 544.3h1.1v1.1h-1.1zM57.9 548.7h1.1v1.1h-1.1zM57.1 541.2h1.1v1.1h-1.1zM54.0 538.6h1.1v1.1h-1.1zM58.4 543.2h1.1v1.1h-1.1zM58.8 545.8h1.1v1.1h-1.1zM56.7 541.3h1.1v1.1h-1.1zM57.3 546.2h1.1v1.1h-1.1zM57.4 544.4h1.1v1.1h-1.1zM56.9 526.1h1.1v1.1h-1.1zM56.4 534.0h1.1v1.1h-1.1zM57.7 528.4h1.1v1.1h-1.1zM56.6 537.2h1.1v1.1h-1.1zM54.1 537.8h1.1v1.1h-1.1zM56.5 527.4h1.1v1.1h-1.1zM55.8 536.2h1.1v1.1h-1.1zM55.5 532.2h1.1v1.1h-1.1zM57.8 529.7h1.1v1.1h-1.1zM56.0 523.8h1.1v1.1h-1.1zM56.0 526.0h1.1v1.1h-1.1zM56.8 529.0h1.1v1.1h-1.1zM54.8 526.5h1.1v1.1h-1.1zM54.9 535.1h1.1v1.1h-1.1zM56.1 536.6h1.1v1.1h-1.1zM55.7 534.5h1.1v1.1h-1.1zM56.5 528.7h1.1v1.1h-1.1zM57.0 519.5h1.1v1.1h-1.1zM55.3 517.9h1.1v1.1h-1.1zM57.1 518.7h1.1v1.1h-1.1zM58.8 516.2h1.1v1.1h-1.1zM55.7 522.7h1.1v1.1h-1.1zM54.7 521.4h1.1v1.1h-1.1zM58.4 515.1h1.1v1.1h-1.1zM56.6 522.6h1.1v1.1h-1.1zM58.4 515.6h1.1v1.1h-1.1zM57.7 521.9h1.1v1.1h-1.1zM60.1 514.8h1.1v1.1h-1.1zM60.9 512.3h1.1v1.1h-1.1zM62.2 510.5h1.1v1.1h-1.1zM58.2 513.7h1.1v1.1h-1.1zM59.1 511.8h1.1v1.1h-1.1z"/>
</g>
<path d="M69.0,522.0 L71.0,521.0 L72.5,525.5 L71.5,530.0 L69.3,529.0Z" fill="none" stroke="#e63946" stroke-width="0.7" opacity="0.9"/>
<path d="M61.0,516.0 L70.0,513.0 L77.0,517.0 L78.0,535.0 L74.0,548.0 L63.0,548.0 L59.0,540.0 L59.0,522.0Z" fill="none" stroke="#fff" stroke-width="0.7" opacity="0.55" stroke-linejoin="round"/>
<path d="M64.0,519.0 L72.0,516.5 L76.0,527.0 L74.0,540.0 L66.0,544.0 L62.0,535.0Z" fill="none" stroke="#fff" stroke-width="0.7" opacity="0.55" stroke-linejoin="round"/>
<g fill="#e63946">
<path d="M90.4 528.7h1.1v1.1h-1.1zM81.7 517.2h1.1v1.1h-1.1zM96.9 519.9h1.1v1.1h-1.1zM90.2 517.1h1.1v1.1h-1.1zM92.4 532.8h1.1v1.1h-1.1zM97.4 526.7h1.1v1.1h-1.1zM99.1 530.1h1.1v1.1h-1.1zM97.6 535.7h1.1v1.1h-1.1zM100.8 533.1h1.1v1.1h-1.1zM83.4 516.4h1.1v1.1h-1.1zM92.2 536.8h1.1v1.1h-1.1zM93.4 520.4h1.1v1.1h-1.1zM92.5 535.1h1.1v1.1h-1.1zM96.1 518.3h1.1v1.1h-1.1zM83.3 535.5h1.1v1.1h-1.1zM95.7 538.2h1.1v1.1h-1.1zM91.4 516.9h1.1v1.1h-1.1zM90.8 533.6h1.1v1.1h-1.1zM101.5 522.0h1.1v1.1h-1.1zM96.6 524.0h1.1v1.1h-1.1zM94.0 516.6h1.1v1.1h-1.1zM81.9 522.6h1.1v1.1h-1.1zM101.5 537.3h1.1v1.1h-1.1zM99.0 521.2h1.1v1.1h-1.1zM95.6 531.3h1.1v1.1h-1.1zM103.6 533.5h1.1v1.1h-1.1zM94.0 526.1h1.1v1.1h-1.1zM96.0 533.4h1.1v1.1h-1.1zM98.0 525.3h1.1v1.1h-1.1zM94.2 532.2h1.1v1.1h-1.1zM103.2 529.5h1.1v1.1h-1.1zM87.1 525.4h1.1v1.1h-1.1zM86.3 535.3h1.1v1.1h-1.1zM83.1 521.7h1.1v1.1h-1.1zM92.0 522.8h1.1v1.1h-1.1zM88.9 525.8h1.1v1.1h-1.1zM93.3 535.2h1.1v1.1h-1.1zM88.4 522.5h1.1v1.1h-1.1zM101.3 535.8h1.1v1.1h-1.1zM93.5 517.7h1.1v1.1h-1.1zM95.8 531.5h1.1v1.1h-1.1zM103.1 527.9h1.1v1.1h-1.1zM97.1 536.2h1.1v1.1h-1.1zM97.1 536.5h1.1v1.1h-1.1zM88.4 520.9h1.1v1.1h-1.1zM86.9 520.2h1.1v1.1h-1.1zM96.1 530.8h1.1v1.1h-1.1zM85.0 524.1h1.1v1.1h-1.1zM100.5 527.7h1.1v1.1h-1.1zM84.1 535.5h1.1v1.1h-1.1zM104.4 523.9h1.1v1.1h-1.1zM81.3 518.4h1.1v1.1h-1.1zM101.1 531.4h1.1v1.1h-1.1zM99.8 533.3h1.1v1.1h-1.1zM85.8 532.4h1.1v1.1h-1.1zM93.4 525.6h1.1v1.1h-1.1zM88.9 529.9h1.1v1.1h-1.1zM85.0 526.1h1.1v1.1h-1.1zM86.5 533.0h1.1v1.1h-1.1zM83.5 536.7h1.1v1.1h-1.1zM97.7 518.3h1.1v1.1h-1.1zM93.8 524.4h1.1v1.1h-1.1zM101.7 531.1h1.1v1.1h-1.1zM82.6 535.7h1.1v1.1h-1.1zM91.5 528.4h1.1v1.1h-1.1zM91.4 519.6h1.1v1.1h-1.1zM86.9 524.0h1.1v1.1h-1.1zM99.0 529.2h1.1v1.1h-1.1zM94.8 528.0h1.1v1.1h-1.1zM84.8 518.7h1.1v1.1h-1.1zM104.9 534.2h1.1v1.1h-1.1zM91.5 526.0h1.1v1.1h-1.1zM97.3 520.6h1.1v1.1h-1.1zM82.6 522.4h1.1v1.1h-1.1zM87.8 528.8h1.1v1.1h-1.1zM89.0 523.1h1.1v1.1h-1.1zM94.1 536.0h1.1v1.1h-1.1zM88.7 532.4h1.1v1.1h-1.1zM86.5 538.0h1.1v1.1h-1.1zM83.9 524.5h1.1v1.1h-1.1zM93.5 523.6h1.1v1.1h-1.1zM101.4 531.3h1.1v1.1h-1.1zM96.5 521.7h1.1v1.1h-1.1zM91.7 536.4h1.1v1.1h-1.1zM92.3 519.8h1.1v1.1h-1.1zM91.5 532.1h1.1v1.1h-1.1zM97.5 532.9h1.1v1.1h-1.1zM94.0 529.1h1.1v1.1h-1.1zM92.6 527.1h1.1v1.1h-1.1zM99.3 537.5h1.1v1.1h-1.1zM97.6 525.2h1.1v1.1h-1.1zM83.3 521.3h1.1v1.1h-1.1zM92.8 527.7h1.1v1.1h-1.1zM82.8 521.3h1.1v1.1h-1.1zM97.9 533.0h1.1v1.1h-1.1zM86.2 534.6h1.1v1.1h-1.1zM98.5 526.3h1.1v1.1h-1.1zM85.4 518.8h1.1v1.1h-1.1zM86.5 535.4h1.1v1.1h-1.1zM81.1 538.5h1.1v1.1h-1.1zM92.4 518.0h1.1v1.1h-1.1zM86.1 533.7h1.1v1.1h-1.1zM91.5 528.3h1.1v1.1h-1.1zM104.1 538.4h1.1v1.1h-1.1zM101.2 520.9h1.1v1.1h-1.1zM101.8 536.1h1.1v1.1h-1.1zM97.7 519.4h1.1v1.1h-1.1zM91.8 536.2h1.1v1.1h-1.1zM88.3 521.8h1.1v1.1h-1.1zM87.7 528.4h1.1v1.1h-1.1zM104.7 524.2h1.1v1.1h-1.1zM90.2 536.4h1.1v1.1h-1.1zM92.8 535.3h1.1v1.1h-1.1zM95.2 517.3h1.1v1.1h-1.1zM93.4 537.5h1.1v1.1h-1.1zM96.7 527.2h1.1v1.1h-1.1zM103.6 532.6h1.1v1.1h-1.1zM85.9 521.4h1.1v1.1h-1.1zM104.3 538.0h1.1v1.1h-1.1zM99.5 528.8h1.1v1.1h-1.1zM85.7 525.3h1.1v1.1h-1.1zM83.5 523.1h1.1v1.1h-1.1zM87.4 531.1h1.1v1.1h-1.1zM89.2 536.8h1.1v1.1h-1.1zM103.4 535.1h1.1v1.1h-1.1zM87.0 531.8h1.1v1.1h-1.1zM98.1 521.1h1.1v1.1h-1.1zM102.0 521.4h1.1v1.1h-1.1zM87.6 535.5h1.1v1.1h-1.1zM103.8 530.6h1.1v1.1h-1.1zM95.5 528.1h1.1v1.1h-1.1zM93.2 534.8h1.1v1.1h-1.1zM90.8 517.5h1.1v1.1h-1.1zM102.1 526.5h1.1v1.1h-1.1zM100.9 536.9h1.1v1.1h-1.1zM88.9 522.8h1.1v1.1h-1.1zM81.7 537.1h1.1v1.1h-1.1zM94.8 523.3h1.1v1.1h-1.1zM91.3 524.0h1.1v1.1h-1.1zM101.7 524.6h1.1v1.1h-1.1zM92.9 538.3h1.1v1.1h-1.1zM87.8 533.7h1.1v1.1h-1.1zM90.4 528.9h1.1v1.1h-1.1zM89.7 528.3h1.1v1.1h-1.1zM94.2 529.2h1.1v1.1h-1.1zM101.8 523.9h1.1v1.1h-1.1zM98.1 522.8h1.1v1.1h-1.1zM98.8 531.2h1.1v1.1h-1.1zM94.6 523.4h1.1v1.1h-1.1zM95.9 534.2h1.1v1.1h-1.1zM97.9 527.2h1.1v1.1h-1.1zM83.2 519.5h1.1v1.1h-1.1zM83.6 520.6h1.1v1.1h-1.1zM84.2 535.2h1.1v1.1h-1.1zM95.7 522.8h1.1v1.1h-1.1zM87.9 533.0h1.1v1.1h-1.1zM97.4 518.2h1.1v1.1h-1.1zM98.9 523.8h1.1v1.1h-1.1zM97.0 520.7h1.1v1.1h-1.1zM95.9 526.7h1.1v1.1h-1.1zM94.8 521.3h1.1v1.1h-1.1zM100.3 525.5h1.1v1.1h-1.1zM93.4 524.8h1.1v1.1h-1.1zM86.0 529.0h1.1v1.1h-1.1zM96.0 527.0h1.1v1.1h-1.1zM101.3 532.2h1.1v1.1h-1.1zM99.0 536.0h1.1v1.1h-1.1zM98.8 525.2h1.1v1.1h-1.1zM102.4 525.2h1.1v1.1h-1.1zM94.9 534.9h1.1v1.1h-1.1zM83.9 523.8h1.1v1.1h-1.1zM95.3 532.1h1.1v1.1h-1.1zM83.5 525.1h1.1v1.1h-1.1zM98.8 525.7h1.1v1.1h-1.1zM103.5 538.2h1.1v1.1h-1.1zM91.9 519.9h1.1v1.1h-1.1zM105.1 532.8h1.1v1.1h-1.1zM99.3 534.6h1.1v1.1h-1.1zM86.9 535.0h1.1v1.1h-1.1zM86.7 531.6h1.1v1.1h-1.1zM87.2 524.9h1.1v1.1h-1.1zM88.6 523.1h1.1v1.1h-1.1zM81.2 518.1h1.1v1.1h-1.1zM89.0 518.6h1.1v1.1h-1.1zM82.9 515.9h1.1v1.1h-1.1zM100.4 537.0h1.1v1.1h-1.1zM84.0 518.9h1.1v1.1h-1.1zM89.3 526.5h1.1v1.1h-1.1zM91.4 525.1h1.1v1.1h-1.1zM83.6 519.2h1.1v1.1h-1.1zM95.2 528.1h1.1v1.1h-1.1zM98.0 521.9h1.1v1.1h-1.1zM101.1 524.6h1.1v1.1h-1.1zM102.1 537.4h1.1v1.1h-1.1zM87.5 523.4h1.1v1.1h-1.1zM89.2 521.9h1.1v1.1h-1.1zM87.1 525.7h1.1v1.1h-1.1zM84.6 521.1h1.1v1.1h-1.1zM105.3 524.4h1.1v1.1h-1.1zM100.7 532.7h1.1v1.1h-1.1zM88.2 528.5h1.1v1.1h-1.1zM85.3 525.8h1.1v1.1h-1.1zM101.6 530.4h1.1v1.1h-1.1zM98.3 519.7h1.1v1.1h-1.1zM82.8 537.4h1.1v1.1h-1.1zM95.2 534.9h1.1v1.1h-1.1zM81.5 520.7h1.1v1.1h-1.1zM101.6 525.4h1.1v1.1h-1.1zM101.9 524.2h1.1v1.1h-1.1zM94.5 534.7h1.1v1.1h-1.1zM83.4 536.7h1.1v1.1h-1.1zM83.5 538.3h1.1v1.1h-1.1zM103.2 528.1h1.1v1.1h-1.1zM88.2 524.1h1.1v1.1h-1.1zM99.7 531.3h1.1v1.1h-1.1zM104.7 535.3h1.1v1.1h-1.1zM89.7 531.5h1.1v1.1h-1.1zM104.5 528.2h1.1v1.1h-1.1zM83.8 536.3h1.1v1.1h-1.1zM103.8 525.3h1.1v1.1h-1.1zM102.1 535.3h1.1v1.1h-1.1zM101.8 528.5h1.1v1.1h-1.1zM97.7 520.5h1.1v1.1h-1.1zM91.4 532.2h1.1v1.1h-1.1zM101.6 538.0h1.1v1.1h-1.1zM100.5 528.9h1.1v1.1h-1.1zM91.8 532.2h1.1v1.1h-1.1zM88.0 520.7h1.1v1.1h-1.1zM101.6 530.8h1.1v1.1h-1.1zM99.7 537.1h1.1v1.1h-1.1zM87.0 527.7h1.1v1.1h-1.1zM85.6 521.7h1.1v1.1h-1.1zM96.9 527.2h1.1v1.1h-1.1zM84.7 533.4h1.1v1.1h-1.1zM92.2 528.3h1.1v1.1h-1.1zM96.3 518.9h1.1v1.1h-1.1zM99.1 528.9h1.1v1.1h-1.1zM104.2 535.5h1.1v1.1h-1.1zM100.1 534.7h1.1v1.1h-1.1zM99.2 537.9h1.1v1.1h-1.1zM90.8 529.9h1.1v1.1h-1.1zM104.6 534.0h1.1v1.1h-1.1zM103.3 535.3h1.1v1.1h-1.1zM104.4 524.9h1.1v1.1h-1.1zM104.2 535.8h1.1v1.1h-1.1zM98.6 535.2h1.1v1.1h-1.1zM98.8 519.1h1.1v1.1h-1.1zM87.0 535.4h1.1v1.1h-1.1zM98.8 531.1h1.1v1.1h-1.1zM96.1 532.1h1.1v1.1h-1.1zM87.8 534.5h1.1v1.1h-1.1zM84.3 523.1h1.1v1.1h-1.1zM83.7 520.5h1.1v1.1h-1.1zM84.4 537.9h1.1v1.1h-1.1zM104.1 534.8h1.1v1.1h-1.1zM90.0 538.4h1.1v1.1h-1.1zM95.1 518.3h1.1v1.1h-1.1zM93.8 523.9h1.1v1.1h-1.1zM97.9 536.3h1.1v1.1h-1.1zM84.2 535.5h1.1v1.1h-1.1zM97.5 537.4h1.1v1.1h-1.1zM85.2 536.0h1.1v1.1h-1.1zM103.6 527.1h1.1v1.1h-1.1zM103.5 526.6h1.1v1.1h-1.1zM89.6 532.8h1.1v1.1h-1.1zM98.1 518.8h1.1v1.1h-1.1zM86.7 524.9h1.1v1.1h-1.1zM102.2 523.7h1.1v1.1h-1.1zM93.6 533.3h1.1v1.1h-1.1zM92.2 529.7h1.1v1.1h-1.1zM100.9 527.3h1.1v1.1h-1.1zM89.9 538.0h1.1v1.1h-1.1zM89.7 517.3h1.1v1.1h-1.1zM86.8 521.9h1.1v1.1h-1.1zM83.5 520.4h1.1v1.1h-1.1zM89.7 530.7h1.1v1.1h-1.1zM81.4 515.7h1.1v1.1h-1.1zM97.4 529.2h1.1v1.1h-1.1zM81.4 537.2h1.1v1.1h-1.1zM89.6 525.9h1.1v1.1h-1.1zM93.9 523.4h1.1v1.1h-1.1zM100.7 535.7h1.1v1.1h-1.1zM88.0 531.2h1.1v1.1h-1.1zM85.2 525.2h1.1v1.1h-1.1zM97.5 534.3h1.1v1.1h-1.1zM88.9 519.3h1.1v1.1h-1.1zM95.8 530.2h1.1v1.1h-1.1zM91.9 525.9h1.1v1.1h-1.1zM95.6 534.1h1.1v1.1h-1.1zM92.2 538.1h1.1v1.1h-1.1zM102.8 532.1h1.1v1.1h-1.1zM104.5 527.1h1.1v1.1h-1.1zM88.1 522.8h1.1v1.1h-1.1zM96.9 525.7h1.1v1.1h-1.1zM104.8 532.2h1.1v1.1h-1.1zM96.5 535.5h1.1v1.1h-1.1zM102.6 535.8h1.1v1.1h-1.1zM85.7 529.9h1.1v1.1h-1.1zM91.1 517.8h1.1v1.1h-1.1zM90.6 519.1h1.1v1.1h-1.1zM85.1 536.3h1.1v1.1h-1.1zM96.8 520.5h1.1v1.1h-1.1zM96.4 519.8h1.1v1.1h-1.1zM94.7 535.2h1.1v1.1h-1.1zM91.4 529.5h1.1v1.1h-1.1zM92.6 535.5h1.1v1.1h-1.1zM90.1 529.5h1.1v1.1h-1.1zM90.5 531.6h1.1v1.1h-1.1zM95.0 534.8h1.1v1.1h-1.1zM91.0 536.5h1.1v1.1h-1.1zM92.6 518.2h1.1v1.1h-1.1zM89.1 537.6h1.1v1.1h-1.1zM91.3 517.4h1.1v1.1h-1.1zM91.7 536.8h1.1v1.1h-1.1zM83.1 524.0h1.1v1.1h-1.1zM91.0 538.1h1.1v1.1h-1.1zM85.6 521.7h1.1v1.1h-1.1zM83.1 518.0h1.1v1.1h-1.1zM93.8 530.1h1.1v1.1h-1.1zM82.1 521.3h1.1v1.1h-1.1zM98.3 529.3h1.1v1.1h-1.1zM97.3 528.0h1.1v1.1h-1.1zM84.5 520.7h1.1v1.1h-1.1zM89.9 524.2h1.1v1.1h-1.1zM99.2 522.3h1.1v1.1h-1.1zM101.5 529.7h1.1v1.1h-1.1zM97.6 527.2h1.1v1.1h-1.1zM104.8 535.3h1.1v1.1h-1.1zM96.0 533.7h1.1v1.1h-1.1zM91.1 532.8h1.1v1.1h-1.1zM98.3 529.3h1.1v1.1h-1.1zM92.6 536.4h1.1v1.1h-1.1zM90.1 519.5h1.1v1.1h-1.1zM87.0 521.4h1.1v1.1h-1.1zM98.3 525.8h1.1v1.1h-1.1zM84.5 517.3h1.1v1.1h-1.1zM100.2 528.2h1.1v1.1h-1.1zM87.7 523.7h1.1v1.1h-1.1zM95.4 532.1h1.1v1.1h-1.1zM104.3 533.7h1.1v1.1h-1.1zM102.9 538.4h1.1v1.1h-1.1zM93.7 532.5h1.1v1.1h-1.1zM97.4 520.0h1.1v1.1h-1.1zM84.7 520.3h1.1v1.1h-1.1zM98.5 535.5h1.1v1.1h-1.1zM92.3 517.0h1.1v1.1h-1.1zM101.0 528.8h1.1v1.1h-1.1zM104.5 526.7h1.1v1.1h-1.1zM100.4 523.8h1.1v1.1h-1.1zM84.5 533.6h1.1v1.1h-1.1zM95.9 532.5h1.1v1.1h-1.1zM94.7 524.1h1.1v1.1h-1.1zM99.7 536.1h1.1v1.1h-1.1zM92.5 519.6h1.1v1.1h-1.1zM94.1 522.0h1.1v1.1h-1.1zM95.7 519.1h1.1v1.1h-1.1zM89.1 521.5h1.1v1.1h-1.1zM101.2 523.4h1.1v1.1h-1.1zM100.2 533.0h1.1v1.1h-1.1zM98.3 533.2h1.1v1.1h-1.1zM86.0 527.5h1.1v1.1h-1.1zM87.8 521.1h1.1v1.1h-1.1zM95.3 517.5h1.1v1.1h-1.1zM91.9 537.3h1.1v1.1h-1.1zM95.4 529.3h1.1v1.1h-1.1zM86.6 519.1h1.1v1.1h-1.1zM100.1 521.5h1.1v1.1h-1.1zM93.5 521.6h1.1v1.1h-1.1zM102.4 528.0h1.1v1.1h-1.1zM89.3 533.9h1.1v1.1h-1.1zM82.8 518.7h1.1v1.1h-1.1zM98.1 524.3h1.1v1.1h-1.1zM87.8 521.1h1.1v1.1h-1.1zM86.4 534.4h1.1v1.1h-1.1zM83.4 519.3h1.1v1.1h-1.1zM99.0 526.0h1.1v1.1h-1.1zM98.0 520.5h1.1v1.1h-1.1zM90.9 528.6h1.1v1.1h-1.1zM96.7 532.9h1.1v1.1h-1.1zM90.0 519.3h1.1v1.1h-1.1zM83.5 521.3h1.1v1.1h-1.1zM102.0 521.8h1.1v1.1h-1.1zM101.8 533.2h1.1v1.1h-1.1zM83.9 532.2h1.1v1.1h-1.1zM87.6 536.7h1.1v1.1h-1.1zM92.2 523.5h1.1v1.1h-1.1zM90.0 518.1h1.1v1.1h-1.1zM94.9 526.6h1.1v1.1h-1.1zM99.5 521.4h1.1v1.1h-1.1zM93.7 525.7h1.1v1.1h-1.1zM99.1 523.1h1.1v1.1h-1.1zM85.7 534.6h1.1v1.1h-1.1zM106.0 535.5h1.1v1.1h-1.1zM85.2 517.0h1.1v1.1h-1.1zM95.8 518.8h1.1v1.1h-1.1zM103.1 535.1h1.1v1.1h-1.1zM96.6 538.0h1.1v1.1h-1.1zM82.2 517.9h1.1v1.1h-1.1zM87.2 527.4h1.1v1.1h-1.1zM97.8 528.6h1.1v1.1h-1.1zM90.3 518.8h1.1v1.1h-1.1zM84.7 531.8h1.1v1.1h-1.1zM95.1 525.3h1.1v1.1h-1.1zM98.1 520.0h1.1v1.1h-1.1zM87.3 529.3h1.1v1.1h-1.1zM83.4 533.9h1.1v1.1h-1.1zM87.6 533.7h1.1v1.1h-1.1zM95.8 527.4h1.1v1.1h-1.1zM87.4 531.1h1.1v1.1h-1.1zM99.8 523.2h1.1v1.1h-1.1zM89.9 521.6h1.1v1.1h-1.1zM100.5 523.7h1.1v1.1h-1.1zM86.8 537.2h1.1v1.1h-1.1zM94.6 524.4h1.1v1.1h-1.1zM103.1 533.8h1.1v1.1h-1.1zM82.5 523.4h1.1v1.1h-1.1zM97.0 526.6h1.1v1.1h-1.1zM95.8 526.4h1.1v1.1h-1.1zM103.9 523.3h1.1v1.1h-1.1zM103.9 534.5h1.1v1.1h-1.1zM94.0 526.3h1.1v1.1h-1.1zM96.7 526.4h1.1v1.1h-1.1zM101.7 525.0h1.1v1.1h-1.1zM91.1 524.3h1.1v1.1h-1.1zM91.0 536.5h1.1v1.1h-1.1zM98.5 536.6h1.1v1.1h-1.1zM84.4 523.4h1.1v1.1h-1.1zM92.5 530.8h1.1v1.1h-1.1zM94.3 521.0h1.1v1.1h-1.1zM88.4 535.1h1.1v1.1h-1.1zM98.7 521.5h1.1v1.1h-1.1zM94.9 525.3h1.1v1.1h-1.1zM93.0 520.3h1.1v1.1h-1.1zM102.6 532.0h1.1v1.1h-1.1zM81.8 517.8h1.1v1.1h-1.1zM104.6 533.5h1.1v1.1h-1.1zM81.7 518.7h1.1v1.1h-1.1zM105.3 532.6h1.1v1.1h-1.1zM92.4 524.5h1.1v1.1h-1.1zM89.9 534.0h1.1v1.1h-1.1zM87.4 520.3h1.1v1.1h-1.1zM93.7 528.9h1.1v1.1h-1.1zM103.2 526.1h1.1v1.1h-1.1zM96.7 524.4h1.1v1.1h-1.1zM88.9 518.2h1.1v1.1h-1.1zM101.1 527.0h1.1v1.1h-1.1zM98.3 520.5h1.1v1.1h-1.1zM90.3 530.4h1.1v1.1h-1.1zM80.9 517.1h1.1v1.1h-1.1zM97.1 537.5h1.1v1.1h-1.1zM104.7 526.3h1.1v1.1h-1.1zM86.7 521.5h1.1v1.1h-1.1zM103.7 536.2h1.1v1.1h-1.1zM102.2 533.2h1.1v1.1h-1.1zM88.7 522.5h1.1v1.1h-1.1zM100.7 528.4h1.1v1.1h-1.1zM88.9 529.4h1.1v1.1h-1.1zM96.7 536.9h1.1v1.1h-1.1zM93.4 537.6h1.1v1.1h-1.1zM85.8 531.9h1.1v1.1h-1.1zM91.6 517.9h1.1v1.1h-1.1zM90.8 528.6h1.1v1.1h-1.1zM82.5 516.0h1.1v1.1h-1.1zM103.2 524.6h1.1v1.1h-1.1zM88.1 532.6h1.1v1.1h-1.1zM88.8 534.1h1.1v1.1h-1.1zM90.8 520.9h1.1v1.1h-1.1zM90.7 531.7h1.1v1.1h-1.1zM102.2 536.3h1.1v1.1h-1.1zM89.4 534.3h1.1v1.1h-1.1zM92.8 523.0h1.1v1.1h-1.1zM90.3 521.8h1.1v1.1h-1.1zM88.7 532.4h1.1v1.1h-1.1zM88.5 530.1h1.1v1.1h-1.1zM93.1 526.4h1.1v1.1h-1.1zM82.2 538.0h1.1v1.1h-1.1zM82.5 521.2h1.1v1.1h-1.1zM100.6 537.6h1.1v1.1h-1.1zM103.7 533.8h1.1v1.1h-1.1zM82.4 517.9h1.1v1.1h-1.1zM87.0 526.0h1.1v1.1h-1.1zM101.9 537.4h1.1v1.1h-1.1zM101.8 522.6h1.1v1.1h-1.1zM84.9 522.5h1.1v1.1h-1.1zM100.2 533.8h1.1v1.1h-1.1zM92.0 536.2h1.1v1.1h-1.1zM97.2 532.7h1.1v1.1h-1.1zM85.7 520.9h1.1v1.1h-1.1zM99.7 533.1h1.1v1.1h-1.1zM102.6 537.8h1.1v1.1h-1.1zM97.9 538.0h1.1v1.1h-1.1zM88.6 527.2h1.1v1.1h-1.1zM92.7 526.8h1.1v1.1h-1.1zM104.4 527.3h1.1v1.1h-1.1zM94.4 531.2h1.1v1.1h-1.1zM83.7 520.9h1.1v1.1h-1.1zM99.3 535.0h1.1v1.1h-1.1zM86.2 519.1h1.1v1.1h-1.1zM94.3 523.0h1.1v1.1h-1.1zM90.6 522.5h1.1v1.1h-1.1zM101.0 533.9h1.1v1.1h-1.1zM82.7 515.9h1.1v1.1h-1.1zM85.4 524.4h1.1v1.1h-1.1zM85.1 533.9h1.1v1.1h-1.1zM92.9 533.3h1.1v1.1h-1.1zM89.0 536.4h1.1v1.1h-1.1zM93.0 538.3h1.1v1.1h-1.1zM89.3 523.9h1.1v1.1h-1.1zM98.2 536.2h1.1v1.1h-1.1zM95.3 538.2h1.1v1.1h-1.1zM83.7 524.7h1.1v1.1h-1.1zM90.2 526.6h1.1v1.1h-1.1zM96.1 525.5h1.1v1.1h-1.1zM96.6 538.5h1.1v1.1h-1.1zM92.4 526.3h1.1v1.1h-1.1zM85.3 530.4h1.1v1.1h-1.1zM101.9 524.5h1.1v1.1h-1.1zM94.1 531.7h1.1v1.1h-1.1zM97.0 531.1h1.1v1.1h-1.1zM102.8 531.8h1.1v1.1h-1.1zM99.3 521.7h1.1v1.1h-1.1zM81.7 515.3h1.1v1.1h-1.1zM90.6 532.2h1.1v1.1h-1.1zM103.6 537.2h1.1v1.1h-1.1zM88.0 527.8h1.1v1.1h-1.1zM82.4 517.6h1.1v1.1h-1.1zM100.5 533.1h1.1v1.1h-1.1zM84.3 536.2h1.1v1.1h-1.1zM103.6 527.2h1.1v1.1h-1.1zM85.7 535.9h1.1v1.1h-1.1zM87.7 536.6h1.1v1.1h-1.1zM85.9 530.7h1.1v1.1h-1.1zM88.8 521.2h1.1v1.1h-1.1zM95.3 535.4h1.1v1.1h-1.1zM95.9 537.7h1.1v1.1h-1.1zM84.4 523.4h1.1v1.1h-1.1zM103.6 536.1h1.1v1.1h-1.1zM86.8 520.9h1.1v1.1h-1.1zM85.8 535.9h1.1v1.1h-1.1zM103.4 537.4h1.1v1.1h-1.1zM95.3 519.4h1.1v1.1h-1.1zM98.5 523.7h1.1v1.1h-1.1zM103.7 532.6h1.1v1.1h-1.1zM100.2 520.0h1.1v1.1h-1.1zM100.0 530.9h1.1v1.1h-1.1zM89.2 524.5h1.1v1.1h-1.1zM88.7 537.7h1.1v1.1h-1.1zM93.4 535.1h1.1v1.1h-1.1zM90.5 537.2h1.1v1.1h-1.1zM99.4 532.5h1.1v1.1h-1.1zM100.5 520.3h1.1v1.1h-1.1zM104.1 531.3h1.1v1.1h-1.1zM93.7 521.2h1.1v1.1h-1.1zM89.8 530.5h1.1v1.1h-1.1zM90.9 535.4h1.1v1.1h-1.1zM99.4 520.6h1.1v1.1h-1.1zM83.1 516.3h1.1v1.1h-1.1zM102.3 525.0h1.1v1.1h-1.1zM102.3 530.8h1.1v1.1h-1.1zM96.5 535.1h1.1v1.1h-1.1zM84.3 532.7h1.1v1.1h-1.1zM102.4 524.1h1.1v1.1h-1.1zM90.9 537.4h1.1v1.1h-1.1zM101.1 522.7h1.1v1.1h-1.1zM93.5 518.8h1.1v1.1h-1.1zM100.9 534.4h1.1v1.1h-1.1zM88.9 519.3h1.1v1.1h-1.1zM97.4 529.3h1.1v1.1h-1.1zM98.9 533.4h1.1v1.1h-1.1zM103.9 529.7h1.1v1.1h-1.1zM98.1 532.1h1.1v1.1h-1.1zM103.7 523.0h1.1v1.1h-1.1zM90.1 532.3h1.1v1.1h-1.1zM99.9 533.0h1.1v1.1h-1.1zM92.9 528.2h1.1v1.1h-1.1zM95.0 532.8h1.1v1.1h-1.1zM83.3 535.1h1.1v1.1h-1.1zM99.9 520.9h1.1v1.1h-1.1zM89.4 527.6h1.1v1.1h-1.1zM87.6 527.0h1.1v1.1h-1.1zM97.9 531.8h1.1v1.1h-1.1zM86.7 534.1h1.1v1.1h-1.1zM90.2 523.1h1.1v1.1h-1.1zM90.3 527.5h1.1v1.1h-1.1zM100.6 529.0h1.1v1.1h-1.1zM104.3 535.9h1.1v1.1h-1.1zM87.7 527.9h1.1v1.1h-1.1zM94.5 520.0h1.1v1.1h-1.1zM85.1 517.7h1.1v1.1h-1.1zM105.3 534.0h1.1v1.1h-1.1zM84.6 520.6h1.1v1.1h-1.1zM94.5 527.7h1.1v1.1h-1.1zM87.5 520.5h1.1v1.1h-1.1zM95.8 523.3h1.1v1.1h-1.1zM87.0 530.4h1.1v1.1h-1.1zM92.1 528.4h1.1v1.1h-1.1zM103.9 524.4h1.1v1.1h-1.1zM88.7 537.4h1.1v1.1h-1.1zM93.9 516.8h1.1v1.1h-1.1zM94.6 531.4h1.1v1.1h-1.1zM97.3 533.0h1.1v1.1h-1.1zM98.5 526.1h1.1v1.1h-1.1zM88.8 517.3h1.1v1.1h-1.1zM83.6 522.2h1.1v1.1h-1.1zM96.5 525.5h1.1v1.1h-1.1zM92.6 530.1h1.1v1.1h-1.1zM96.3 522.9h1.1v1.1h-1.1zM95.2 532.1h1.1v1.1h-1.1zM85.6 530.9h1.1v1.1h-1.1zM89.2 520.4h1.1v1.1h-1.1zM87.2 528.1h1.1v1.1h-1.1zM88.4 534.9h1.1v1.1h-1.1zM92.9 516.9h1.1v1.1h-1.1zM98.2 532.0h1.1v1.1h-1.1zM93.4 536.8h1.1v1.1h-1.1zM98.1 521.1h1.1v1.1h-1.1zM84.1 517.0h1.1v1.1h-1.1zM85.1 521.9h1.1v1.1h-1.1zM100.5 521.6h1.1v1.1h-1.1zM99.5 535.8h1.1v1.1h-1.1zM98.7 532.3h1.1v1.1h-1.1zM97.6 534.7h1.1v1.1h-1.1zM97.2 531.7h1.1v1.1h-1.1zM101.9 531.1h1.1v1.1h-1.1zM99.3 522.8h1.1v1.1h-1.1zM90.2 531.3h1.1v1.1h-1.1zM85.6 531.0h1.1v1.1h-1.1zM92.0 521.7h1.1v1.1h-1.1zM97.3 519.0h1.1v1.1h-1.1zM97.9 523.9h1.1v1.1h-1.1zM95.8 521.0h1.1v1.1h-1.1zM103.1 523.5h1.1v1.1h-1.1zM96.2 521.7h1.1v1.1h-1.1zM90.4 536.7h1.1v1.1h-1.1zM83.6 535.4h1.1v1.1h-1.1zM87.2 533.5h1.1v1.1h-1.1zM84.2 533.1h1.1v1.1h-1.1zM101.9 529.8h1.1v1.1h-1.1zM92.2 524.8h1.1v1.1h-1.1zM99.3 536.1h1.1v1.1h-1.1zM102.5 531.2h1.1v1.1h-1.1zM105.2 535.9h1.1v1.1h-1.1zM94.8 538.4h1.1v1.1h-1.1zM89.0 530.4h1.1v1.1h-1.1zM93.0 522.3h1.1v1.1h-1.1zM89.1 521.8h1.1v1.1h-1.1zM96.2 537.0h1.1v1.1h-1.1zM85.5 527.9h1.1v1.1h-1.1zM92.1 522.0h1.1v1.1h-1.1zM87.8 534.4h1.1v1.1h-1.1zM100.6 524.3h1.1v1.1h-1.1zM86.7 531.1h1.1v1.1h-1.1zM99.3 538.3h1.1v1.1h-1.1zM91.8 531.9h1.1v1.1h-1.1zM92.7 521.0h1.1v1.1h-1.1zM91.0 534.8h1.1v1.1h-1.1zM93.9 523.1h1.1v1.1h-1.1zM102.3 531.3h1.1v1.1h-1.1zM101.6 524.5h1.1v1.1h-1.1zM99.3 531.7h1.1v1.1h-1.1zM85.6 519.7h1.1v1.1h-1.1zM88.2 527.3h1.1v1.1h-1.1zM100.6 530.6h1.1v1.1h-1.1zM102.6 524.9h1.1v1.1h-1.1zM94.8 521.9h1.1v1.1h-1.1zM91.6 527.3h1.1v1.1h-1.1zM94.4 520.6h1.1v1.1h-1.1zM96.5 535.8h1.1v1.1h-1.1zM94.5 516.9h1.1v1.1h-1.1zM88.4 525.9h1.1v1.1h-1.1zM103.7 535.8h1.1v1.1h-1.1zM96.4 533.7h1.1v1.1h-1.1zM83.9 524.6h1.1v1.1h-1.1zM96.6 519.9h1.1v1.1h-1.1zM98.0 521.9h1.1v1.1h-1.1zM104.8 535.9h1.1v1.1h-1.1zM85.4 527.6h1.1v1.1h-1.1zM95.2 527.8h1.1v1.1h-1.1zM88.2 525.2h1.1v1.1h-1.1zM88.0 533.7h1.1v1.1h-1.1zM98.3 524.9h1.1v1.1h-1.1zM98.1 533.0h1.1v1.1h-1.1zM81.1 537.4h1.1v1.1h-1.1zM88.8 530.5h1.1v1.1h-1.1zM102.6 532.5h1.1v1.1h-1.1zM96.5 520.2h1.1v1.1h-1.1zM89.0 523.2h1.1v1.1h-1.1zM96.5 518.3h1.1v1.1h-1.1zM97.0 520.0h1.1v1.1h-1.1zM94.6 525.7h1.1v1.1h-1.1zM105.1 534.4h1.1v1.1h-1.1zM98.1 525.2h1.1v1.1h-1.1zM97.2 522.2h1.1v1.1h-1.1zM95.2 525.8h1.1v1.1h-1.1zM93.5 518.1h1.1v1.1h-1.1zM85.6 522.2h1.1v1.1h-1.1zM91.3 528.2h1.1v1.1h-1.1zM88.7 517.4h1.1v1.1h-1.1zM83.9 532.7h1.1v1.1h-1.1zM96.4 532.4h1.1v1.1h-1.1zM104.8 530.7h1.1v1.1h-1.1zM81.5 521.5h1.1v1.1h-1.1zM100.4 535.0h1.1v1.1h-1.1zM89.6 522.4h1.1v1.1h-1.1zM87.5 522.2h1.1v1.1h-1.1zM104.6 525.5h1.1v1.1h-1.1zM83.7 519.6h1.1v1.1h-1.1zM99.8 524.9h1.1v1.1h-1.1zM100.2 520.3h1.1v1.1h-1.1zM84.3 520.2h1.1v1.1h-1.1zM97.1 518.7h1.1v1.1h-1.1zM84.9 523.1h1.1v1.1h-1.1zM89.3 518.1h1.1v1.1h-1.1zM87.8 526.3h1.1v1.1h-1.1zM87.6 525.7h1.1v1.1h-1.1zM86.9 523.9h1.1v1.1h-1.1zM97.9 536.3h1.1v1.1h-1.1zM96.9 527.8h1.1v1.1h-1.1zM97.9 527.6h1.1v1.1h-1.1zM88.1 520.4h1.1v1.1h-1.1zM95.8 535.2h1.1v1.1h-1.1zM83.6 538.4h1.1v1.1h-1.1zM100.2 534.9h1.1v1.1h-1.1zM95.3 532.0h1.1v1.1h-1.1zM100.2 531.8h1.1v1.1h-1.1zM92.5 529.7h1.1v1.1h-1.1zM87.1 522.2h1.1v1.1h-1.1zM100.6 530.0h1.1v1.1h-1.1zM93.8 529.3h1.1v1.1h-1.1zM104.4 531.8h1.1v1.1h-1.1zM95.6 523.8h1.1v1.1h-1.1zM94.3 529.5h1.1v1.1h-1.1zM104.4 525.7h1.1v1.1h-1.1zM96.4 531.4h1.1v1.1h-1.1zM86.8 527.9h1.1v1.1h-1.1zM88.0 533.6h1.1v1.1h-1.1zM86.1 526.0h1.1v1.1h-1.1zM94.2 531.4h1.1v1.1h-1.1zM82.7 535.0h1.1v1.1h-1.1zM95.4 524.2h1.1v1.1h-1.1zM88.2 520.6h1.1v1.1h-1.1zM85.4 534.6h1.1v1.1h-1.1zM91.4 529.5h1.1v1.1h-1.1zM93.6 533.0h1.1v1.1h-1.1zM98.8 533.5h1.1v1.1h-1.1zM90.7 524.0h1.1v1.1h-1.1zM94.7 521.7h1.1v1.1h-1.1zM95.5 518.8h1.1v1.1h-1.1zM103.2 531.3h1.1v1.1h-1.1zM83.2 517.1h1.1v1.1h-1.1zM101.5 531.9h1.1v1.1h-1.1zM87.3 529.6h1.1v1.1h-1.1zM83.3 535.7h1.1v1.1h-1.1zM89.5 534.8h1.1v1.1h-1.1zM99.8 533.7h1.1v1.1h-1.1zM89.9 526.1h1.1v1.1h-1.1zM88.0 530.7h1.1v1.1h-1.1zM94.5 523.1h1.1v1.1h-1.1zM86.8 528.3h1.1v1.1h-1.1zM81.8 521.4h1.1v1.1h-1.1zM98.9 532.8h1.1v1.1h-1.1zM87.9 520.7h1.1v1.1h-1.1zM102.9 524.4h1.1v1.1h-1.1zM84.1 516.0h1.1v1.1h-1.1zM85.7 516.9h1.1v1.1h-1.1zM82.8 517.5h1.1v1.1h-1.1zM84.8 515.6h1.1v1.1h-1.1zM83.0 515.4h1.1v1.1h-1.1zM79.6 515.5h1.1v1.1h-1.1zM88.7 518.2h1.1v1.1h-1.1zM92.3 516.1h1.1v1.1h-1.1zM88.8 517.0h1.1v1.1h-1.1zM87.0 515.9h1.1v1.1h-1.1zM86.5 517.3h1.1v1.1h-1.1zM87.0 517.4h1.1v1.1h-1.1zM90.4 516.3h1.1v1.1h-1.1zM92.0 515.5h1.1v1.1h-1.1zM91.3 516.3h1.1v1.1h-1.1zM86.8 518.0h1.1v1.1h-1.1zM98.4 518.3h1.1v1.1h-1.1zM98.0 516.7h1.1v1.1h-1.1zM95.8 518.3h1.1v1.1h-1.1zM95.3 517.6h1.1v1.1h-1.1zM96.9 518.5h1.1v1.1h-1.1zM94.9 517.8h1.1v1.1h-1.1zM99.1 520.8h1.1v1.1h-1.1zM100.6 519.7h1.1v1.1h-1.1zM101.0 521.1h1.1v1.1h-1.1zM105.6 524.2h1.1v1.1h-1.1zM102.4 521.3h1.1v1.1h-1.1zM105.0 523.9h1.1v1.1h-1.1zM101.6 520.7h1.1v1.1h-1.1zM107.1 524.2h1.1v1.1h-1.1zM104.6 526.3h1.1v1.1h-1.1zM104.3 527.7h1.1v1.1h-1.1zM103.4 525.4h1.1v1.1h-1.1zM105.1 529.5h1.1v1.1h-1.1zM104.8 529.1h1.1v1.1h-1.1zM105.4 528.9h1.1v1.1h-1.1zM105.6 534.2h1.1v1.1h-1.1zM105.0 534.4h1.1v1.1h-1.1zM105.4 534.9h1.1v1.1h-1.1zM105.6 532.6h1.1v1.1h-1.1zM103.8 532.1h1.1v1.1h-1.1zM104.3 537.6h1.1v1.1h-1.1zM106.2 534.5h1.1v1.1h-1.1zM104.0 536.8h1.1v1.1h-1.1zM106.3 536.6h1.1v1.1h-1.1zM96.7 540.2h1.1v1.1h-1.1zM85.6 537.6h1.1v1.1h-1.1zM96.9 538.6h1.1v1.1h-1.1zM100.1 537.0h1.1v1.1h-1.1zM84.7 537.2h1.1v1.1h-1.1zM96.9 537.1h1.1v1.1h-1.1zM101.3 538.1h1.1v1.1h-1.1zM90.1 537.7h1.1v1.1h-1.1zM96.5 537.1h1.1v1.1h-1.1zM100.9 542.4h1.1v1.1h-1.1zM96.6 537.9h1.1v1.1h-1.1zM90.8 539.1h1.1v1.1h-1.1zM98.4 538.8h1.1v1.1h-1.1zM102.5 538.5h1.1v1.1h-1.1zM91.2 538.7h1.1v1.1h-1.1zM96.1 539.1h1.1v1.1h-1.1zM97.6 536.4h1.1v1.1h-1.1zM91.9 538.5h1.1v1.1h-1.1zM97.6 537.6h1.1v1.1h-1.1zM91.0 536.6h1.1v1.1h-1.1zM88.6 535.8h1.1v1.1h-1.1zM94.4 538.0h1.1v1.1h-1.1zM81.8 537.8h1.1v1.1h-1.1zM103.8 538.2h1.1v1.1h-1.1zM85.8 538.5h1.1v1.1h-1.1zM80.1 537.4h1.1v1.1h-1.1zM81.3 536.4h1.1v1.1h-1.1zM79.7 537.7h1.1v1.1h-1.1zM80.1 537.7h1.1v1.1h-1.1zM83.6 532.4h1.1v1.1h-1.1zM81.9 532.8h1.1v1.1h-1.1zM83.7 533.3h1.1v1.1h-1.1zM82.5 531.2h1.1v1.1h-1.1zM84.2 531.2h1.1v1.1h-1.1zM86.2 528.8h1.1v1.1h-1.1zM85.6 529.8h1.1v1.1h-1.1zM82.4 526.4h1.1v1.1h-1.1zM84.1 526.9h1.1v1.1h-1.1zM84.1 527.0h1.1v1.1h-1.1zM82.9 524.9h1.1v1.1h-1.1zM83.5 527.5h1.1v1.1h-1.1zM80.8 522.4h1.1v1.1h-1.1zM82.2 524.6h1.1v1.1h-1.1zM82.1 522.6h1.1v1.1h-1.1zM84.6 525.5h1.1v1.1h-1.1zM82.0 514.0h1.1v1.1h-1.1zM80.3 516.8h1.1v1.1h-1.1zM80.6 519.1h1.1v1.1h-1.1zM79.5 518.3h1.1v1.1h-1.1zM81.8 516.0h1.1v1.1h-1.1zM80.4 516.9h1.1v1.1h-1.1zM80.2 515.6h1.1v1.1h-1.1zM78.8 518.9h1.1v1.1h-1.1z"/>
</g>
<g fill="#e63946">
<path d="M84.7 546.0h1.1v1.1h-1.1zM105.0 544.0h1.1v1.1h-1.1zM100.2 549.4h1.1v1.1h-1.1zM93.5 540.5h1.1v1.1h-1.1zM96.5 547.9h1.1v1.1h-1.1zM92.1 541.7h1.1v1.1h-1.1zM83.3 548.9h1.1v1.1h-1.1zM105.7 539.8h1.1v1.1h-1.1zM100.0 547.8h1.1v1.1h-1.1zM85.5 540.9h1.1v1.1h-1.1zM102.7 543.4h1.1v1.1h-1.1zM84.1 540.2h1.1v1.1h-1.1zM83.4 543.1h1.1v1.1h-1.1zM87.8 545.7h1.1v1.1h-1.1zM82.6 549.3h1.1v1.1h-1.1zM97.1 546.1h1.1v1.1h-1.1zM87.4 540.4h1.1v1.1h-1.1zM95.8 548.7h1.1v1.1h-1.1zM102.3 546.0h1.1v1.1h-1.1zM89.5 545.8h1.1v1.1h-1.1zM89.5 549.5h1.1v1.1h-1.1zM91.8 546.8h1.1v1.1h-1.1zM93.1 539.9h1.1v1.1h-1.1zM98.5 550.1h1.1v1.1h-1.1zM86.9 548.2h1.1v1.1h-1.1zM90.0 546.3h1.1v1.1h-1.1zM87.0 539.4h1.1v1.1h-1.1zM88.4 551.3h1.1v1.1h-1.1zM99.1 540.4h1.1v1.1h-1.1zM86.4 550.8h1.1v1.1h-1.1zM107.6 546.7h1.1v1.1h-1.1zM84.2 545.9h1.1v1.1h-1.1zM85.8 551.0h1.1v1.1h-1.1zM93.4 542.1h1.1v1.1h-1.1zM100.8 545.1h1.1v1.1h-1.1zM86.3 548.4h1.1v1.1h-1.1zM83.0 540.0h1.1v1.1h-1.1zM104.1 545.8h1.1v1.1h-1.1zM98.5 540.7h1.1v1.1h-1.1zM97.8 547.3h1.1v1.1h-1.1zM103.1 540.7h1.1v1.1h-1.1zM99.7 546.5h1.1v1.1h-1.1zM91.1 541.6h1.1v1.1h-1.1zM85.3 539.5h1.1v1.1h-1.1zM83.1 546.6h1.1v1.1h-1.1zM101.0 546.4h1.1v1.1h-1.1zM93.5 548.3h1.1v1.1h-1.1zM96.0 545.9h1.1v1.1h-1.1zM109.1 544.5h1.1v1.1h-1.1zM89.1 550.6h1.1v1.1h-1.1zM81.9 544.3h1.1v1.1h-1.1zM86.0 539.0h1.1v1.1h-1.1zM88.6 547.7h1.1v1.1h-1.1zM94.2 540.7h1.1v1.1h-1.1zM97.6 550.7h1.1v1.1h-1.1zM82.5 547.5h1.1v1.1h-1.1zM91.9 550.2h1.1v1.1h-1.1zM94.4 547.4h1.1v1.1h-1.1zM100.2 550.3h1.1v1.1h-1.1zM86.8 541.2h1.1v1.1h-1.1zM101.5 548.8h1.1v1.1h-1.1zM99.8 550.8h1.1v1.1h-1.1zM105.3 547.6h1.1v1.1h-1.1zM103.4 545.5h1.1v1.1h-1.1zM94.6 547.1h1.1v1.1h-1.1zM97.5 546.0h1.1v1.1h-1.1zM87.5 540.9h1.1v1.1h-1.1zM106.6 540.3h1.1v1.1h-1.1zM104.2 545.9h1.1v1.1h-1.1zM90.1 548.9h1.1v1.1h-1.1zM104.3 548.8h1.1v1.1h-1.1zM93.1 547.1h1.1v1.1h-1.1zM106.1 543.1h1.1v1.1h-1.1zM81.7 550.2h1.1v1.1h-1.1zM91.4 547.9h1.1v1.1h-1.1zM102.8 547.8h1.1v1.1h-1.1zM96.0 540.9h1.1v1.1h-1.1zM93.5 541.6h1.1v1.1h-1.1zM107.2 543.7h1.1v1.1h-1.1zM97.2 548.4h1.1v1.1h-1.1zM105.7 544.5h1.1v1.1h-1.1zM100.2 539.9h1.1v1.1h-1.1zM101.8 547.5h1.1v1.1h-1.1zM102.1 549.8h1.1v1.1h-1.1zM94.0 542.0h1.1v1.1h-1.1zM96.1 550.2h1.1v1.1h-1.1zM98.9 544.2h1.1v1.1h-1.1zM99.8 547.8h1.1v1.1h-1.1zM102.7 545.3h1.1v1.1h-1.1zM103.9 542.4h1.1v1.1h-1.1zM82.9 550.8h1.1v1.1h-1.1zM91.2 546.6h1.1v1.1h-1.1zM98.2 549.7h1.1v1.1h-1.1zM95.7 542.1h1.1v1.1h-1.1zM82.0 548.8h1.1v1.1h-1.1zM90.1 541.2h1.1v1.1h-1.1zM96.9 548.0h1.1v1.1h-1.1zM89.9 550.6h1.1v1.1h-1.1zM98.6 542.9h1.1v1.1h-1.1zM90.0 550.8h1.1v1.1h-1.1zM82.9 545.9h1.1v1.1h-1.1zM88.6 541.7h1.1v1.1h-1.1zM97.4 545.3h1.1v1.1h-1.1zM95.8 546.6h1.1v1.1h-1.1zM97.4 548.6h1.1v1.1h-1.1zM101.7 543.9h1.1v1.1h-1.1zM86.8 550.8h1.1v1.1h-1.1zM104.5 546.9h1.1v1.1h-1.1zM101.7 548.0h1.1v1.1h-1.1zM82.1 550.0h1.1v1.1h-1.1zM103.7 542.7h1.1v1.1h-1.1zM98.6 549.3h1.1v1.1h-1.1zM87.4 540.4h1.1v1.1h-1.1zM90.1 550.8h1.1v1.1h-1.1zM89.8 550.0h1.1v1.1h-1.1zM96.1 546.6h1.1v1.1h-1.1zM104.0 546.6h1.1v1.1h-1.1zM92.1 540.2h1.1v1.1h-1.1zM80.9 543.5h1.1v1.1h-1.1zM101.0 543.0h1.1v1.1h-1.1zM94.3 551.1h1.1v1.1h-1.1zM98.7 549.4h1.1v1.1h-1.1zM104.7 546.4h1.1v1.1h-1.1zM90.1 547.9h1.1v1.1h-1.1zM102.0 548.7h1.1v1.1h-1.1zM105.6 543.9h1.1v1.1h-1.1zM95.9 542.2h1.1v1.1h-1.1zM87.2 546.5h1.1v1.1h-1.1zM95.6 539.6h1.1v1.1h-1.1zM96.6 545.7h1.1v1.1h-1.1zM84.6 540.6h1.1v1.1h-1.1zM93.5 547.2h1.1v1.1h-1.1zM92.1 547.7h1.1v1.1h-1.1zM97.8 550.4h1.1v1.1h-1.1zM98.0 550.7h1.1v1.1h-1.1zM90.3 548.4h1.1v1.1h-1.1zM89.2 551.1h1.1v1.1h-1.1zM96.5 549.4h1.1v1.1h-1.1zM80.4 539.7h1.1v1.1h-1.1zM82.1 541.7h1.1v1.1h-1.1zM82.5 548.9h1.1v1.1h-1.1zM98.8 542.5h1.1v1.1h-1.1zM95.7 547.8h1.1v1.1h-1.1zM91.3 546.6h1.1v1.1h-1.1zM102.1 548.9h1.1v1.1h-1.1zM90.7 539.4h1.1v1.1h-1.1zM95.4 550.9h1.1v1.1h-1.1zM102.3 548.9h1.1v1.1h-1.1zM86.9 546.6h1.1v1.1h-1.1zM99.7 546.1h1.1v1.1h-1.1zM87.1 547.4h1.1v1.1h-1.1zM106.2 546.8h1.1v1.1h-1.1zM92.6 541.5h1.1v1.1h-1.1zM81.9 542.6h1.1v1.1h-1.1zM96.2 541.0h1.1v1.1h-1.1zM88.9 545.9h1.1v1.1h-1.1zM82.4 539.6h1.1v1.1h-1.1zM104.9 546.2h1.1v1.1h-1.1zM85.3 548.3h1.1v1.1h-1.1zM91.2 541.3h1.1v1.1h-1.1zM104.6 544.5h1.1v1.1h-1.1zM98.3 540.3h1.1v1.1h-1.1zM83.9 547.1h1.1v1.1h-1.1zM98.1 541.0h1.1v1.1h-1.1zM94.4 539.5h1.1v1.1h-1.1zM100.5 544.7h1.1v1.1h-1.1zM104.1 546.8h1.1v1.1h-1.1zM84.9 550.5h1.1v1.1h-1.1zM99.9 543.2h1.1v1.1h-1.1zM100.9 549.2h1.1v1.1h-1.1zM101.5 550.0h1.1v1.1h-1.1zM83.3 544.3h1.1v1.1h-1.1zM97.5 549.0h1.1v1.1h-1.1zM84.5 550.3h1.1v1.1h-1.1zM101.6 540.3h1.1v1.1h-1.1zM94.5 550.1h1.1v1.1h-1.1zM81.7 538.7h1.1v1.1h-1.1zM84.4 548.8h1.1v1.1h-1.1zM90.1 550.3h1.1v1.1h-1.1zM86.7 547.1h1.1v1.1h-1.1zM97.4 550.4h1.1v1.1h-1.1zM82.3 542.8h1.1v1.1h-1.1zM97.9 539.6h1.1v1.1h-1.1zM84.8 547.8h1.1v1.1h-1.1zM89.7 546.1h1.1v1.1h-1.1zM103.9 546.1h1.1v1.1h-1.1zM101.0 547.4h1.1v1.1h-1.1zM99.4 544.7h1.1v1.1h-1.1zM81.3 541.2h1.1v1.1h-1.1zM97.1 541.4h1.1v1.1h-1.1zM102.7 540.3h1.1v1.1h-1.1zM94.6 542.2h1.1v1.1h-1.1zM104.5 542.8h1.1v1.1h-1.1zM82.3 547.8h1.1v1.1h-1.1zM84.5 550.4h1.1v1.1h-1.1zM81.9 541.8h1.1v1.1h-1.1zM86.0 548.0h1.1v1.1h-1.1zM82.1 548.3h1.1v1.1h-1.1zM107.7 543.6h1.1v1.1h-1.1zM109.2 544.5h1.1v1.1h-1.1zM99.9 549.1h1.1v1.1h-1.1zM91.7 541.2h1.1v1.1h-1.1zM106.4 546.0h1.1v1.1h-1.1zM82.7 547.3h1.1v1.1h-1.1zM90.8 546.0h1.1v1.1h-1.1zM84.1 538.8h1.1v1.1h-1.1zM86.9 546.0h1.1v1.1h-1.1zM97.0 539.4h1.1v1.1h-1.1zM102.9 546.3h1.1v1.1h-1.1zM108.2 544.3h1.1v1.1h-1.1zM96.1 550.0h1.1v1.1h-1.1zM81.7 538.9h1.1v1.1h-1.1zM84.1 547.3h1.1v1.1h-1.1zM83.1 546.9h1.1v1.1h-1.1zM93.1 541.2h1.1v1.1h-1.1zM83.5 543.9h1.1v1.1h-1.1zM89.8 548.5h1.1v1.1h-1.1zM89.3 545.8h1.1v1.1h-1.1zM92.6 547.2h1.1v1.1h-1.1zM96.4 549.0h1.1v1.1h-1.1zM89.8 548.7h1.1v1.1h-1.1zM100.1 542.7h1.1v1.1h-1.1zM83.3 542.7h1.1v1.1h-1.1zM84.7 548.1h1.1v1.1h-1.1zM105.0 540.2h1.1v1.1h-1.1zM102.8 542.5h1.1v1.1h-1.1zM106.1 547.3h1.1v1.1h-1.1zM99.6 545.6h1.1v1.1h-1.1zM93.1 546.3h1.1v1.1h-1.1zM94.8 550.2h1.1v1.1h-1.1zM94.7 548.5h1.1v1.1h-1.1zM82.2 544.4h1.1v1.1h-1.1zM105.9 544.3h1.1v1.1h-1.1zM105.9 541.3h1.1v1.1h-1.1zM92.1 550.0h1.1v1.1h-1.1zM82.2 539.2h1.1v1.1h-1.1zM97.0 542.7h1.1v1.1h-1.1zM109.1 545.4h1.1v1.1h-1.1zM88.1 539.6h1.1v1.1h-1.1zM85.2 549.4h1.1v1.1h-1.1zM85.7 546.2h1.1v1.1h-1.1zM85.9 550.1h1.1v1.1h-1.1zM88.9 547.1h1.1v1.1h-1.1zM108.0 543.4h1.1v1.1h-1.1zM92.9 541.2h1.1v1.1h-1.1zM86.4 539.0h1.1v1.1h-1.1zM93.8 542.0h1.1v1.1h-1.1zM84.5 546.4h1.1v1.1h-1.1zM97.5 551.0h1.1v1.1h-1.1zM95.2 546.9h1.1v1.1h-1.1zM94.2 551.2h1.1v1.1h-1.1zM106.4 541.8h1.1v1.1h-1.1zM83.1 539.9h1.1v1.1h-1.1zM100.7 548.1h1.1v1.1h-1.1zM90.3 550.2h1.1v1.1h-1.1zM84.6 551.0h1.1v1.1h-1.1zM107.3 546.7h1.1v1.1h-1.1zM108.1 543.9h1.1v1.1h-1.1zM84.2 540.2h1.1v1.1h-1.1zM94.6 541.1h1.1v1.1h-1.1zM101.5 541.6h1.1v1.1h-1.1zM92.3 551.3h1.1v1.1h-1.1zM85.2 541.3h1.1v1.1h-1.1zM98.5 540.6h1.1v1.1h-1.1zM87.6 539.0h1.1v1.1h-1.1zM99.8 548.8h1.1v1.1h-1.1zM99.3 539.6h1.1v1.1h-1.1zM103.5 545.3h1.1v1.1h-1.1zM83.9 549.4h1.1v1.1h-1.1zM94.6 551.1h1.1v1.1h-1.1zM96.4 550.8h1.1v1.1h-1.1zM83.0 547.3h1.1v1.1h-1.1zM90.4 548.2h1.1v1.1h-1.1zM94.6 548.5h1.1v1.1h-1.1zM81.6 546.1h1.1v1.1h-1.1zM82.5 540.8h1.1v1.1h-1.1zM89.0 541.5h1.1v1.1h-1.1zM91.6 548.1h1.1v1.1h-1.1zM93.3 550.7h1.1v1.1h-1.1zM92.5 546.7h1.1v1.1h-1.1zM82.2 543.6h1.1v1.1h-1.1zM105.9 547.8h1.1v1.1h-1.1zM92.2 551.3h1.1v1.1h-1.1zM106.5 544.6h1.1v1.1h-1.1zM106.8 546.2h1.1v1.1h-1.1zM95.9 542.5h1.1v1.1h-1.1zM105.2 544.2h1.1v1.1h-1.1zM96.4 549.4h1.1v1.1h-1.1zM95.6 540.6h1.1v1.1h-1.1zM103.5 540.2h1.1v1.1h-1.1zM83.5 549.4h1.1v1.1h-1.1zM98.1 543.1h1.1v1.1h-1.1zM98.4 542.7h1.1v1.1h-1.1zM99.0 540.0h1.1v1.1h-1.1zM107.1 542.8h1.1v1.1h-1.1zM97.1 546.7h1.1v1.1h-1.1zM82.2 548.1h1.1v1.1h-1.1zM96.9 539.3h1.1v1.1h-1.1zM87.9 550.9h1.1v1.1h-1.1zM97.0 545.8h1.1v1.1h-1.1zM94.1 540.5h1.1v1.1h-1.1zM95.1 548.8h1.1v1.1h-1.1zM81.5 541.2h1.1v1.1h-1.1zM82.6 547.7h1.1v1.1h-1.1zM85.5 539.0h1.1v1.1h-1.1zM97.7 551.2h1.1v1.1h-1.1zM105.3 545.3h1.1v1.1h-1.1zM87.4 539.0h1.1v1.1h-1.1zM94.6 539.2h1.1v1.1h-1.1zM92.0 548.7h1.1v1.1h-1.1zM91.9 550.0h1.1v1.1h-1.1zM89.4 540.2h1.1v1.1h-1.1zM103.9 545.0h1.1v1.1h-1.1zM95.7 542.1h1.1v1.1h-1.1zM91.3 550.4h1.1v1.1h-1.1zM85.6 545.5h1.1v1.1h-1.1zM98.3 550.2h1.1v1.1h-1.1zM87.7 540.4h1.1v1.1h-1.1zM102.5 542.1h1.1v1.1h-1.1zM98.3 540.3h1.1v1.1h-1.1zM103.0 543.8h1.1v1.1h-1.1zM98.0 546.7h1.1v1.1h-1.1zM101.3 543.0h1.1v1.1h-1.1zM95.0 548.8h1.1v1.1h-1.1zM91.0 547.3h1.1v1.1h-1.1zM86.3 547.0h1.1v1.1h-1.1zM82.3 547.3h1.1v1.1h-1.1zM106.8 543.1h1.1v1.1h-1.1zM101.9 544.6h1.1v1.1h-1.1zM95.2 549.2h1.1v1.1h-1.1zM92.4 547.8h1.1v1.1h-1.1zM104.4 546.6h1.1v1.1h-1.1zM97.8 541.8h1.1v1.1h-1.1zM95.6 549.8h1.1v1.1h-1.1zM103.7 548.6h1.1v1.1h-1.1zM90.0 540.3h1.1v1.1h-1.1zM94.6 541.9h1.1v1.1h-1.1zM93.8 541.8h1.1v1.1h-1.1zM105.9 545.3h1.1v1.1h-1.1zM108.0 543.1h1.1v1.1h-1.1zM85.4 545.8h1.1v1.1h-1.1zM106.0 545.8h1.1v1.1h-1.1zM90.6 551.5h1.1v1.1h-1.1zM81.7 550.4h1.1v1.1h-1.1zM97.0 549.8h1.1v1.1h-1.1zM90.8 549.1h1.1v1.1h-1.1zM93.2 548.8h1.1v1.1h-1.1zM107.6 543.7h1.1v1.1h-1.1zM86.0 548.5h1.1v1.1h-1.1zM93.7 549.4h1.1v1.1h-1.1zM106.0 547.7h1.1v1.1h-1.1zM87.9 540.4h1.1v1.1h-1.1zM85.4 545.9h1.1v1.1h-1.1zM81.7 549.3h1.1v1.1h-1.1zM91.2 551.0h1.1v1.1h-1.1zM87.3 547.6h1.1v1.1h-1.1zM106.0 541.9h1.1v1.1h-1.1zM84.5 550.0h1.1v1.1h-1.1zM87.8 541.7h1.1v1.1h-1.1zM103.6 548.7h1.1v1.1h-1.1zM90.2 540.3h1.1v1.1h-1.1zM96.8 543.2h1.1v1.1h-1.1zM103.0 541.2h1.1v1.1h-1.1zM83.6 545.5h1.1v1.1h-1.1zM82.2 542.2h1.1v1.1h-1.1zM107.5 545.8h1.1v1.1h-1.1zM81.8 545.6h1.1v1.1h-1.1zM90.3 539.0h1.1v1.1h-1.1zM94.2 539.9h1.1v1.1h-1.1zM93.7 540.1h1.1v1.1h-1.1zM83.6 539.9h1.1v1.1h-1.1zM102.1 539.2h1.1v1.1h-1.1zM91.9 539.2h1.1v1.1h-1.1zM88.6 539.1h1.1v1.1h-1.1zM82.3 538.6h1.1v1.1h-1.1zM85.8 540.3h1.1v1.1h-1.1zM96.7 538.5h1.1v1.1h-1.1zM87.1 538.1h1.1v1.1h-1.1zM85.3 539.0h1.1v1.1h-1.1zM95.1 537.9h1.1v1.1h-1.1zM100.2 538.0h1.1v1.1h-1.1zM86.3 540.0h1.1v1.1h-1.1zM90.1 539.8h1.1v1.1h-1.1zM79.5 539.5h1.1v1.1h-1.1zM94.2 537.7h1.1v1.1h-1.1zM102.7 539.6h1.1v1.1h-1.1zM104.1 539.8h1.1v1.1h-1.1zM100.7 538.8h1.1v1.1h-1.1zM86.0 538.1h1.1v1.1h-1.1zM88.6 539.4h1.1v1.1h-1.1zM82.6 539.6h1.1v1.1h-1.1zM95.4 539.9h1.1v1.1h-1.1zM99.0 538.0h1.1v1.1h-1.1zM86.2 539.1h1.1v1.1h-1.1zM103.8 539.6h1.1v1.1h-1.1zM110.4 544.8h1.1v1.1h-1.1zM107.3 540.4h1.1v1.1h-1.1zM106.9 541.9h1.1v1.1h-1.1zM108.1 542.9h1.1v1.1h-1.1zM108.8 544.0h1.1v1.1h-1.1zM105.6 542.5h1.1v1.1h-1.1zM108.1 544.2h1.1v1.1h-1.1zM108.4 548.4h1.1v1.1h-1.1zM110.1 545.7h1.1v1.1h-1.1zM107.6 548.3h1.1v1.1h-1.1zM111.9 543.4h1.1v1.1h-1.1zM105.2 548.7h1.1v1.1h-1.1zM107.0 547.4h1.1v1.1h-1.1zM103.2 548.7h1.1v1.1h-1.1zM103.5 549.6h1.1v1.1h-1.1zM106.4 548.9h1.1v1.1h-1.1zM102.9 548.9h1.1v1.1h-1.1zM104.4 547.0h1.1v1.1h-1.1zM102.0 548.2h1.1v1.1h-1.1zM100.7 550.0h1.1v1.1h-1.1zM98.3 552.5h1.1v1.1h-1.1zM93.0 551.0h1.1v1.1h-1.1zM92.5 550.7h1.1v1.1h-1.1zM92.0 551.0h1.1v1.1h-1.1zM98.2 552.7h1.1v1.1h-1.1zM96.7 552.3h1.1v1.1h-1.1zM94.5 550.8h1.1v1.1h-1.1zM98.4 549.6h1.1v1.1h-1.1zM97.2 549.8h1.1v1.1h-1.1zM85.4 550.8h1.1v1.1h-1.1zM83.8 551.3h1.1v1.1h-1.1zM90.5 550.6h1.1v1.1h-1.1zM81.7 551.1h1.1v1.1h-1.1zM85.8 551.6h1.1v1.1h-1.1zM80.4 553.1h1.1v1.1h-1.1zM90.4 550.6h1.1v1.1h-1.1zM84.1 550.8h1.1v1.1h-1.1zM84.8 552.7h1.1v1.1h-1.1zM84.8 550.2h1.1v1.1h-1.1zM80.8 550.7h1.1v1.1h-1.1zM80.9 545.0h1.1v1.1h-1.1zM80.6 544.0h1.1v1.1h-1.1zM82.8 547.8h1.1v1.1h-1.1zM79.4 540.3h1.1v1.1h-1.1zM79.4 540.2h1.1v1.1h-1.1zM79.4 539.7h1.1v1.1h-1.1zM79.2 543.5h1.1v1.1h-1.1zM79.5 540.3h1.1v1.1h-1.1zM81.7 548.0h1.1v1.1h-1.1zM79.3 543.8h1.1v1.1h-1.1zM82.4 549.3h1.1v1.1h-1.1zM79.6 544.4h1.1v1.1h-1.1z"/>
</g>
<path d="M83.2,541.2 L96.4,542.9 L98.9,544.5 L94.8,546.2 L84.0,545.3Z" fill="none" stroke="#e63946" stroke-width="0.7" opacity="0.9"/>
<path d="M81.0,540.0 L100.0,541.0 L104.0,545.0 L99.0,548.5 L83.0,548.0Z" fill="none" stroke="#fff" stroke-width="0.7" opacity="0.55" stroke-linejoin="round"/>
<g fill="#e63946">
<rect x="51" y="519" width="1.3" height="1.3"/>
<rect x="52" y="523" width="1.3" height="1.3"/>
<rect x="58" y="505" width="1.3" height="1.3"/>
<rect x="80.5" y="509" width="1.3" height="1.3"/>
<rect x="81" y="512" width="1.3" height="1.3"/>
<rect x="108" y="524" width="1.3" height="1.3"/>
<rect x="112" y="541" width="1.3" height="1.3"/>
<rect x="104" y="553" width="1.3" height="1.3"/>
<rect x="50" y="543" width="1.3" height="1.3"/>
<rect x="53" y="548" width="1.3" height="1.3"/>
<rect x="84" y="514" width="1.3" height="1.3"/>
<rect x="106" y="531" width="1.3" height="1.3"/>
<rect x="98" y="553.5" width="1.3" height="1.3"/>
</g>
<path d="M80.7,518.5 L85.6,529 L81.4,536.5 Z" fill="#fff"/>
<line x1="49.6" y1="567" x2="49.6" y2="569.2" stroke="#777" stroke-width="0.6"/>
<line x1="55.9" y1="567" x2="55.9" y2="569.2" stroke="#777" stroke-width="0.6"/>
<line x1="62.2" y1="567" x2="62.2" y2="569.2" stroke="#777" stroke-width="0.6"/>
<line x1="68.5" y1="567" x2="68.5" y2="569.2" stroke="#777" stroke-width="0.6"/>
<line x1="74.8" y1="567" x2="74.8" y2="569.2" stroke="#777" stroke-width="0.6"/>
<line x1="81.1" y1="567" x2="81.1" y2="569.2" stroke="#777" stroke-width="0.6"/>
<line x1="87.4" y1="567" x2="87.4" y2="569.2" stroke="#777" stroke-width="0.6"/>
<line x1="93.7" y1="567" x2="93.7" y2="569.2" stroke="#777" stroke-width="0.6"/>
<line x1="100.0" y1="567" x2="100.0" y2="569.2" stroke="#777" stroke-width="0.6"/>
<line x1="106.3" y1="567" x2="106.3" y2="569.2" stroke="#777" stroke-width="0.6"/>
<line x1="112.6" y1="567" x2="112.6" y2="569.2" stroke="#777" stroke-width="0.6"/>
<line x1="118.9" y1="567" x2="118.9" y2="569.2" stroke="#777" stroke-width="0.6"/>
<line x1="125.2" y1="567" x2="125.2" y2="569.2" stroke="#777" stroke-width="0.6"/>
<line x1="131.5" y1="567" x2="131.5" y2="569.2" stroke="#777" stroke-width="0.6"/>
<rect x="45.6" y="479.4" width="88.0" height="87.60000000000002" fill="none" stroke="#231f20" stroke-width="1.2"/>
<line x1="80" y1="479.4" x2="80" y2="567" stroke="#231f20" stroke-width="1.25"/>
<line x1="45.6" y1="538.6" x2="133.6" y2="538.6" stroke="#231f20" stroke-width="1.25"/>
<text x="47.6" y="494" font-family="Liberation Sans" fill="#2e2e2e" font-size="13.4" textLength="28.8" lengthAdjust="spacingAndGlyphs">66.2</text>
<text x="100.6" y="494" font-family="Liberation Sans" fill="#2e2e2e" font-size="13.4" textLength="29" lengthAdjust="spacingAndGlyphs">7.30</text>
<text x="47.6" y="564" font-family="Liberation Sans" fill="#2e2e2e" font-size="13.4" textLength="26.8" lengthAdjust="spacingAndGlyphs">19.3</text>
<text x="101.6" y="564" font-family="Liberation Sans" fill="#2e2e2e" font-size="13.4" textLength="24" lengthAdjust="spacingAndGlyphs">7.17</text>
<g fill="#4a3c94">
<path d="M158.5 513.6h1.1v1.1h-1.1zM159.4 529.7h1.1v1.1h-1.1zM171.9 530.8h1.1v1.1h-1.1zM154.4 513.9h1.1v1.1h-1.1zM166.7 515.5h1.1v1.1h-1.1zM169.8 550.4h1.1v1.1h-1.1zM156.7 543.9h1.1v1.1h-1.1zM153.5 524.3h1.1v1.1h-1.1zM158.9 510.4h1.1v1.1h-1.1zM168.1 520.4h1.1v1.1h-1.1zM165.8 532.3h1.1v1.1h-1.1zM162.7 510.2h1.1v1.1h-1.1zM168.4 539.3h1.1v1.1h-1.1zM162.4 549.4h1.1v1.1h-1.1zM167.5 549.6h1.1v1.1h-1.1zM175.6 534.1h1.1v1.1h-1.1zM168.7 542.1h1.1v1.1h-1.1zM161.7 537.7h1.1v1.1h-1.1zM160.6 520.7h1.1v1.1h-1.1zM164.6 548.6h1.1v1.1h-1.1zM173.8 513.4h1.1v1.1h-1.1zM171.0 515.9h1.1v1.1h-1.1zM159.9 535.1h1.1v1.1h-1.1zM174.6 546.7h1.1v1.1h-1.1zM169.0 534.4h1.1v1.1h-1.1zM154.7 544.3h1.1v1.1h-1.1zM173.6 537.5h1.1v1.1h-1.1zM168.7 513.7h1.1v1.1h-1.1zM172.8 549.2h1.1v1.1h-1.1zM167.8 539.3h1.1v1.1h-1.1zM162.0 547.1h1.1v1.1h-1.1zM166.6 511.7h1.1v1.1h-1.1zM173.1 517.9h1.1v1.1h-1.1zM162.8 512.7h1.1v1.1h-1.1zM173.8 540.8h1.1v1.1h-1.1zM167.1 546.0h1.1v1.1h-1.1zM172.3 528.2h1.1v1.1h-1.1zM164.3 544.3h1.1v1.1h-1.1zM169.0 518.3h1.1v1.1h-1.1zM160.4 527.6h1.1v1.1h-1.1zM157.4 529.7h1.1v1.1h-1.1zM153.1 516.3h1.1v1.1h-1.1zM169.2 513.7h1.1v1.1h-1.1zM163.2 536.4h1.1v1.1h-1.1zM173.9 529.2h1.1v1.1h-1.1zM172.4 550.9h1.1v1.1h-1.1zM161.5 535.8h1.1v1.1h-1.1zM175.8 517.8h1.1v1.1h-1.1zM166.5 513.6h1.1v1.1h-1.1zM170.7 537.8h1.1v1.1h-1.1zM162.1 543.7h1.1v1.1h-1.1zM156.9 514.8h1.1v1.1h-1.1zM156.4 530.9h1.1v1.1h-1.1zM166.8 547.1h1.1v1.1h-1.1zM154.9 514.0h1.1v1.1h-1.1zM172.4 545.8h1.1v1.1h-1.1zM154.6 534.6h1.1v1.1h-1.1zM163.1 510.1h1.1v1.1h-1.1zM167.2 521.0h1.1v1.1h-1.1zM174.9 550.1h1.1v1.1h-1.1zM170.4 543.4h1.1v1.1h-1.1zM166.1 551.0h1.1v1.1h-1.1zM167.1 542.5h1.1v1.1h-1.1zM164.5 549.8h1.1v1.1h-1.1zM175.5 526.7h1.1v1.1h-1.1zM157.7 548.4h1.1v1.1h-1.1zM168.9 532.1h1.1v1.1h-1.1zM165.6 543.2h1.1v1.1h-1.1zM153.2 517.6h1.1v1.1h-1.1zM159.4 545.9h1.1v1.1h-1.1zM174.6 525.8h1.1v1.1h-1.1zM171.2 548.7h1.1v1.1h-1.1zM152.5 522.0h1.1v1.1h-1.1zM159.4 525.8h1.1v1.1h-1.1zM172.2 546.2h1.1v1.1h-1.1zM154.9 539.9h1.1v1.1h-1.1zM153.6 520.1h1.1v1.1h-1.1zM176.0 530.1h1.1v1.1h-1.1zM163.0 544.8h1.1v1.1h-1.1zM159.9 546.4h1.1v1.1h-1.1zM153.4 540.4h1.1v1.1h-1.1zM161.6 523.0h1.1v1.1h-1.1zM161.1 547.8h1.1v1.1h-1.1zM155.8 542.9h1.1v1.1h-1.1zM157.3 538.0h1.1v1.1h-1.1zM162.9 511.4h1.1v1.1h-1.1zM159.5 518.1h1.1v1.1h-1.1zM167.0 541.9h1.1v1.1h-1.1zM159.1 536.5h1.1v1.1h-1.1zM174.2 544.6h1.1v1.1h-1.1zM175.5 538.7h1.1v1.1h-1.1zM153.6 538.0h1.1v1.1h-1.1zM157.3 546.1h1.1v1.1h-1.1zM165.8 548.1h1.1v1.1h-1.1zM170.8 521.2h1.1v1.1h-1.1zM153.7 544.1h1.1v1.1h-1.1zM163.3 514.2h1.1v1.1h-1.1zM168.4 527.7h1.1v1.1h-1.1zM174.1 532.0h1.1v1.1h-1.1zM173.2 532.8h1.1v1.1h-1.1zM171.4 545.5h1.1v1.1h-1.1zM167.1 542.0h1.1v1.1h-1.1zM154.3 520.7h1.1v1.1h-1.1zM158.4 528.5h1.1v1.1h-1.1zM167.2 515.3h1.1v1.1h-1.1zM161.5 549.4h1.1v1.1h-1.1zM163.0 529.9h1.1v1.1h-1.1zM171.7 512.1h1.1v1.1h-1.1zM172.1 547.2h1.1v1.1h-1.1zM165.4 533.9h1.1v1.1h-1.1zM171.4 519.8h1.1v1.1h-1.1zM162.0 513.1h1.1v1.1h-1.1zM166.8 545.5h1.1v1.1h-1.1zM175.6 514.3h1.1v1.1h-1.1zM153.3 518.4h1.1v1.1h-1.1zM173.6 532.4h1.1v1.1h-1.1zM165.7 512.0h1.1v1.1h-1.1zM169.5 539.4h1.1v1.1h-1.1zM156.9 536.3h1.1v1.1h-1.1zM165.5 536.4h1.1v1.1h-1.1zM159.2 524.2h1.1v1.1h-1.1zM154.8 521.1h1.1v1.1h-1.1zM174.1 550.3h1.1v1.1h-1.1zM168.4 534.2h1.1v1.1h-1.1zM157.2 547.5h1.1v1.1h-1.1zM158.4 515.8h1.1v1.1h-1.1zM163.5 541.2h1.1v1.1h-1.1zM172.0 519.0h1.1v1.1h-1.1zM155.0 520.9h1.1v1.1h-1.1zM175.0 548.5h1.1v1.1h-1.1zM158.1 515.5h1.1v1.1h-1.1zM167.7 518.8h1.1v1.1h-1.1zM160.9 523.7h1.1v1.1h-1.1zM169.1 527.2h1.1v1.1h-1.1zM154.3 543.3h1.1v1.1h-1.1zM163.6 512.6h1.1v1.1h-1.1zM166.4 512.3h1.1v1.1h-1.1zM167.4 518.4h1.1v1.1h-1.1zM169.0 546.1h1.1v1.1h-1.1zM173.8 543.9h1.1v1.1h-1.1zM158.0 546.8h1.1v1.1h-1.1zM155.9 530.5h1.1v1.1h-1.1zM166.0 534.7h1.1v1.1h-1.1zM175.4 520.9h1.1v1.1h-1.1zM169.4 514.7h1.1v1.1h-1.1zM170.1 521.8h1.1v1.1h-1.1zM175.7 539.6h1.1v1.1h-1.1zM158.7 533.9h1.1v1.1h-1.1zM158.5 540.1h1.1v1.1h-1.1zM162.4 535.4h1.1v1.1h-1.1zM159.3 533.8h1.1v1.1h-1.1zM168.0 532.3h1.1v1.1h-1.1zM175.2 541.6h1.1v1.1h-1.1zM155.9 537.8h1.1v1.1h-1.1zM164.7 537.2h1.1v1.1h-1.1zM168.6 523.6h1.1v1.1h-1.1zM164.1 518.2h1.1v1.1h-1.1zM174.3 541.8h1.1v1.1h-1.1zM170.0 535.8h1.1v1.1h-1.1zM173.5 541.1h1.1v1.1h-1.1zM154.9 522.5h1.1v1.1h-1.1zM153.8 541.9h1.1v1.1h-1.1zM172.3 516.3h1.1v1.1h-1.1zM175.5 540.7h1.1v1.1h-1.1zM171.3 513.2h1.1v1.1h-1.1zM169.8 514.1h1.1v1.1h-1.1zM174.2 515.2h1.1v1.1h-1.1zM158.7 543.2h1.1v1.1h-1.1zM157.9 522.0h1.1v1.1h-1.1zM154.0 532.2h1.1v1.1h-1.1zM170.2 531.6h1.1v1.1h-1.1zM153.2 537.6h1.1v1.1h-1.1zM169.1 531.7h1.1v1.1h-1.1zM159.1 514.9h1.1v1.1h-1.1zM164.0 512.5h1.1v1.1h-1.1zM173.8 541.8h1.1v1.1h-1.1zM158.1 521.2h1.1v1.1h-1.1zM163.5 515.5h1.1v1.1h-1.1zM160.8 521.3h1.1v1.1h-1.1zM156.8 514.4h1.1v1.1h-1.1zM163.7 541.2h1.1v1.1h-1.1zM156.6 518.1h1.1v1.1h-1.1zM171.5 533.7h1.1v1.1h-1.1zM167.1 526.5h1.1v1.1h-1.1zM159.1 533.4h1.1v1.1h-1.1zM175.7 548.1h1.1v1.1h-1.1zM160.6 529.6h1.1v1.1h-1.1zM168.4 514.9h1.1v1.1h-1.1zM169.9 538.1h1.1v1.1h-1.1zM158.6 522.0h1.1v1.1h-1.1zM152.5 520.2h1.1v1.1h-1.1zM173.8 543.6h1.1v1.1h-1.1zM175.3 519.0h1.1v1.1h-1.1zM156.3 521.5h1.1v1.1h-1.1zM155.9 527.5h1.1v1.1h-1.1zM162.7 541.7h1.1v1.1h-1.1zM166.7 541.6h1.1v1.1h-1.1zM176.1 525.6h1.1v1.1h-1.1zM158.1 514.0h1.1v1.1h-1.1zM166.7 550.9h1.1v1.1h-1.1zM157.8 530.1h1.1v1.1h-1.1zM153.8 538.5h1.1v1.1h-1.1zM156.3 529.8h1.1v1.1h-1.1zM160.9 516.0h1.1v1.1h-1.1zM154.3 539.0h1.1v1.1h-1.1zM155.8 516.7h1.1v1.1h-1.1zM153.3 523.5h1.1v1.1h-1.1zM167.3 510.2h1.1v1.1h-1.1zM164.1 535.9h1.1v1.1h-1.1zM158.1 542.9h1.1v1.1h-1.1zM162.5 511.4h1.1v1.1h-1.1zM168.2 523.8h1.1v1.1h-1.1zM174.8 516.1h1.1v1.1h-1.1zM160.7 518.1h1.1v1.1h-1.1zM167.8 537.0h1.1v1.1h-1.1zM157.5 535.3h1.1v1.1h-1.1zM174.9 534.6h1.1v1.1h-1.1zM167.1 526.9h1.1v1.1h-1.1zM156.0 534.2h1.1v1.1h-1.1zM158.4 528.6h1.1v1.1h-1.1zM156.1 525.1h1.1v1.1h-1.1zM156.5 512.7h1.1v1.1h-1.1zM159.6 545.7h1.1v1.1h-1.1zM172.1 524.8h1.1v1.1h-1.1zM163.3 544.5h1.1v1.1h-1.1zM158.9 546.3h1.1v1.1h-1.1zM162.3 526.0h1.1v1.1h-1.1zM158.7 536.7h1.1v1.1h-1.1zM170.0 531.0h1.1v1.1h-1.1zM153.6 542.9h1.1v1.1h-1.1zM156.6 545.5h1.1v1.1h-1.1zM170.1 519.0h1.1v1.1h-1.1zM156.6 518.0h1.1v1.1h-1.1zM159.5 538.7h1.1v1.1h-1.1zM153.6 519.2h1.1v1.1h-1.1zM170.5 530.0h1.1v1.1h-1.1zM161.0 514.7h1.1v1.1h-1.1zM157.5 529.4h1.1v1.1h-1.1zM160.0 547.3h1.1v1.1h-1.1zM172.5 514.0h1.1v1.1h-1.1zM160.6 548.3h1.1v1.1h-1.1zM172.7 519.8h1.1v1.1h-1.1zM153.4 535.1h1.1v1.1h-1.1zM164.8 510.7h1.1v1.1h-1.1zM158.4 538.3h1.1v1.1h-1.1zM162.8 530.8h1.1v1.1h-1.1zM157.6 543.5h1.1v1.1h-1.1zM173.8 538.4h1.1v1.1h-1.1zM159.5 537.0h1.1v1.1h-1.1zM175.1 529.3h1.1v1.1h-1.1zM154.8 533.1h1.1v1.1h-1.1zM162.6 541.5h1.1v1.1h-1.1zM169.4 537.2h1.1v1.1h-1.1zM160.5 514.7h1.1v1.1h-1.1zM164.1 545.4h1.1v1.1h-1.1zM153.9 534.8h1.1v1.1h-1.1zM159.7 515.5h1.1v1.1h-1.1zM169.7 518.7h1.1v1.1h-1.1zM154.8 523.2h1.1v1.1h-1.1zM163.4 512.3h1.1v1.1h-1.1zM157.9 529.6h1.1v1.1h-1.1zM156.2 531.1h1.1v1.1h-1.1zM155.1 532.4h1.1v1.1h-1.1zM171.9 526.1h1.1v1.1h-1.1zM168.8 517.4h1.1v1.1h-1.1zM161.4 540.2h1.1v1.1h-1.1zM161.7 527.6h1.1v1.1h-1.1zM166.8 540.6h1.1v1.1h-1.1zM174.4 534.8h1.1v1.1h-1.1zM163.9 531.9h1.1v1.1h-1.1zM168.2 547.6h1.1v1.1h-1.1zM165.4 547.2h1.1v1.1h-1.1zM159.7 524.0h1.1v1.1h-1.1zM163.2 533.4h1.1v1.1h-1.1zM169.7 514.5h1.1v1.1h-1.1zM165.6 531.4h1.1v1.1h-1.1zM167.5 521.7h1.1v1.1h-1.1zM175.3 525.0h1.1v1.1h-1.1zM171.0 547.4h1.1v1.1h-1.1zM155.4 533.2h1.1v1.1h-1.1zM171.9 544.4h1.1v1.1h-1.1zM174.4 527.6h1.1v1.1h-1.1zM172.0 523.5h1.1v1.1h-1.1zM160.5 549.2h1.1v1.1h-1.1zM161.1 522.6h1.1v1.1h-1.1zM158.1 511.2h1.1v1.1h-1.1zM153.5 518.5h1.1v1.1h-1.1zM163.6 540.1h1.1v1.1h-1.1zM172.8 527.4h1.1v1.1h-1.1zM170.8 541.9h1.1v1.1h-1.1zM168.2 538.0h1.1v1.1h-1.1zM172.7 547.0h1.1v1.1h-1.1zM168.2 515.8h1.1v1.1h-1.1zM157.6 546.2h1.1v1.1h-1.1zM171.6 517.2h1.1v1.1h-1.1zM161.1 527.3h1.1v1.1h-1.1zM173.7 548.4h1.1v1.1h-1.1zM160.1 523.1h1.1v1.1h-1.1zM154.4 533.4h1.1v1.1h-1.1zM169.9 524.2h1.1v1.1h-1.1zM154.8 513.9h1.1v1.1h-1.1zM173.3 530.6h1.1v1.1h-1.1zM162.2 511.8h1.1v1.1h-1.1zM171.1 511.2h1.1v1.1h-1.1zM153.5 527.7h1.1v1.1h-1.1zM168.6 543.7h1.1v1.1h-1.1zM155.3 529.2h1.1v1.1h-1.1zM166.9 523.4h1.1v1.1h-1.1zM155.7 519.9h1.1v1.1h-1.1zM159.6 546.5h1.1v1.1h-1.1zM161.0 542.3h1.1v1.1h-1.1zM167.2 533.0h1.1v1.1h-1.1zM155.3 514.6h1.1v1.1h-1.1zM156.7 531.9h1.1v1.1h-1.1zM171.1 511.7h1.1v1.1h-1.1zM169.5 514.3h1.1v1.1h-1.1zM159.0 511.9h1.1v1.1h-1.1zM169.0 511.9h1.1v1.1h-1.1zM163.5 531.9h1.1v1.1h-1.1zM159.7 542.6h1.1v1.1h-1.1zM173.4 519.1h1.1v1.1h-1.1zM157.1 544.2h1.1v1.1h-1.1zM171.7 515.2h1.1v1.1h-1.1zM167.2 527.0h1.1v1.1h-1.1zM167.8 524.4h1.1v1.1h-1.1zM168.7 541.6h1.1v1.1h-1.1zM170.3 532.4h1.1v1.1h-1.1zM173.5 532.8h1.1v1.1h-1.1zM158.4 516.7h1.1v1.1h-1.1zM156.2 520.1h1.1v1.1h-1.1zM173.9 538.3h1.1v1.1h-1.1zM157.1 545.2h1.1v1.1h-1.1zM157.6 547.7h1.1v1.1h-1.1zM171.7 544.5h1.1v1.1h-1.1zM175.6 543.5h1.1v1.1h-1.1zM172.6 544.1h1.1v1.1h-1.1zM164.7 536.2h1.1v1.1h-1.1zM161.3 511.4h1.1v1.1h-1.1zM170.0 511.8h1.1v1.1h-1.1zM167.4 538.6h1.1v1.1h-1.1zM156.9 515.6h1.1v1.1h-1.1zM152.5 520.6h1.1v1.1h-1.1zM174.2 515.1h1.1v1.1h-1.1zM157.9 544.5h1.1v1.1h-1.1zM156.3 541.6h1.1v1.1h-1.1zM166.3 538.0h1.1v1.1h-1.1zM157.1 534.5h1.1v1.1h-1.1zM165.4 529.9h1.1v1.1h-1.1zM175.2 527.8h1.1v1.1h-1.1zM173.1 514.8h1.1v1.1h-1.1zM158.1 530.3h1.1v1.1h-1.1zM174.4 533.1h1.1v1.1h-1.1zM161.9 536.0h1.1v1.1h-1.1zM164.9 512.6h1.1v1.1h-1.1zM160.1 547.6h1.1v1.1h-1.1zM176.4 538.1h1.1v1.1h-1.1zM159.6 536.9h1.1v1.1h-1.1zM170.0 519.6h1.1v1.1h-1.1zM167.2 530.0h1.1v1.1h-1.1zM168.9 535.4h1.1v1.1h-1.1zM154.7 517.5h1.1v1.1h-1.1zM165.2 536.8h1.1v1.1h-1.1zM176.3 533.8h1.1v1.1h-1.1zM165.8 541.7h1.1v1.1h-1.1zM157.0 531.8h1.1v1.1h-1.1zM153.5 537.8h1.1v1.1h-1.1zM160.2 548.9h1.1v1.1h-1.1zM170.2 536.4h1.1v1.1h-1.1zM168.1 525.6h1.1v1.1h-1.1zM173.5 527.5h1.1v1.1h-1.1zM162.8 534.7h1.1v1.1h-1.1zM167.3 526.6h1.1v1.1h-1.1zM158.4 526.8h1.1v1.1h-1.1zM158.8 511.9h1.1v1.1h-1.1zM163.7 543.8h1.1v1.1h-1.1zM157.5 530.2h1.1v1.1h-1.1zM163.2 548.3h1.1v1.1h-1.1zM155.8 547.2h1.1v1.1h-1.1zM174.6 549.4h1.1v1.1h-1.1zM167.9 536.3h1.1v1.1h-1.1zM156.9 526.2h1.1v1.1h-1.1zM172.3 530.3h1.1v1.1h-1.1zM161.2 519.2h1.1v1.1h-1.1zM158.5 510.7h1.1v1.1h-1.1zM152.8 540.0h1.1v1.1h-1.1zM168.5 541.7h1.1v1.1h-1.1zM166.0 516.8h1.1v1.1h-1.1zM156.3 539.5h1.1v1.1h-1.1zM170.4 537.5h1.1v1.1h-1.1zM172.2 514.9h1.1v1.1h-1.1zM172.1 516.7h1.1v1.1h-1.1zM170.3 518.8h1.1v1.1h-1.1zM162.9 536.3h1.1v1.1h-1.1zM167.8 543.7h1.1v1.1h-1.1zM154.3 522.8h1.1v1.1h-1.1zM162.1 531.4h1.1v1.1h-1.1zM155.1 535.3h1.1v1.1h-1.1zM163.1 519.0h1.1v1.1h-1.1zM172.8 523.8h1.1v1.1h-1.1zM156.4 534.4h1.1v1.1h-1.1zM171.5 535.9h1.1v1.1h-1.1zM176.3 540.5h1.1v1.1h-1.1zM153.1 532.0h1.1v1.1h-1.1zM162.4 510.2h1.1v1.1h-1.1zM169.3 518.7h1.1v1.1h-1.1zM169.9 532.1h1.1v1.1h-1.1zM159.0 521.9h1.1v1.1h-1.1zM171.8 550.4h1.1v1.1h-1.1zM161.2 519.7h1.1v1.1h-1.1zM157.1 545.5h1.1v1.1h-1.1zM164.7 517.8h1.1v1.1h-1.1zM167.0 541.4h1.1v1.1h-1.1zM172.5 538.5h1.1v1.1h-1.1zM168.3 550.9h1.1v1.1h-1.1zM154.2 537.2h1.1v1.1h-1.1zM166.1 548.0h1.1v1.1h-1.1zM160.5 546.0h1.1v1.1h-1.1zM169.3 524.3h1.1v1.1h-1.1zM153.3 532.2h1.1v1.1h-1.1zM168.1 513.4h1.1v1.1h-1.1zM171.4 517.9h1.1v1.1h-1.1zM152.6 517.7h1.1v1.1h-1.1zM173.8 522.9h1.1v1.1h-1.1zM173.9 517.2h1.1v1.1h-1.1zM156.5 543.3h1.1v1.1h-1.1zM174.5 515.6h1.1v1.1h-1.1zM162.0 534.3h1.1v1.1h-1.1zM164.8 516.1h1.1v1.1h-1.1zM163.6 544.6h1.1v1.1h-1.1zM160.3 515.4h1.1v1.1h-1.1zM173.6 534.7h1.1v1.1h-1.1zM167.0 549.3h1.1v1.1h-1.1zM174.8 537.5h1.1v1.1h-1.1zM167.3 533.0h1.1v1.1h-1.1zM174.6 540.2h1.1v1.1h-1.1zM163.7 513.7h1.1v1.1h-1.1zM166.0 539.3h1.1v1.1h-1.1zM170.8 519.7h1.1v1.1h-1.1zM155.6 528.6h1.1v1.1h-1.1zM175.0 544.1h1.1v1.1h-1.1zM153.3 520.4h1.1v1.1h-1.1zM169.3 522.7h1.1v1.1h-1.1zM170.8 523.2h1.1v1.1h-1.1zM165.3 515.4h1.1v1.1h-1.1zM171.8 536.2h1.1v1.1h-1.1zM160.0 537.2h1.1v1.1h-1.1zM159.2 541.2h1.1v1.1h-1.1zM169.0 545.4h1.1v1.1h-1.1zM175.7 530.9h1.1v1.1h-1.1zM162.8 509.4h1.1v1.1h-1.1zM168.5 519.3h1.1v1.1h-1.1zM158.9 516.7h1.1v1.1h-1.1zM174.6 534.1h1.1v1.1h-1.1zM166.8 540.6h1.1v1.1h-1.1zM154.0 544.3h1.1v1.1h-1.1zM155.7 548.0h1.1v1.1h-1.1zM174.2 530.1h1.1v1.1h-1.1zM154.9 531.2h1.1v1.1h-1.1zM157.3 528.8h1.1v1.1h-1.1zM166.1 538.9h1.1v1.1h-1.1zM162.6 511.6h1.1v1.1h-1.1zM162.3 521.2h1.1v1.1h-1.1zM155.7 515.2h1.1v1.1h-1.1zM172.1 513.3h1.1v1.1h-1.1zM173.2 527.8h1.1v1.1h-1.1zM163.3 536.5h1.1v1.1h-1.1zM161.1 536.8h1.1v1.1h-1.1zM172.6 550.9h1.1v1.1h-1.1zM168.9 539.0h1.1v1.1h-1.1zM164.8 510.0h1.1v1.1h-1.1zM156.1 514.7h1.1v1.1h-1.1zM168.7 547.7h1.1v1.1h-1.1zM173.9 515.7h1.1v1.1h-1.1zM171.0 518.0h1.1v1.1h-1.1zM175.6 528.6h1.1v1.1h-1.1zM166.5 542.7h1.1v1.1h-1.1zM159.8 528.9h1.1v1.1h-1.1zM171.5 524.5h1.1v1.1h-1.1zM171.8 549.4h1.1v1.1h-1.1zM167.6 518.7h1.1v1.1h-1.1zM171.1 538.0h1.1v1.1h-1.1zM169.0 523.9h1.1v1.1h-1.1zM158.1 529.4h1.1v1.1h-1.1zM166.4 545.3h1.1v1.1h-1.1zM168.1 516.8h1.1v1.1h-1.1zM157.1 546.0h1.1v1.1h-1.1zM174.8 514.8h1.1v1.1h-1.1zM171.7 522.6h1.1v1.1h-1.1zM155.7 527.2h1.1v1.1h-1.1zM174.9 523.2h1.1v1.1h-1.1zM172.4 519.1h1.1v1.1h-1.1zM164.6 535.9h1.1v1.1h-1.1zM153.6 539.5h1.1v1.1h-1.1zM157.3 527.1h1.1v1.1h-1.1zM158.4 548.4h1.1v1.1h-1.1zM161.1 536.0h1.1v1.1h-1.1zM155.6 525.1h1.1v1.1h-1.1zM175.1 530.6h1.1v1.1h-1.1zM153.8 514.9h1.1v1.1h-1.1zM175.7 515.5h1.1v1.1h-1.1zM168.5 513.2h1.1v1.1h-1.1zM162.9 533.0h1.1v1.1h-1.1zM169.0 514.8h1.1v1.1h-1.1zM154.5 545.9h1.1v1.1h-1.1zM174.9 537.1h1.1v1.1h-1.1zM170.4 521.1h1.1v1.1h-1.1zM169.5 515.5h1.1v1.1h-1.1zM170.8 517.0h1.1v1.1h-1.1zM173.1 549.9h1.1v1.1h-1.1zM163.5 533.6h1.1v1.1h-1.1zM171.8 550.7h1.1v1.1h-1.1zM154.9 520.0h1.1v1.1h-1.1zM169.1 514.8h1.1v1.1h-1.1zM170.4 532.1h1.1v1.1h-1.1zM157.3 512.8h1.1v1.1h-1.1zM154.9 528.9h1.1v1.1h-1.1zM174.4 530.8h1.1v1.1h-1.1zM173.8 549.0h1.1v1.1h-1.1zM154.9 538.7h1.1v1.1h-1.1zM174.7 532.1h1.1v1.1h-1.1zM168.2 533.3h1.1v1.1h-1.1zM170.6 532.7h1.1v1.1h-1.1zM159.0 546.1h1.1v1.1h-1.1zM171.0 518.0h1.1v1.1h-1.1zM168.4 531.4h1.1v1.1h-1.1zM160.6 545.5h1.1v1.1h-1.1zM164.2 538.5h1.1v1.1h-1.1zM158.2 524.6h1.1v1.1h-1.1zM166.6 511.9h1.1v1.1h-1.1zM156.7 512.7h1.1v1.1h-1.1zM163.1 549.5h1.1v1.1h-1.1zM172.9 514.8h1.1v1.1h-1.1zM168.1 510.8h1.1v1.1h-1.1zM166.8 542.2h1.1v1.1h-1.1zM154.9 532.6h1.1v1.1h-1.1zM172.1 528.0h1.1v1.1h-1.1zM167.2 536.6h1.1v1.1h-1.1zM175.2 519.2h1.1v1.1h-1.1zM174.8 524.9h1.1v1.1h-1.1zM174.7 520.9h1.1v1.1h-1.1zM165.1 515.8h1.1v1.1h-1.1zM170.8 537.9h1.1v1.1h-1.1zM154.7 525.1h1.1v1.1h-1.1zM153.3 525.6h1.1v1.1h-1.1zM171.2 533.4h1.1v1.1h-1.1zM168.5 536.5h1.1v1.1h-1.1zM175.1 541.8h1.1v1.1h-1.1zM159.6 538.2h1.1v1.1h-1.1zM171.2 512.5h1.1v1.1h-1.1zM166.9 534.5h1.1v1.1h-1.1zM172.7 517.5h1.1v1.1h-1.1zM161.8 525.9h1.1v1.1h-1.1zM172.7 545.8h1.1v1.1h-1.1zM174.1 524.6h1.1v1.1h-1.1zM161.8 518.1h1.1v1.1h-1.1zM174.2 529.9h1.1v1.1h-1.1zM159.7 531.1h1.1v1.1h-1.1zM166.6 519.8h1.1v1.1h-1.1zM175.9 548.5h1.1v1.1h-1.1zM167.8 532.9h1.1v1.1h-1.1zM166.5 514.6h1.1v1.1h-1.1zM160.9 542.2h1.1v1.1h-1.1zM164.6 537.1h1.1v1.1h-1.1zM168.6 541.4h1.1v1.1h-1.1zM165.3 541.0h1.1v1.1h-1.1zM159.9 523.4h1.1v1.1h-1.1zM156.8 547.3h1.1v1.1h-1.1zM176.1 536.3h1.1v1.1h-1.1zM167.2 511.6h1.1v1.1h-1.1zM156.4 516.9h1.1v1.1h-1.1zM160.4 510.0h1.1v1.1h-1.1zM167.9 536.0h1.1v1.1h-1.1zM158.0 514.0h1.1v1.1h-1.1zM173.9 528.6h1.1v1.1h-1.1zM168.7 511.6h1.1v1.1h-1.1zM168.3 550.8h1.1v1.1h-1.1zM174.8 550.8h1.1v1.1h-1.1zM172.7 523.9h1.1v1.1h-1.1zM155.7 521.2h1.1v1.1h-1.1zM166.0 515.0h1.1v1.1h-1.1zM159.7 541.7h1.1v1.1h-1.1zM161.3 514.8h1.1v1.1h-1.1zM167.5 543.8h1.1v1.1h-1.1zM162.6 520.5h1.1v1.1h-1.1zM154.6 524.6h1.1v1.1h-1.1zM157.7 541.8h1.1v1.1h-1.1zM155.9 542.7h1.1v1.1h-1.1zM167.4 531.5h1.1v1.1h-1.1zM165.6 545.2h1.1v1.1h-1.1zM161.7 528.7h1.1v1.1h-1.1zM167.4 535.1h1.1v1.1h-1.1zM157.4 531.2h1.1v1.1h-1.1zM153.5 520.4h1.1v1.1h-1.1zM175.5 540.3h1.1v1.1h-1.1zM156.7 537.5h1.1v1.1h-1.1zM158.1 515.9h1.1v1.1h-1.1zM169.2 533.0h1.1v1.1h-1.1zM176.1 530.9h1.1v1.1h-1.1zM155.2 532.4h1.1v1.1h-1.1zM161.9 532.6h1.1v1.1h-1.1zM172.9 538.0h1.1v1.1h-1.1zM154.3 527.9h1.1v1.1h-1.1zM158.3 531.0h1.1v1.1h-1.1zM167.1 546.7h1.1v1.1h-1.1zM154.7 540.4h1.1v1.1h-1.1zM162.3 511.6h1.1v1.1h-1.1zM166.5 510.0h1.1v1.1h-1.1zM165.4 545.8h1.1v1.1h-1.1zM165.2 514.0h1.1v1.1h-1.1zM176.0 543.3h1.1v1.1h-1.1zM157.3 523.0h1.1v1.1h-1.1zM158.4 527.9h1.1v1.1h-1.1zM161.9 533.8h1.1v1.1h-1.1zM154.6 530.2h1.1v1.1h-1.1zM155.7 539.7h1.1v1.1h-1.1zM176.1 542.1h1.1v1.1h-1.1zM159.3 522.9h1.1v1.1h-1.1zM157.0 514.3h1.1v1.1h-1.1zM167.1 541.5h1.1v1.1h-1.1zM159.4 548.8h1.1v1.1h-1.1zM173.4 528.7h1.1v1.1h-1.1zM154.8 536.1h1.1v1.1h-1.1zM167.7 533.6h1.1v1.1h-1.1zM162.3 543.7h1.1v1.1h-1.1zM170.8 550.6h1.1v1.1h-1.1zM164.5 535.6h1.1v1.1h-1.1zM157.8 546.1h1.1v1.1h-1.1zM157.3 524.2h1.1v1.1h-1.1zM157.9 531.2h1.1v1.1h-1.1zM157.9 546.7h1.1v1.1h-1.1zM158.3 518.3h1.1v1.1h-1.1zM159.4 533.1h1.1v1.1h-1.1zM166.7 535.4h1.1v1.1h-1.1zM153.9 540.4h1.1v1.1h-1.1zM162.4 540.7h1.1v1.1h-1.1zM174.7 534.5h1.1v1.1h-1.1zM174.9 518.0h1.1v1.1h-1.1zM159.9 519.7h1.1v1.1h-1.1zM156.0 532.2h1.1v1.1h-1.1zM159.3 518.7h1.1v1.1h-1.1zM155.4 539.0h1.1v1.1h-1.1zM158.5 540.0h1.1v1.1h-1.1zM174.6 512.9h1.1v1.1h-1.1zM173.4 535.5h1.1v1.1h-1.1zM163.1 538.0h1.1v1.1h-1.1zM165.5 536.9h1.1v1.1h-1.1zM169.2 542.5h1.1v1.1h-1.1zM169.2 537.8h1.1v1.1h-1.1zM169.0 515.9h1.1v1.1h-1.1zM170.0 520.8h1.1v1.1h-1.1zM166.5 537.6h1.1v1.1h-1.1zM155.4 542.4h1.1v1.1h-1.1zM168.8 518.6h1.1v1.1h-1.1zM168.4 527.8h1.1v1.1h-1.1zM156.1 514.2h1.1v1.1h-1.1zM156.9 539.2h1.1v1.1h-1.1zM167.6 543.5h1.1v1.1h-1.1zM161.5 511.0h1.1v1.1h-1.1zM171.8 543.8h1.1v1.1h-1.1zM158.9 521.3h1.1v1.1h-1.1zM168.3 524.3h1.1v1.1h-1.1zM167.1 526.3h1.1v1.1h-1.1zM154.9 546.8h1.1v1.1h-1.1zM158.9 524.4h1.1v1.1h-1.1zM160.8 542.8h1.1v1.1h-1.1zM154.4 538.2h1.1v1.1h-1.1zM157.9 537.5h1.1v1.1h-1.1zM165.2 537.6h1.1v1.1h-1.1zM157.7 532.6h1.1v1.1h-1.1zM162.2 525.4h1.1v1.1h-1.1zM157.2 516.7h1.1v1.1h-1.1zM171.2 538.7h1.1v1.1h-1.1zM154.1 516.8h1.1v1.1h-1.1zM175.1 517.1h1.1v1.1h-1.1zM166.5 513.0h1.1v1.1h-1.1zM175.1 523.5h1.1v1.1h-1.1zM160.7 548.2h1.1v1.1h-1.1zM161.2 513.0h1.1v1.1h-1.1zM174.7 540.5h1.1v1.1h-1.1zM164.8 518.9h1.1v1.1h-1.1zM161.7 544.2h1.1v1.1h-1.1zM156.0 525.5h1.1v1.1h-1.1zM155.9 535.4h1.1v1.1h-1.1zM162.3 536.2h1.1v1.1h-1.1zM163.1 542.0h1.1v1.1h-1.1zM171.7 545.4h1.1v1.1h-1.1zM155.1 532.5h1.1v1.1h-1.1zM163.2 531.5h1.1v1.1h-1.1zM155.4 524.4h1.1v1.1h-1.1zM158.3 526.7h1.1v1.1h-1.1zM164.1 546.9h1.1v1.1h-1.1zM173.4 520.9h1.1v1.1h-1.1zM155.4 534.7h1.1v1.1h-1.1zM156.4 523.8h1.1v1.1h-1.1zM169.3 543.5h1.1v1.1h-1.1zM154.3 517.7h1.1v1.1h-1.1zM168.7 526.9h1.1v1.1h-1.1zM175.4 531.9h1.1v1.1h-1.1zM170.1 516.7h1.1v1.1h-1.1zM170.2 522.0h1.1v1.1h-1.1zM160.2 512.1h1.1v1.1h-1.1zM171.6 542.2h1.1v1.1h-1.1zM165.9 523.4h1.1v1.1h-1.1zM154.4 537.6h1.1v1.1h-1.1zM161.0 545.6h1.1v1.1h-1.1zM175.1 532.0h1.1v1.1h-1.1zM168.0 546.3h1.1v1.1h-1.1zM161.2 530.7h1.1v1.1h-1.1zM169.3 511.9h1.1v1.1h-1.1zM168.7 530.4h1.1v1.1h-1.1zM156.0 525.1h1.1v1.1h-1.1zM171.7 528.9h1.1v1.1h-1.1zM155.0 545.4h1.1v1.1h-1.1zM165.5 541.7h1.1v1.1h-1.1zM155.1 541.2h1.1v1.1h-1.1zM158.9 516.9h1.1v1.1h-1.1zM170.7 540.0h1.1v1.1h-1.1zM160.9 540.9h1.1v1.1h-1.1zM172.1 518.4h1.1v1.1h-1.1zM169.8 548.9h1.1v1.1h-1.1zM167.6 525.3h1.1v1.1h-1.1zM155.8 545.1h1.1v1.1h-1.1zM173.5 528.8h1.1v1.1h-1.1zM167.5 537.1h1.1v1.1h-1.1zM153.9 541.2h1.1v1.1h-1.1zM164.4 520.3h1.1v1.1h-1.1zM163.5 538.3h1.1v1.1h-1.1zM164.0 514.4h1.1v1.1h-1.1zM162.2 518.6h1.1v1.1h-1.1zM171.9 524.7h1.1v1.1h-1.1zM173.0 544.2h1.1v1.1h-1.1zM175.3 530.1h1.1v1.1h-1.1zM173.9 517.0h1.1v1.1h-1.1zM170.8 535.3h1.1v1.1h-1.1zM152.7 521.0h1.1v1.1h-1.1zM156.4 524.1h1.1v1.1h-1.1zM164.7 519.0h1.1v1.1h-1.1zM159.4 519.0h1.1v1.1h-1.1zM155.4 547.8h1.1v1.1h-1.1zM162.6 530.9h1.1v1.1h-1.1zM157.0 531.8h1.1v1.1h-1.1zM176.0 549.7h1.1v1.1h-1.1zM174.6 542.4h1.1v1.1h-1.1zM155.0 511.9h1.1v1.1h-1.1zM170.1 512.8h1.1v1.1h-1.1zM160.4 526.5h1.1v1.1h-1.1zM160.9 531.9h1.1v1.1h-1.1zM163.3 532.1h1.1v1.1h-1.1zM171.3 550.3h1.1v1.1h-1.1zM159.4 544.9h1.1v1.1h-1.1zM163.4 533.4h1.1v1.1h-1.1zM162.7 549.0h1.1v1.1h-1.1zM167.3 521.4h1.1v1.1h-1.1zM165.7 546.5h1.1v1.1h-1.1zM153.3 526.9h1.1v1.1h-1.1zM167.8 548.0h1.1v1.1h-1.1zM155.9 519.0h1.1v1.1h-1.1zM164.2 514.1h1.1v1.1h-1.1zM174.0 517.9h1.1v1.1h-1.1zM173.6 539.5h1.1v1.1h-1.1zM162.0 539.2h1.1v1.1h-1.1zM158.0 545.4h1.1v1.1h-1.1zM175.2 519.0h1.1v1.1h-1.1zM170.0 518.0h1.1v1.1h-1.1zM168.3 548.5h1.1v1.1h-1.1zM162.1 519.1h1.1v1.1h-1.1zM173.1 513.3h1.1v1.1h-1.1zM156.9 542.4h1.1v1.1h-1.1zM172.2 516.9h1.1v1.1h-1.1zM171.6 535.6h1.1v1.1h-1.1zM161.0 537.5h1.1v1.1h-1.1zM168.8 525.8h1.1v1.1h-1.1zM161.6 543.7h1.1v1.1h-1.1zM162.2 519.5h1.1v1.1h-1.1zM158.7 510.3h1.1v1.1h-1.1zM171.2 523.9h1.1v1.1h-1.1zM155.9 511.2h1.1v1.1h-1.1zM164.2 518.5h1.1v1.1h-1.1zM162.9 519.0h1.1v1.1h-1.1zM154.9 517.5h1.1v1.1h-1.1zM165.9 522.3h1.1v1.1h-1.1zM157.6 537.5h1.1v1.1h-1.1zM155.2 543.2h1.1v1.1h-1.1zM174.4 514.6h1.1v1.1h-1.1zM167.8 541.7h1.1v1.1h-1.1zM156.8 538.9h1.1v1.1h-1.1zM162.2 530.1h1.1v1.1h-1.1zM158.9 527.7h1.1v1.1h-1.1zM163.8 511.8h1.1v1.1h-1.1zM172.2 548.6h1.1v1.1h-1.1zM163.8 536.0h1.1v1.1h-1.1zM174.3 516.3h1.1v1.1h-1.1zM157.4 548.2h1.1v1.1h-1.1zM155.4 534.8h1.1v1.1h-1.1zM168.8 543.6h1.1v1.1h-1.1zM160.9 542.2h1.1v1.1h-1.1zM158.6 510.8h1.1v1.1h-1.1zM174.6 545.9h1.1v1.1h-1.1zM166.2 537.1h1.1v1.1h-1.1zM158.7 529.6h1.1v1.1h-1.1zM165.8 530.8h1.1v1.1h-1.1zM165.5 530.7h1.1v1.1h-1.1zM171.5 545.4h1.1v1.1h-1.1zM162.2 520.9h1.1v1.1h-1.1zM164.4 512.1h1.1v1.1h-1.1zM155.9 516.6h1.1v1.1h-1.1zM172.7 538.8h1.1v1.1h-1.1zM174.4 525.8h1.1v1.1h-1.1zM170.5 548.3h1.1v1.1h-1.1zM175.8 530.8h1.1v1.1h-1.1zM173.0 512.1h1.1v1.1h-1.1zM171.5 524.2h1.1v1.1h-1.1zM157.4 527.8h1.1v1.1h-1.1zM176.2 550.2h1.1v1.1h-1.1zM161.2 514.5h1.1v1.1h-1.1zM173.0 539.4h1.1v1.1h-1.1zM171.0 541.7h1.1v1.1h-1.1zM166.9 514.8h1.1v1.1h-1.1zM175.6 549.1h1.1v1.1h-1.1zM175.4 520.6h1.1v1.1h-1.1zM162.9 512.2h1.1v1.1h-1.1zM163.6 548.4h1.1v1.1h-1.1zM174.1 549.9h1.1v1.1h-1.1zM163.1 530.7h1.1v1.1h-1.1zM173.2 519.0h1.1v1.1h-1.1zM157.7 511.1h1.1v1.1h-1.1zM158.3 548.6h1.1v1.1h-1.1zM161.6 529.8h1.1v1.1h-1.1zM163.2 534.3h1.1v1.1h-1.1zM157.6 541.5h1.1v1.1h-1.1zM156.2 527.6h1.1v1.1h-1.1zM161.4 525.7h1.1v1.1h-1.1zM156.5 533.9h1.1v1.1h-1.1zM160.5 510.6h1.1v1.1h-1.1zM161.8 526.1h1.1v1.1h-1.1zM175.0 536.4h1.1v1.1h-1.1zM162.3 518.2h1.1v1.1h-1.1zM166.5 516.4h1.1v1.1h-1.1zM174.6 523.3h1.1v1.1h-1.1zM162.9 521.3h1.1v1.1h-1.1zM158.9 540.6h1.1v1.1h-1.1zM165.9 513.9h1.1v1.1h-1.1zM172.2 544.9h1.1v1.1h-1.1zM159.1 515.0h1.1v1.1h-1.1zM170.0 518.4h1.1v1.1h-1.1zM167.8 521.7h1.1v1.1h-1.1zM163.5 511.2h1.1v1.1h-1.1zM156.7 512.2h1.1v1.1h-1.1zM157.8 544.2h1.1v1.1h-1.1zM173.5 548.7h1.1v1.1h-1.1zM168.0 530.9h1.1v1.1h-1.1zM174.9 517.1h1.1v1.1h-1.1zM159.9 528.3h1.1v1.1h-1.1zM165.7 535.4h1.1v1.1h-1.1zM166.0 528.4h1.1v1.1h-1.1zM155.6 536.6h1.1v1.1h-1.1zM166.9 541.1h1.1v1.1h-1.1zM162.6 545.3h1.1v1.1h-1.1zM160.7 540.3h1.1v1.1h-1.1zM157.9 536.8h1.1v1.1h-1.1zM166.7 537.0h1.1v1.1h-1.1zM157.0 512.0h1.1v1.1h-1.1zM176.0 548.1h1.1v1.1h-1.1zM173.7 516.6h1.1v1.1h-1.1zM160.9 517.5h1.1v1.1h-1.1zM163.6 549.0h1.1v1.1h-1.1zM157.2 529.8h1.1v1.1h-1.1zM176.1 543.4h1.1v1.1h-1.1zM159.5 541.8h1.1v1.1h-1.1zM172.4 545.1h1.1v1.1h-1.1zM170.3 525.7h1.1v1.1h-1.1zM153.1 532.5h1.1v1.1h-1.1zM152.9 527.1h1.1v1.1h-1.1zM174.4 547.8h1.1v1.1h-1.1zM175.7 523.4h1.1v1.1h-1.1zM167.0 546.8h1.1v1.1h-1.1zM159.6 538.9h1.1v1.1h-1.1zM157.4 523.2h1.1v1.1h-1.1zM155.5 513.0h1.1v1.1h-1.1zM165.9 544.7h1.1v1.1h-1.1zM156.0 512.8h1.1v1.1h-1.1zM169.6 521.6h1.1v1.1h-1.1zM173.2 548.9h1.1v1.1h-1.1zM172.0 546.3h1.1v1.1h-1.1zM162.7 517.4h1.1v1.1h-1.1zM160.9 517.5h1.1v1.1h-1.1zM157.0 529.9h1.1v1.1h-1.1zM171.6 531.2h1.1v1.1h-1.1zM164.4 517.2h1.1v1.1h-1.1zM173.4 546.2h1.1v1.1h-1.1zM164.1 513.1h1.1v1.1h-1.1zM173.4 514.9h1.1v1.1h-1.1zM169.7 550.2h1.1v1.1h-1.1zM166.0 528.5h1.1v1.1h-1.1zM170.1 512.4h1.1v1.1h-1.1zM170.0 513.3h1.1v1.1h-1.1zM153.3 522.6h1.1v1.1h-1.1zM171.8 524.6h1.1v1.1h-1.1zM154.8 546.3h1.1v1.1h-1.1zM170.6 528.3h1.1v1.1h-1.1zM157.5 523.1h1.1v1.1h-1.1zM169.1 526.5h1.1v1.1h-1.1zM171.3 546.9h1.1v1.1h-1.1zM160.5 546.0h1.1v1.1h-1.1zM166.2 532.6h1.1v1.1h-1.1zM162.2 513.4h1.1v1.1h-1.1zM170.5 540.3h1.1v1.1h-1.1zM173.6 523.6h1.1v1.1h-1.1zM164.5 545.3h1.1v1.1h-1.1zM174.5 532.3h1.1v1.1h-1.1zM166.4 521.3h1.1v1.1h-1.1zM156.6 533.3h1.1v1.1h-1.1zM169.9 549.0h1.1v1.1h-1.1zM163.2 539.6h1.1v1.1h-1.1zM156.4 524.8h1.1v1.1h-1.1zM160.5 536.7h1.1v1.1h-1.1zM166.9 521.3h1.1v1.1h-1.1zM160.3 521.0h1.1v1.1h-1.1zM155.6 537.7h1.1v1.1h-1.1zM161.5 539.2h1.1v1.1h-1.1zM169.9 522.1h1.1v1.1h-1.1zM160.5 518.2h1.1v1.1h-1.1zM162.1 542.4h1.1v1.1h-1.1zM171.6 519.5h1.1v1.1h-1.1zM167.7 540.0h1.1v1.1h-1.1zM176.0 541.1h1.1v1.1h-1.1zM170.9 517.6h1.1v1.1h-1.1zM163.6 520.4h1.1v1.1h-1.1zM170.2 526.3h1.1v1.1h-1.1zM157.8 514.2h1.1v1.1h-1.1zM153.9 545.0h1.1v1.1h-1.1zM153.4 531.8h1.1v1.1h-1.1zM169.9 523.7h1.1v1.1h-1.1zM174.5 542.4h1.1v1.1h-1.1zM165.7 550.1h1.1v1.1h-1.1zM161.9 511.3h1.1v1.1h-1.1zM155.8 543.4h1.1v1.1h-1.1zM161.7 518.8h1.1v1.1h-1.1zM158.4 528.2h1.1v1.1h-1.1zM173.1 524.3h1.1v1.1h-1.1zM164.5 532.7h1.1v1.1h-1.1zM152.7 523.4h1.1v1.1h-1.1zM174.9 547.1h1.1v1.1h-1.1zM176.2 534.6h1.1v1.1h-1.1zM158.8 537.3h1.1v1.1h-1.1zM164.3 549.4h1.1v1.1h-1.1zM169.5 533.9h1.1v1.1h-1.1zM154.9 527.3h1.1v1.1h-1.1zM162.6 517.1h1.1v1.1h-1.1zM160.0 522.1h1.1v1.1h-1.1zM173.0 543.1h1.1v1.1h-1.1zM174.6 545.8h1.1v1.1h-1.1zM174.6 528.8h1.1v1.1h-1.1zM163.2 543.7h1.1v1.1h-1.1zM156.7 519.9h1.1v1.1h-1.1zM159.8 516.7h1.1v1.1h-1.1zM174.9 540.8h1.1v1.1h-1.1zM156.8 539.2h1.1v1.1h-1.1zM171.9 523.6h1.1v1.1h-1.1zM173.7 538.8h1.1v1.1h-1.1zM159.4 514.5h1.1v1.1h-1.1zM166.3 511.0h1.1v1.1h-1.1zM164.8 543.9h1.1v1.1h-1.1zM174.8 529.3h1.1v1.1h-1.1zM156.7 540.9h1.1v1.1h-1.1zM161.3 531.5h1.1v1.1h-1.1zM168.3 528.9h1.1v1.1h-1.1zM155.7 547.6h1.1v1.1h-1.1zM158.5 548.6h1.1v1.1h-1.1zM170.8 529.2h1.1v1.1h-1.1zM167.8 523.4h1.1v1.1h-1.1zM165.9 523.4h1.1v1.1h-1.1zM173.2 543.0h1.1v1.1h-1.1zM158.1 522.5h1.1v1.1h-1.1zM174.4 528.6h1.1v1.1h-1.1zM160.1 510.9h1.1v1.1h-1.1zM174.4 519.3h1.1v1.1h-1.1zM169.8 545.2h1.1v1.1h-1.1zM169.7 548.0h1.1v1.1h-1.1zM166.9 550.8h1.1v1.1h-1.1zM171.0 519.6h1.1v1.1h-1.1zM159.8 533.7h1.1v1.1h-1.1zM170.0 532.8h1.1v1.1h-1.1zM155.0 545.6h1.1v1.1h-1.1zM168.0 526.2h1.1v1.1h-1.1zM175.7 546.8h1.1v1.1h-1.1zM175.5 520.7h1.1v1.1h-1.1zM158.1 526.1h1.1v1.1h-1.1zM174.0 517.8h1.1v1.1h-1.1zM166.6 514.5h1.1v1.1h-1.1zM162.8 537.6h1.1v1.1h-1.1zM161.5 541.7h1.1v1.1h-1.1zM163.2 542.1h1.1v1.1h-1.1zM175.2 533.6h1.1v1.1h-1.1zM170.6 543.2h1.1v1.1h-1.1zM156.1 527.3h1.1v1.1h-1.1zM171.1 521.8h1.1v1.1h-1.1zM166.7 538.6h1.1v1.1h-1.1zM159.1 541.2h1.1v1.1h-1.1zM170.1 542.8h1.1v1.1h-1.1zM164.7 518.7h1.1v1.1h-1.1zM157.6 537.5h1.1v1.1h-1.1zM155.1 530.8h1.1v1.1h-1.1zM173.9 545.5h1.1v1.1h-1.1zM158.3 516.9h1.1v1.1h-1.1zM163.6 521.4h1.1v1.1h-1.1zM159.2 543.8h1.1v1.1h-1.1zM165.6 518.8h1.1v1.1h-1.1zM156.5 522.7h1.1v1.1h-1.1zM171.0 530.7h1.1v1.1h-1.1zM166.3 543.3h1.1v1.1h-1.1zM167.8 541.3h1.1v1.1h-1.1zM156.3 526.1h1.1v1.1h-1.1zM163.5 547.6h1.1v1.1h-1.1zM156.0 526.5h1.1v1.1h-1.1zM159.4 517.5h1.1v1.1h-1.1zM164.4 514.7h1.1v1.1h-1.1zM170.6 526.6h1.1v1.1h-1.1zM156.6 535.9h1.1v1.1h-1.1zM171.8 549.6h1.1v1.1h-1.1zM169.8 546.2h1.1v1.1h-1.1zM163.7 547.4h1.1v1.1h-1.1zM173.3 516.1h1.1v1.1h-1.1zM162.5 514.6h1.1v1.1h-1.1zM176.0 522.9h1.1v1.1h-1.1zM175.6 538.3h1.1v1.1h-1.1zM162.3 528.5h1.1v1.1h-1.1zM175.3 545.3h1.1v1.1h-1.1zM170.9 532.5h1.1v1.1h-1.1zM165.0 550.5h1.1v1.1h-1.1zM167.1 536.2h1.1v1.1h-1.1zM171.6 525.9h1.1v1.1h-1.1zM175.4 527.9h1.1v1.1h-1.1zM174.1 542.8h1.1v1.1h-1.1zM175.3 528.6h1.1v1.1h-1.1zM161.9 527.6h1.1v1.1h-1.1zM155.5 541.7h1.1v1.1h-1.1zM161.4 528.8h1.1v1.1h-1.1zM154.5 514.8h1.1v1.1h-1.1zM155.1 537.5h1.1v1.1h-1.1zM159.6 543.2h1.1v1.1h-1.1zM159.6 549.2h1.1v1.1h-1.1zM174.2 517.7h1.1v1.1h-1.1zM163.5 532.1h1.1v1.1h-1.1zM155.0 521.0h1.1v1.1h-1.1zM170.5 524.7h1.1v1.1h-1.1zM174.9 533.5h1.1v1.1h-1.1zM169.5 537.8h1.1v1.1h-1.1zM172.6 513.3h1.1v1.1h-1.1zM157.4 543.2h1.1v1.1h-1.1zM172.1 525.2h1.1v1.1h-1.1zM168.8 531.1h1.1v1.1h-1.1zM154.1 527.5h1.1v1.1h-1.1zM161.1 522.2h1.1v1.1h-1.1zM155.3 547.9h1.1v1.1h-1.1zM171.1 543.0h1.1v1.1h-1.1zM153.9 529.6h1.1v1.1h-1.1zM162.9 543.3h1.1v1.1h-1.1zM170.2 546.8h1.1v1.1h-1.1zM172.2 520.7h1.1v1.1h-1.1zM162.5 515.5h1.1v1.1h-1.1zM154.2 524.7h1.1v1.1h-1.1zM173.5 534.4h1.1v1.1h-1.1zM159.4 547.7h1.1v1.1h-1.1zM164.1 540.8h1.1v1.1h-1.1zM159.5 528.1h1.1v1.1h-1.1zM175.0 537.9h1.1v1.1h-1.1zM169.9 523.5h1.1v1.1h-1.1zM165.9 516.0h1.1v1.1h-1.1zM155.5 528.5h1.1v1.1h-1.1zM157.6 524.8h1.1v1.1h-1.1zM175.3 546.5h1.1v1.1h-1.1zM154.9 540.5h1.1v1.1h-1.1zM168.3 541.2h1.1v1.1h-1.1zM161.2 519.8h1.1v1.1h-1.1zM169.9 538.4h1.1v1.1h-1.1zM155.7 517.9h1.1v1.1h-1.1zM154.8 539.6h1.1v1.1h-1.1zM165.4 514.4h1.1v1.1h-1.1zM158.4 516.7h1.1v1.1h-1.1zM171.3 512.5h1.1v1.1h-1.1zM176.4 530.0h1.1v1.1h-1.1zM155.5 532.8h1.1v1.1h-1.1zM158.2 546.7h1.1v1.1h-1.1zM156.4 522.2h1.1v1.1h-1.1zM161.6 522.4h1.1v1.1h-1.1zM157.9 519.5h1.1v1.1h-1.1zM167.0 539.9h1.1v1.1h-1.1zM161.3 521.2h1.1v1.1h-1.1zM164.8 538.4h1.1v1.1h-1.1zM173.0 533.9h1.1v1.1h-1.1zM173.1 526.5h1.1v1.1h-1.1zM156.5 523.3h1.1v1.1h-1.1zM158.5 543.2h1.1v1.1h-1.1zM166.0 547.9h1.1v1.1h-1.1zM153.0 534.1h1.1v1.1h-1.1zM170.0 547.0h1.1v1.1h-1.1zM171.3 518.6h1.1v1.1h-1.1zM162.7 513.2h1.1v1.1h-1.1zM155.2 542.9h1.1v1.1h-1.1zM169.1 526.0h1.1v1.1h-1.1zM153.8 538.4h1.1v1.1h-1.1zM166.1 523.3h1.1v1.1h-1.1zM162.8 535.7h1.1v1.1h-1.1zM176.1 526.3h1.1v1.1h-1.1zM158.3 548.9h1.1v1.1h-1.1zM156.6 525.9h1.1v1.1h-1.1zM160.0 528.2h1.1v1.1h-1.1zM173.3 540.1h1.1v1.1h-1.1zM169.1 520.2h1.1v1.1h-1.1zM155.3 520.2h1.1v1.1h-1.1zM175.2 539.4h1.1v1.1h-1.1zM166.0 544.5h1.1v1.1h-1.1zM162.3 510.2h1.1v1.1h-1.1zM154.0 528.0h1.1v1.1h-1.1zM157.6 530.6h1.1v1.1h-1.1zM172.7 529.1h1.1v1.1h-1.1zM174.8 540.5h1.1v1.1h-1.1zM165.2 518.7h1.1v1.1h-1.1zM171.4 528.7h1.1v1.1h-1.1zM155.5 538.8h1.1v1.1h-1.1zM158.9 515.5h1.1v1.1h-1.1zM167.1 515.4h1.1v1.1h-1.1zM168.7 512.6h1.1v1.1h-1.1zM166.8 517.9h1.1v1.1h-1.1zM154.4 519.5h1.1v1.1h-1.1zM174.8 523.3h1.1v1.1h-1.1zM158.3 531.6h1.1v1.1h-1.1zM168.8 513.6h1.1v1.1h-1.1zM173.1 523.0h1.1v1.1h-1.1zM155.4 519.5h1.1v1.1h-1.1zM163.3 535.7h1.1v1.1h-1.1zM167.1 534.5h1.1v1.1h-1.1zM176.2 542.4h1.1v1.1h-1.1zM169.3 541.6h1.1v1.1h-1.1zM162.6 521.6h1.1v1.1h-1.1zM169.0 538.0h1.1v1.1h-1.1zM154.9 528.1h1.1v1.1h-1.1zM157.5 537.4h1.1v1.1h-1.1zM167.3 526.6h1.1v1.1h-1.1zM168.5 544.9h1.1v1.1h-1.1zM162.8 511.9h1.1v1.1h-1.1zM158.5 548.1h1.1v1.1h-1.1zM153.6 529.6h1.1v1.1h-1.1zM170.3 535.8h1.1v1.1h-1.1zM157.0 512.8h1.1v1.1h-1.1zM169.5 524.9h1.1v1.1h-1.1zM172.1 546.1h1.1v1.1h-1.1zM166.5 523.1h1.1v1.1h-1.1zM169.3 544.6h1.1v1.1h-1.1zM172.5 516.8h1.1v1.1h-1.1zM165.2 512.1h1.1v1.1h-1.1zM171.1 548.1h1.1v1.1h-1.1zM169.8 516.9h1.1v1.1h-1.1zM159.5 544.4h1.1v1.1h-1.1zM163.9 513.4h1.1v1.1h-1.1zM154.5 530.4h1.1v1.1h-1.1zM155.1 511.6h1.1v1.1h-1.1zM159.1 520.1h1.1v1.1h-1.1zM169.5 519.5h1.1v1.1h-1.1zM161.7 526.2h1.1v1.1h-1.1zM173.1 538.5h1.1v1.1h-1.1zM168.2 549.5h1.1v1.1h-1.1zM174.4 546.6h1.1v1.1h-1.1zM171.3 524.5h1.1v1.1h-1.1zM162.8 539.1h1.1v1.1h-1.1zM160.7 511.3h1.1v1.1h-1.1zM162.7 509.6h1.1v1.1h-1.1zM157.6 510.8h1.1v1.1h-1.1zM159.0 511.9h1.1v1.1h-1.1zM157.7 510.8h1.1v1.1h-1.1zM161.2 510.9h1.1v1.1h-1.1zM159.5 512.2h1.1v1.1h-1.1zM160.6 510.7h1.1v1.1h-1.1zM155.9 510.8h1.1v1.1h-1.1zM169.6 512.1h1.1v1.1h-1.1zM164.5 509.5h1.1v1.1h-1.1zM166.9 510.6h1.1v1.1h-1.1zM168.0 510.6h1.1v1.1h-1.1zM169.9 511.4h1.1v1.1h-1.1zM165.6 510.1h1.1v1.1h-1.1zM169.9 511.3h1.1v1.1h-1.1zM170.4 511.5h1.1v1.1h-1.1zM165.2 508.6h1.1v1.1h-1.1zM174.7 511.5h1.1v1.1h-1.1zM172.9 511.2h1.1v1.1h-1.1zM173.1 511.9h1.1v1.1h-1.1zM173.7 512.7h1.1v1.1h-1.1zM169.9 510.9h1.1v1.1h-1.1zM174.5 526.0h1.1v1.1h-1.1zM173.8 519.4h1.1v1.1h-1.1zM176.8 529.3h1.1v1.1h-1.1zM176.1 513.4h1.1v1.1h-1.1zM175.3 522.3h1.1v1.1h-1.1zM177.7 525.4h1.1v1.1h-1.1zM175.7 526.2h1.1v1.1h-1.1zM175.6 528.9h1.1v1.1h-1.1zM176.1 523.4h1.1v1.1h-1.1zM176.1 521.6h1.1v1.1h-1.1zM177.8 526.5h1.1v1.1h-1.1zM177.9 528.8h1.1v1.1h-1.1zM175.6 516.1h1.1v1.1h-1.1zM176.5 526.2h1.1v1.1h-1.1zM175.9 528.8h1.1v1.1h-1.1zM177.0 521.0h1.1v1.1h-1.1zM176.9 527.1h1.1v1.1h-1.1zM177.7 526.7h1.1v1.1h-1.1zM176.8 548.6h1.1v1.1h-1.1zM177.2 544.1h1.1v1.1h-1.1zM176.2 549.7h1.1v1.1h-1.1zM177.6 539.4h1.1v1.1h-1.1zM178.1 535.0h1.1v1.1h-1.1zM173.9 535.9h1.1v1.1h-1.1zM176.3 548.4h1.1v1.1h-1.1zM176.0 535.8h1.1v1.1h-1.1zM174.6 533.9h1.1v1.1h-1.1zM176.4 541.4h1.1v1.1h-1.1zM176.4 543.0h1.1v1.1h-1.1zM174.9 546.8h1.1v1.1h-1.1zM175.3 532.7h1.1v1.1h-1.1zM177.4 540.6h1.1v1.1h-1.1zM175.6 545.7h1.1v1.1h-1.1zM177.2 540.9h1.1v1.1h-1.1zM177.9 535.5h1.1v1.1h-1.1zM176.3 551.0h1.1v1.1h-1.1zM175.8 538.4h1.1v1.1h-1.1zM176.1 531.4h1.1v1.1h-1.1zM175.3 540.7h1.1v1.1h-1.1zM176.6 543.6h1.1v1.1h-1.1zM176.1 544.7h1.1v1.1h-1.1zM167.3 551.1h1.1v1.1h-1.1zM174.6 552.0h1.1v1.1h-1.1zM166.2 551.2h1.1v1.1h-1.1zM170.8 549.5h1.1v1.1h-1.1zM174.6 551.9h1.1v1.1h-1.1zM175.0 551.6h1.1v1.1h-1.1zM166.0 550.1h1.1v1.1h-1.1zM177.5 551.2h1.1v1.1h-1.1zM166.6 550.2h1.1v1.1h-1.1zM167.1 551.7h1.1v1.1h-1.1zM173.5 550.0h1.1v1.1h-1.1zM166.9 549.9h1.1v1.1h-1.1zM163.2 551.4h1.1v1.1h-1.1zM160.7 550.3h1.1v1.1h-1.1zM164.0 550.4h1.1v1.1h-1.1zM162.5 549.4h1.1v1.1h-1.1zM161.9 549.7h1.1v1.1h-1.1zM157.0 548.5h1.1v1.1h-1.1zM155.7 547.9h1.1v1.1h-1.1zM162.2 550.3h1.1v1.1h-1.1zM163.2 549.8h1.1v1.1h-1.1zM158.8 547.0h1.1v1.1h-1.1zM158.9 549.7h1.1v1.1h-1.1zM154.4 547.8h1.1v1.1h-1.1zM152.8 546.3h1.1v1.1h-1.1zM153.8 544.2h1.1v1.1h-1.1zM154.1 544.0h1.1v1.1h-1.1zM154.2 545.2h1.1v1.1h-1.1zM154.2 545.1h1.1v1.1h-1.1zM154.0 532.1h1.1v1.1h-1.1zM151.8 542.2h1.1v1.1h-1.1zM150.5 542.2h1.1v1.1h-1.1zM152.5 534.7h1.1v1.1h-1.1zM152.2 537.2h1.1v1.1h-1.1zM153.0 535.5h1.1v1.1h-1.1zM152.0 538.7h1.1v1.1h-1.1zM152.9 535.0h1.1v1.1h-1.1zM154.7 536.2h1.1v1.1h-1.1zM152.2 536.9h1.1v1.1h-1.1zM152.1 535.5h1.1v1.1h-1.1zM152.7 533.5h1.1v1.1h-1.1zM153.1 540.8h1.1v1.1h-1.1zM152.9 530.9h1.1v1.1h-1.1zM150.8 522.8h1.1v1.1h-1.1zM153.2 519.4h1.1v1.1h-1.1zM153.1 527.2h1.1v1.1h-1.1zM151.6 519.5h1.1v1.1h-1.1zM153.5 527.4h1.1v1.1h-1.1zM153.6 529.6h1.1v1.1h-1.1zM152.0 529.8h1.1v1.1h-1.1zM152.6 525.2h1.1v1.1h-1.1zM151.5 522.1h1.1v1.1h-1.1zM152.9 520.5h1.1v1.1h-1.1zM152.7 528.3h1.1v1.1h-1.1zM153.2 528.7h1.1v1.1h-1.1zM155.4 514.8h1.1v1.1h-1.1zM154.1 512.4h1.1v1.1h-1.1zM153.6 515.9h1.1v1.1h-1.1zM154.3 517.3h1.1v1.1h-1.1zM153.8 516.8h1.1v1.1h-1.1zM152.7 519.0h1.1v1.1h-1.1zM154.5 514.5h1.1v1.1h-1.1zM153.1 512.7h1.1v1.1h-1.1z"/>
</g>
<path d="M162.5,522.0 L165.0,521.0 L166.5,527.0 L164.5,532.0 L162.5,529.0Z" fill="none" stroke="#4a3c94" stroke-width="0.7" opacity="0.9"/>
<path d="M157.0,515.0 L170.0,513.0 L174.0,525.0 L174.0,546.0 L160.0,547.0 L156.0,535.0Z" fill="none" stroke="#fff" stroke-width="0.7" opacity="0.55" stroke-linejoin="round"/>
<path d="M159.0,518.0 L168.0,517.0 L171.0,530.0 L169.0,541.0 L160.0,541.0Z" fill="none" stroke="#fff" stroke-width="0.7" opacity="0.55" stroke-linejoin="round"/>
<g fill="#4a3c94">
<path d="M185.9 514.8h1.1v1.1h-1.1zM202.0 530.4h1.1v1.1h-1.1zM183.1 550.7h1.1v1.1h-1.1zM196.6 539.9h1.1v1.1h-1.1zM197.1 519.2h1.1v1.1h-1.1zM201.9 537.9h1.1v1.1h-1.1zM189.7 531.6h1.1v1.1h-1.1zM189.7 541.3h1.1v1.1h-1.1zM182.3 549.5h1.1v1.1h-1.1zM191.0 543.2h1.1v1.1h-1.1zM192.9 549.8h1.1v1.1h-1.1zM193.4 521.7h1.1v1.1h-1.1zM186.0 525.4h1.1v1.1h-1.1zM180.7 548.7h1.1v1.1h-1.1zM185.4 547.7h1.1v1.1h-1.1zM178.6 521.1h1.1v1.1h-1.1zM177.7 518.8h1.1v1.1h-1.1zM179.9 534.9h1.1v1.1h-1.1zM177.0 518.8h1.1v1.1h-1.1zM178.2 516.6h1.1v1.1h-1.1zM183.7 551.8h1.1v1.1h-1.1zM201.2 535.2h1.1v1.1h-1.1zM182.6 538.6h1.1v1.1h-1.1zM192.9 530.1h1.1v1.1h-1.1zM200.1 542.0h1.1v1.1h-1.1zM187.8 521.1h1.1v1.1h-1.1zM196.5 526.2h1.1v1.1h-1.1zM195.5 525.5h1.1v1.1h-1.1zM201.2 534.4h1.1v1.1h-1.1zM195.0 524.5h1.1v1.1h-1.1zM200.2 527.5h1.1v1.1h-1.1zM198.8 526.8h1.1v1.1h-1.1zM201.5 543.9h1.1v1.1h-1.1zM193.7 545.3h1.1v1.1h-1.1zM197.3 520.6h1.1v1.1h-1.1zM180.6 550.9h1.1v1.1h-1.1zM201.0 525.6h1.1v1.1h-1.1zM179.8 543.7h1.1v1.1h-1.1zM190.7 546.8h1.1v1.1h-1.1zM186.5 522.2h1.1v1.1h-1.1zM193.7 523.3h1.1v1.1h-1.1zM203.8 543.7h1.1v1.1h-1.1zM202.9 540.1h1.1v1.1h-1.1zM176.7 515.5h1.1v1.1h-1.1zM200.2 524.9h1.1v1.1h-1.1zM191.1 524.0h1.1v1.1h-1.1zM191.1 532.5h1.1v1.1h-1.1zM183.0 536.8h1.1v1.1h-1.1zM190.9 521.2h1.1v1.1h-1.1zM188.5 527.7h1.1v1.1h-1.1zM176.8 548.6h1.1v1.1h-1.1zM180.7 519.2h1.1v1.1h-1.1zM201.6 535.0h1.1v1.1h-1.1zM183.5 522.8h1.1v1.1h-1.1zM190.4 523.0h1.1v1.1h-1.1zM195.8 518.2h1.1v1.1h-1.1zM177.2 537.3h1.1v1.1h-1.1zM178.4 542.9h1.1v1.1h-1.1zM178.2 549.0h1.1v1.1h-1.1zM194.1 540.4h1.1v1.1h-1.1zM186.1 524.7h1.1v1.1h-1.1zM179.4 544.5h1.1v1.1h-1.1zM198.8 530.0h1.1v1.1h-1.1zM185.9 523.2h1.1v1.1h-1.1zM192.3 536.0h1.1v1.1h-1.1zM194.0 536.1h1.1v1.1h-1.1zM192.3 536.1h1.1v1.1h-1.1zM189.4 519.0h1.1v1.1h-1.1zM176.9 533.2h1.1v1.1h-1.1zM182.6 547.1h1.1v1.1h-1.1zM196.7 522.0h1.1v1.1h-1.1zM195.5 548.9h1.1v1.1h-1.1zM176.8 529.9h1.1v1.1h-1.1zM182.6 547.8h1.1v1.1h-1.1zM180.4 550.8h1.1v1.1h-1.1zM199.4 548.3h1.1v1.1h-1.1zM195.6 545.6h1.1v1.1h-1.1zM199.8 523.8h1.1v1.1h-1.1zM200.9 538.4h1.1v1.1h-1.1zM177.9 539.8h1.1v1.1h-1.1zM179.4 546.1h1.1v1.1h-1.1zM196.2 519.6h1.1v1.1h-1.1zM194.2 517.8h1.1v1.1h-1.1zM179.7 548.3h1.1v1.1h-1.1zM198.4 521.9h1.1v1.1h-1.1zM189.1 516.4h1.1v1.1h-1.1zM179.0 543.7h1.1v1.1h-1.1zM176.5 548.7h1.1v1.1h-1.1zM180.4 520.5h1.1v1.1h-1.1zM180.3 545.4h1.1v1.1h-1.1zM200.4 542.7h1.1v1.1h-1.1zM182.2 522.0h1.1v1.1h-1.1zM190.1 546.1h1.1v1.1h-1.1zM194.9 540.7h1.1v1.1h-1.1zM179.0 544.1h1.1v1.1h-1.1zM182.4 544.7h1.1v1.1h-1.1zM183.0 537.2h1.1v1.1h-1.1zM179.5 548.9h1.1v1.1h-1.1zM189.9 550.4h1.1v1.1h-1.1zM185.4 526.7h1.1v1.1h-1.1zM195.6 519.6h1.1v1.1h-1.1zM202.9 539.2h1.1v1.1h-1.1zM191.6 551.3h1.1v1.1h-1.1zM177.9 531.6h1.1v1.1h-1.1zM183.0 516.7h1.1v1.1h-1.1zM199.6 539.5h1.1v1.1h-1.1zM179.1 548.9h1.1v1.1h-1.1zM185.1 548.1h1.1v1.1h-1.1zM185.3 536.7h1.1v1.1h-1.1zM180.9 520.0h1.1v1.1h-1.1zM195.9 520.2h1.1v1.1h-1.1zM202.3 527.6h1.1v1.1h-1.1zM195.8 529.8h1.1v1.1h-1.1zM200.7 544.0h1.1v1.1h-1.1zM187.0 547.3h1.1v1.1h-1.1zM187.8 530.4h1.1v1.1h-1.1zM193.1 521.9h1.1v1.1h-1.1zM177.8 517.3h1.1v1.1h-1.1zM199.9 549.4h1.1v1.1h-1.1zM201.0 540.8h1.1v1.1h-1.1zM198.0 547.7h1.1v1.1h-1.1zM190.7 520.1h1.1v1.1h-1.1zM200.3 531.2h1.1v1.1h-1.1zM196.2 541.4h1.1v1.1h-1.1zM200.9 526.6h1.1v1.1h-1.1zM195.1 550.6h1.1v1.1h-1.1zM188.2 532.0h1.1v1.1h-1.1zM189.4 542.1h1.1v1.1h-1.1zM197.2 531.6h1.1v1.1h-1.1zM180.4 513.8h1.1v1.1h-1.1zM201.3 544.8h1.1v1.1h-1.1zM202.7 541.3h1.1v1.1h-1.1zM201.4 540.9h1.1v1.1h-1.1zM191.5 542.6h1.1v1.1h-1.1zM176.6 518.3h1.1v1.1h-1.1zM176.6 544.3h1.1v1.1h-1.1zM189.6 537.9h1.1v1.1h-1.1zM193.6 524.8h1.1v1.1h-1.1zM179.9 514.2h1.1v1.1h-1.1zM192.0 522.5h1.1v1.1h-1.1zM186.1 519.4h1.1v1.1h-1.1zM184.4 541.0h1.1v1.1h-1.1zM200.1 539.7h1.1v1.1h-1.1zM188.4 535.8h1.1v1.1h-1.1zM180.9 544.6h1.1v1.1h-1.1zM188.2 521.5h1.1v1.1h-1.1zM178.5 534.9h1.1v1.1h-1.1zM197.2 532.1h1.1v1.1h-1.1zM196.2 549.6h1.1v1.1h-1.1zM189.3 550.7h1.1v1.1h-1.1zM190.8 515.7h1.1v1.1h-1.1zM185.8 545.5h1.1v1.1h-1.1zM186.1 530.4h1.1v1.1h-1.1zM200.6 524.4h1.1v1.1h-1.1zM188.6 537.4h1.1v1.1h-1.1zM178.7 546.2h1.1v1.1h-1.1zM195.9 524.9h1.1v1.1h-1.1zM189.6 528.0h1.1v1.1h-1.1zM191.1 541.6h1.1v1.1h-1.1zM179.0 537.6h1.1v1.1h-1.1zM201.7 529.6h1.1v1.1h-1.1zM188.7 522.1h1.1v1.1h-1.1zM181.7 519.0h1.1v1.1h-1.1zM182.8 522.1h1.1v1.1h-1.1zM190.5 539.6h1.1v1.1h-1.1zM195.5 535.0h1.1v1.1h-1.1zM191.2 529.8h1.1v1.1h-1.1zM200.6 542.4h1.1v1.1h-1.1zM190.0 520.0h1.1v1.1h-1.1zM185.7 539.6h1.1v1.1h-1.1zM203.2 546.0h1.1v1.1h-1.1zM197.9 532.5h1.1v1.1h-1.1zM190.9 526.0h1.1v1.1h-1.1zM201.7 524.8h1.1v1.1h-1.1zM201.9 546.0h1.1v1.1h-1.1zM185.2 551.6h1.1v1.1h-1.1zM188.1 528.8h1.1v1.1h-1.1zM177.6 527.5h1.1v1.1h-1.1zM183.0 537.8h1.1v1.1h-1.1zM201.5 533.6h1.1v1.1h-1.1zM179.2 520.7h1.1v1.1h-1.1zM185.4 539.0h1.1v1.1h-1.1zM188.1 531.9h1.1v1.1h-1.1zM184.4 525.1h1.1v1.1h-1.1zM192.6 518.8h1.1v1.1h-1.1zM199.1 545.0h1.1v1.1h-1.1zM187.9 542.4h1.1v1.1h-1.1zM189.8 539.8h1.1v1.1h-1.1zM186.5 546.7h1.1v1.1h-1.1zM196.1 544.7h1.1v1.1h-1.1zM201.5 525.1h1.1v1.1h-1.1zM185.7 542.5h1.1v1.1h-1.1zM177.6 546.5h1.1v1.1h-1.1zM177.3 531.1h1.1v1.1h-1.1zM183.9 541.5h1.1v1.1h-1.1zM188.4 536.2h1.1v1.1h-1.1zM191.8 549.0h1.1v1.1h-1.1zM186.1 524.6h1.1v1.1h-1.1zM191.0 526.2h1.1v1.1h-1.1zM187.0 546.7h1.1v1.1h-1.1zM199.1 520.9h1.1v1.1h-1.1zM188.8 548.2h1.1v1.1h-1.1zM195.3 525.3h1.1v1.1h-1.1zM180.6 544.8h1.1v1.1h-1.1zM200.7 532.8h1.1v1.1h-1.1zM195.6 529.9h1.1v1.1h-1.1zM189.4 531.7h1.1v1.1h-1.1zM201.1 523.6h1.1v1.1h-1.1zM182.7 540.3h1.1v1.1h-1.1zM185.3 524.6h1.1v1.1h-1.1zM199.0 532.5h1.1v1.1h-1.1zM202.4 541.2h1.1v1.1h-1.1zM191.0 528.7h1.1v1.1h-1.1zM197.9 547.7h1.1v1.1h-1.1zM192.5 551.7h1.1v1.1h-1.1zM184.1 547.5h1.1v1.1h-1.1zM186.6 519.6h1.1v1.1h-1.1zM199.6 534.7h1.1v1.1h-1.1zM180.2 547.2h1.1v1.1h-1.1zM182.6 521.0h1.1v1.1h-1.1zM177.3 513.6h1.1v1.1h-1.1zM176.7 518.6h1.1v1.1h-1.1zM189.9 532.7h1.1v1.1h-1.1zM193.9 545.3h1.1v1.1h-1.1zM202.4 527.8h1.1v1.1h-1.1zM201.6 540.5h1.1v1.1h-1.1zM194.4 547.7h1.1v1.1h-1.1zM199.8 533.0h1.1v1.1h-1.1zM187.2 530.1h1.1v1.1h-1.1zM196.4 542.2h1.1v1.1h-1.1zM186.5 517.5h1.1v1.1h-1.1zM187.9 537.3h1.1v1.1h-1.1zM192.1 531.2h1.1v1.1h-1.1zM192.6 543.1h1.1v1.1h-1.1zM179.1 543.4h1.1v1.1h-1.1zM178.7 519.7h1.1v1.1h-1.1zM198.5 532.5h1.1v1.1h-1.1zM176.6 516.2h1.1v1.1h-1.1zM189.4 531.6h1.1v1.1h-1.1zM181.6 518.9h1.1v1.1h-1.1zM180.8 539.6h1.1v1.1h-1.1zM188.1 526.9h1.1v1.1h-1.1zM179.2 527.0h1.1v1.1h-1.1zM178.6 531.6h1.1v1.1h-1.1zM194.7 540.8h1.1v1.1h-1.1zM199.2 534.7h1.1v1.1h-1.1zM201.0 545.9h1.1v1.1h-1.1zM198.7 529.1h1.1v1.1h-1.1zM178.3 537.8h1.1v1.1h-1.1zM183.1 517.5h1.1v1.1h-1.1zM188.5 535.1h1.1v1.1h-1.1zM192.1 527.8h1.1v1.1h-1.1zM192.5 531.1h1.1v1.1h-1.1zM199.7 528.7h1.1v1.1h-1.1zM187.9 518.5h1.1v1.1h-1.1zM199.2 538.0h1.1v1.1h-1.1zM178.5 540.5h1.1v1.1h-1.1zM188.1 522.9h1.1v1.1h-1.1zM186.0 551.7h1.1v1.1h-1.1zM184.9 521.0h1.1v1.1h-1.1zM180.2 535.4h1.1v1.1h-1.1zM180.5 538.6h1.1v1.1h-1.1zM198.2 538.4h1.1v1.1h-1.1zM193.3 521.2h1.1v1.1h-1.1zM201.8 544.3h1.1v1.1h-1.1zM177.2 524.5h1.1v1.1h-1.1zM180.4 544.4h1.1v1.1h-1.1zM198.4 528.2h1.1v1.1h-1.1zM189.3 531.2h1.1v1.1h-1.1zM200.6 536.6h1.1v1.1h-1.1zM201.2 541.4h1.1v1.1h-1.1zM197.9 527.6h1.1v1.1h-1.1zM202.3 534.5h1.1v1.1h-1.1zM197.1 527.1h1.1v1.1h-1.1zM182.1 520.9h1.1v1.1h-1.1zM190.9 549.9h1.1v1.1h-1.1zM194.2 546.5h1.1v1.1h-1.1zM178.8 526.3h1.1v1.1h-1.1zM182.6 518.4h1.1v1.1h-1.1zM199.3 537.2h1.1v1.1h-1.1zM179.7 545.5h1.1v1.1h-1.1zM176.6 516.7h1.1v1.1h-1.1zM185.7 540.6h1.1v1.1h-1.1zM176.9 545.0h1.1v1.1h-1.1zM190.3 549.1h1.1v1.1h-1.1zM195.7 520.4h1.1v1.1h-1.1zM187.8 516.0h1.1v1.1h-1.1zM195.0 537.6h1.1v1.1h-1.1zM190.5 537.6h1.1v1.1h-1.1zM193.0 523.7h1.1v1.1h-1.1zM181.9 540.8h1.1v1.1h-1.1zM198.9 526.1h1.1v1.1h-1.1zM200.3 540.2h1.1v1.1h-1.1zM190.9 536.6h1.1v1.1h-1.1zM202.8 540.3h1.1v1.1h-1.1zM189.7 516.0h1.1v1.1h-1.1zM184.5 547.0h1.1v1.1h-1.1zM179.9 523.5h1.1v1.1h-1.1zM198.7 534.8h1.1v1.1h-1.1zM194.5 529.8h1.1v1.1h-1.1zM186.4 535.2h1.1v1.1h-1.1zM190.6 542.1h1.1v1.1h-1.1zM185.9 547.5h1.1v1.1h-1.1zM179.5 538.6h1.1v1.1h-1.1zM185.6 516.8h1.1v1.1h-1.1zM178.4 525.6h1.1v1.1h-1.1zM197.7 538.5h1.1v1.1h-1.1zM187.1 546.5h1.1v1.1h-1.1zM190.6 537.1h1.1v1.1h-1.1zM195.7 519.9h1.1v1.1h-1.1zM199.1 529.5h1.1v1.1h-1.1zM182.4 517.4h1.1v1.1h-1.1zM179.8 515.3h1.1v1.1h-1.1zM192.5 544.5h1.1v1.1h-1.1zM184.3 519.1h1.1v1.1h-1.1zM183.2 519.0h1.1v1.1h-1.1zM186.9 550.3h1.1v1.1h-1.1zM196.0 528.1h1.1v1.1h-1.1zM203.0 531.5h1.1v1.1h-1.1zM190.0 515.3h1.1v1.1h-1.1zM186.2 523.9h1.1v1.1h-1.1zM197.1 537.7h1.1v1.1h-1.1zM201.9 540.7h1.1v1.1h-1.1zM176.8 548.3h1.1v1.1h-1.1zM182.2 545.2h1.1v1.1h-1.1zM177.9 524.5h1.1v1.1h-1.1zM200.7 539.8h1.1v1.1h-1.1zM184.9 536.9h1.1v1.1h-1.1zM194.0 541.6h1.1v1.1h-1.1zM189.8 516.9h1.1v1.1h-1.1zM191.6 535.6h1.1v1.1h-1.1zM187.2 542.0h1.1v1.1h-1.1zM191.1 530.6h1.1v1.1h-1.1zM180.2 515.7h1.1v1.1h-1.1zM185.4 545.7h1.1v1.1h-1.1zM177.4 534.8h1.1v1.1h-1.1zM186.4 535.9h1.1v1.1h-1.1zM186.6 532.9h1.1v1.1h-1.1zM194.4 547.3h1.1v1.1h-1.1zM192.1 522.4h1.1v1.1h-1.1zM200.1 524.0h1.1v1.1h-1.1zM190.8 516.1h1.1v1.1h-1.1zM186.5 550.2h1.1v1.1h-1.1zM187.1 527.4h1.1v1.1h-1.1zM192.6 551.6h1.1v1.1h-1.1zM194.5 538.6h1.1v1.1h-1.1zM181.8 545.7h1.1v1.1h-1.1zM184.7 547.7h1.1v1.1h-1.1zM187.4 540.6h1.1v1.1h-1.1zM193.9 536.8h1.1v1.1h-1.1zM177.3 527.7h1.1v1.1h-1.1zM188.2 524.2h1.1v1.1h-1.1zM187.4 515.3h1.1v1.1h-1.1zM196.9 539.0h1.1v1.1h-1.1zM187.2 528.5h1.1v1.1h-1.1zM199.9 544.0h1.1v1.1h-1.1zM184.5 541.1h1.1v1.1h-1.1zM193.6 539.1h1.1v1.1h-1.1zM181.2 514.9h1.1v1.1h-1.1zM193.5 531.0h1.1v1.1h-1.1zM194.5 518.8h1.1v1.1h-1.1zM200.0 548.1h1.1v1.1h-1.1zM181.4 550.8h1.1v1.1h-1.1zM181.4 538.6h1.1v1.1h-1.1zM198.1 532.7h1.1v1.1h-1.1zM176.9 540.4h1.1v1.1h-1.1zM185.1 517.5h1.1v1.1h-1.1zM185.5 540.6h1.1v1.1h-1.1zM180.9 538.3h1.1v1.1h-1.1zM179.7 522.5h1.1v1.1h-1.1zM195.0 538.7h1.1v1.1h-1.1zM186.2 550.6h1.1v1.1h-1.1zM192.7 535.4h1.1v1.1h-1.1zM186.5 519.5h1.1v1.1h-1.1zM190.2 543.7h1.1v1.1h-1.1zM200.0 537.1h1.1v1.1h-1.1zM193.5 519.2h1.1v1.1h-1.1zM179.2 550.0h1.1v1.1h-1.1zM197.2 519.7h1.1v1.1h-1.1zM196.7 519.4h1.1v1.1h-1.1zM188.0 515.1h1.1v1.1h-1.1zM188.7 540.5h1.1v1.1h-1.1zM177.7 543.1h1.1v1.1h-1.1zM182.6 538.0h1.1v1.1h-1.1zM177.9 519.9h1.1v1.1h-1.1zM197.1 536.3h1.1v1.1h-1.1zM195.4 549.5h1.1v1.1h-1.1zM186.7 522.5h1.1v1.1h-1.1zM183.3 541.0h1.1v1.1h-1.1zM190.0 547.9h1.1v1.1h-1.1zM180.8 513.9h1.1v1.1h-1.1zM177.5 551.2h1.1v1.1h-1.1zM194.5 534.3h1.1v1.1h-1.1zM183.5 544.0h1.1v1.1h-1.1zM188.5 545.6h1.1v1.1h-1.1zM194.7 542.6h1.1v1.1h-1.1zM188.1 541.4h1.1v1.1h-1.1zM197.3 544.3h1.1v1.1h-1.1zM178.3 549.1h1.1v1.1h-1.1zM188.8 515.3h1.1v1.1h-1.1zM195.9 549.0h1.1v1.1h-1.1zM179.5 525.6h1.1v1.1h-1.1zM184.9 545.2h1.1v1.1h-1.1zM194.0 545.0h1.1v1.1h-1.1zM194.0 537.5h1.1v1.1h-1.1zM194.7 546.5h1.1v1.1h-1.1zM185.1 542.0h1.1v1.1h-1.1zM191.2 520.6h1.1v1.1h-1.1zM182.4 547.8h1.1v1.1h-1.1zM182.5 544.4h1.1v1.1h-1.1zM181.1 542.9h1.1v1.1h-1.1zM176.7 523.6h1.1v1.1h-1.1zM199.1 549.6h1.1v1.1h-1.1zM184.9 522.4h1.1v1.1h-1.1zM197.9 538.0h1.1v1.1h-1.1zM186.7 539.0h1.1v1.1h-1.1zM186.7 541.5h1.1v1.1h-1.1zM188.6 546.8h1.1v1.1h-1.1zM188.2 517.3h1.1v1.1h-1.1zM198.2 521.4h1.1v1.1h-1.1zM177.0 544.6h1.1v1.1h-1.1zM178.9 543.8h1.1v1.1h-1.1zM192.9 537.4h1.1v1.1h-1.1zM197.8 520.4h1.1v1.1h-1.1zM180.6 549.6h1.1v1.1h-1.1zM181.9 539.2h1.1v1.1h-1.1zM195.3 533.0h1.1v1.1h-1.1zM187.8 530.2h1.1v1.1h-1.1zM183.0 519.1h1.1v1.1h-1.1zM187.1 535.0h1.1v1.1h-1.1zM183.0 548.6h1.1v1.1h-1.1zM188.6 518.0h1.1v1.1h-1.1zM179.2 540.9h1.1v1.1h-1.1zM181.9 520.8h1.1v1.1h-1.1zM189.3 539.1h1.1v1.1h-1.1zM199.4 548.1h1.1v1.1h-1.1zM199.9 534.7h1.1v1.1h-1.1zM193.0 543.6h1.1v1.1h-1.1zM185.3 523.3h1.1v1.1h-1.1zM177.2 526.7h1.1v1.1h-1.1zM192.8 548.1h1.1v1.1h-1.1zM187.2 542.2h1.1v1.1h-1.1zM186.5 536.9h1.1v1.1h-1.1zM191.5 546.3h1.1v1.1h-1.1zM188.1 514.4h1.1v1.1h-1.1zM176.5 517.1h1.1v1.1h-1.1zM191.9 530.4h1.1v1.1h-1.1zM190.4 551.6h1.1v1.1h-1.1zM181.4 542.0h1.1v1.1h-1.1zM187.1 525.2h1.1v1.1h-1.1zM202.9 545.4h1.1v1.1h-1.1zM185.2 524.4h1.1v1.1h-1.1zM185.2 543.0h1.1v1.1h-1.1zM200.6 526.7h1.1v1.1h-1.1zM193.6 532.3h1.1v1.1h-1.1zM194.0 531.8h1.1v1.1h-1.1zM192.8 517.3h1.1v1.1h-1.1zM187.0 544.0h1.1v1.1h-1.1zM179.1 536.2h1.1v1.1h-1.1zM188.7 526.5h1.1v1.1h-1.1zM187.4 548.5h1.1v1.1h-1.1zM194.2 543.3h1.1v1.1h-1.1zM189.2 519.1h1.1v1.1h-1.1zM177.7 538.1h1.1v1.1h-1.1zM180.2 514.5h1.1v1.1h-1.1zM190.8 549.6h1.1v1.1h-1.1zM202.6 527.7h1.1v1.1h-1.1zM180.1 546.1h1.1v1.1h-1.1zM184.8 536.7h1.1v1.1h-1.1zM194.4 520.8h1.1v1.1h-1.1zM188.8 546.0h1.1v1.1h-1.1zM192.8 527.5h1.1v1.1h-1.1zM200.8 531.0h1.1v1.1h-1.1zM202.7 544.0h1.1v1.1h-1.1zM196.6 518.9h1.1v1.1h-1.1zM189.3 520.2h1.1v1.1h-1.1zM188.9 518.3h1.1v1.1h-1.1zM196.5 536.8h1.1v1.1h-1.1zM192.7 524.8h1.1v1.1h-1.1zM181.2 545.1h1.1v1.1h-1.1zM199.9 538.1h1.1v1.1h-1.1zM186.9 543.2h1.1v1.1h-1.1zM187.5 519.4h1.1v1.1h-1.1zM189.1 537.1h1.1v1.1h-1.1zM180.3 538.7h1.1v1.1h-1.1zM192.0 541.7h1.1v1.1h-1.1zM185.5 537.8h1.1v1.1h-1.1zM180.0 548.0h1.1v1.1h-1.1zM187.3 527.7h1.1v1.1h-1.1zM177.5 516.2h1.1v1.1h-1.1zM176.4 524.7h1.1v1.1h-1.1zM187.7 548.0h1.1v1.1h-1.1zM190.1 531.8h1.1v1.1h-1.1zM183.5 516.1h1.1v1.1h-1.1zM195.0 536.8h1.1v1.1h-1.1zM177.0 525.3h1.1v1.1h-1.1zM181.1 516.8h1.1v1.1h-1.1zM186.8 548.0h1.1v1.1h-1.1zM188.8 536.3h1.1v1.1h-1.1zM192.1 530.7h1.1v1.1h-1.1zM191.2 536.4h1.1v1.1h-1.1zM188.1 541.9h1.1v1.1h-1.1zM201.2 525.0h1.1v1.1h-1.1zM184.6 550.8h1.1v1.1h-1.1zM176.8 540.4h1.1v1.1h-1.1zM191.2 548.3h1.1v1.1h-1.1zM181.8 518.3h1.1v1.1h-1.1zM186.6 547.1h1.1v1.1h-1.1zM187.4 551.4h1.1v1.1h-1.1zM197.6 550.4h1.1v1.1h-1.1zM191.5 522.6h1.1v1.1h-1.1zM201.9 527.6h1.1v1.1h-1.1zM188.3 550.3h1.1v1.1h-1.1zM191.9 521.0h1.1v1.1h-1.1zM186.8 549.0h1.1v1.1h-1.1zM202.4 547.1h1.1v1.1h-1.1zM179.4 526.1h1.1v1.1h-1.1zM198.5 543.4h1.1v1.1h-1.1zM202.7 546.1h1.1v1.1h-1.1zM193.1 541.2h1.1v1.1h-1.1zM201.3 538.6h1.1v1.1h-1.1zM186.1 521.5h1.1v1.1h-1.1zM190.7 524.0h1.1v1.1h-1.1zM183.4 538.3h1.1v1.1h-1.1zM188.3 519.9h1.1v1.1h-1.1zM197.2 528.7h1.1v1.1h-1.1zM191.5 539.5h1.1v1.1h-1.1zM200.2 540.8h1.1v1.1h-1.1zM188.8 534.4h1.1v1.1h-1.1zM185.7 538.5h1.1v1.1h-1.1zM195.1 521.2h1.1v1.1h-1.1zM199.6 529.0h1.1v1.1h-1.1zM199.1 545.6h1.1v1.1h-1.1zM194.1 543.9h1.1v1.1h-1.1zM177.0 521.0h1.1v1.1h-1.1zM191.7 549.6h1.1v1.1h-1.1zM199.5 543.8h1.1v1.1h-1.1zM186.3 514.1h1.1v1.1h-1.1zM185.1 541.2h1.1v1.1h-1.1zM196.2 543.9h1.1v1.1h-1.1zM188.2 530.1h1.1v1.1h-1.1zM192.1 527.2h1.1v1.1h-1.1zM194.1 527.9h1.1v1.1h-1.1zM188.7 540.2h1.1v1.1h-1.1zM202.0 527.3h1.1v1.1h-1.1zM195.8 525.7h1.1v1.1h-1.1zM197.7 548.4h1.1v1.1h-1.1zM191.1 548.9h1.1v1.1h-1.1zM189.5 538.4h1.1v1.1h-1.1zM177.4 546.9h1.1v1.1h-1.1zM202.5 547.6h1.1v1.1h-1.1zM188.5 538.2h1.1v1.1h-1.1zM190.8 533.0h1.1v1.1h-1.1zM190.5 545.4h1.1v1.1h-1.1zM188.1 537.4h1.1v1.1h-1.1zM178.3 537.7h1.1v1.1h-1.1zM187.2 551.7h1.1v1.1h-1.1zM194.4 539.3h1.1v1.1h-1.1zM186.2 539.9h1.1v1.1h-1.1zM185.0 517.1h1.1v1.1h-1.1zM177.1 542.3h1.1v1.1h-1.1zM195.0 541.8h1.1v1.1h-1.1zM191.8 533.1h1.1v1.1h-1.1zM192.4 536.1h1.1v1.1h-1.1zM198.3 528.8h1.1v1.1h-1.1zM180.5 538.1h1.1v1.1h-1.1zM196.9 523.3h1.1v1.1h-1.1zM182.9 514.0h1.1v1.1h-1.1zM191.3 539.0h1.1v1.1h-1.1zM188.5 522.3h1.1v1.1h-1.1zM178.0 536.9h1.1v1.1h-1.1zM194.3 521.8h1.1v1.1h-1.1zM191.6 532.8h1.1v1.1h-1.1zM193.9 534.1h1.1v1.1h-1.1zM193.9 521.9h1.1v1.1h-1.1zM197.6 527.6h1.1v1.1h-1.1zM193.5 540.5h1.1v1.1h-1.1zM198.4 528.7h1.1v1.1h-1.1zM181.1 543.6h1.1v1.1h-1.1zM203.3 541.8h1.1v1.1h-1.1zM201.5 527.7h1.1v1.1h-1.1zM178.1 532.0h1.1v1.1h-1.1zM187.6 543.3h1.1v1.1h-1.1zM178.1 523.3h1.1v1.1h-1.1zM176.8 546.5h1.1v1.1h-1.1zM201.0 523.6h1.1v1.1h-1.1zM194.1 529.6h1.1v1.1h-1.1zM196.1 524.6h1.1v1.1h-1.1zM193.7 544.0h1.1v1.1h-1.1zM194.4 538.3h1.1v1.1h-1.1zM192.5 534.0h1.1v1.1h-1.1zM187.7 522.6h1.1v1.1h-1.1zM177.4 544.9h1.1v1.1h-1.1zM183.3 523.4h1.1v1.1h-1.1zM193.1 521.5h1.1v1.1h-1.1zM198.9 531.1h1.1v1.1h-1.1zM198.2 529.6h1.1v1.1h-1.1zM190.2 541.6h1.1v1.1h-1.1zM177.3 544.2h1.1v1.1h-1.1zM178.8 527.3h1.1v1.1h-1.1zM200.5 542.6h1.1v1.1h-1.1zM189.0 524.6h1.1v1.1h-1.1zM189.9 526.4h1.1v1.1h-1.1zM186.3 547.2h1.1v1.1h-1.1zM196.6 536.4h1.1v1.1h-1.1zM192.2 533.0h1.1v1.1h-1.1zM190.2 527.8h1.1v1.1h-1.1zM189.0 516.7h1.1v1.1h-1.1zM182.4 538.2h1.1v1.1h-1.1zM180.1 515.8h1.1v1.1h-1.1zM199.8 547.2h1.1v1.1h-1.1zM178.6 524.7h1.1v1.1h-1.1zM182.9 546.7h1.1v1.1h-1.1zM186.4 533.5h1.1v1.1h-1.1zM176.6 548.5h1.1v1.1h-1.1zM198.3 547.4h1.1v1.1h-1.1zM188.7 527.5h1.1v1.1h-1.1zM185.6 545.0h1.1v1.1h-1.1zM191.6 522.9h1.1v1.1h-1.1zM189.3 539.5h1.1v1.1h-1.1zM189.0 520.2h1.1v1.1h-1.1zM193.7 521.3h1.1v1.1h-1.1zM195.7 526.6h1.1v1.1h-1.1zM179.5 527.0h1.1v1.1h-1.1zM176.7 547.2h1.1v1.1h-1.1zM184.7 549.8h1.1v1.1h-1.1zM200.9 529.1h1.1v1.1h-1.1zM176.7 525.4h1.1v1.1h-1.1zM196.8 518.8h1.1v1.1h-1.1zM177.3 545.6h1.1v1.1h-1.1zM179.5 516.4h1.1v1.1h-1.1zM194.9 530.2h1.1v1.1h-1.1zM189.5 524.1h1.1v1.1h-1.1zM177.3 530.7h1.1v1.1h-1.1zM195.6 521.1h1.1v1.1h-1.1zM193.9 530.7h1.1v1.1h-1.1zM198.6 527.8h1.1v1.1h-1.1zM186.3 521.2h1.1v1.1h-1.1zM183.6 524.2h1.1v1.1h-1.1zM184.2 516.2h1.1v1.1h-1.1zM200.0 525.7h1.1v1.1h-1.1zM196.4 524.8h1.1v1.1h-1.1zM177.9 538.8h1.1v1.1h-1.1zM199.1 529.4h1.1v1.1h-1.1zM184.1 522.6h1.1v1.1h-1.1zM178.5 526.8h1.1v1.1h-1.1zM178.6 551.0h1.1v1.1h-1.1zM176.6 547.8h1.1v1.1h-1.1zM181.3 536.3h1.1v1.1h-1.1zM184.6 545.4h1.1v1.1h-1.1zM178.3 535.5h1.1v1.1h-1.1zM195.7 520.7h1.1v1.1h-1.1zM193.1 540.7h1.1v1.1h-1.1zM177.8 543.1h1.1v1.1h-1.1zM187.0 528.8h1.1v1.1h-1.1zM190.4 544.5h1.1v1.1h-1.1zM198.5 537.2h1.1v1.1h-1.1zM190.0 536.2h1.1v1.1h-1.1zM192.4 523.6h1.1v1.1h-1.1zM199.7 528.9h1.1v1.1h-1.1zM196.7 537.6h1.1v1.1h-1.1zM182.6 551.9h1.1v1.1h-1.1zM177.3 536.5h1.1v1.1h-1.1zM179.0 521.4h1.1v1.1h-1.1zM194.7 539.1h1.1v1.1h-1.1zM191.1 526.5h1.1v1.1h-1.1zM188.3 526.1h1.1v1.1h-1.1zM200.5 526.6h1.1v1.1h-1.1zM179.1 526.5h1.1v1.1h-1.1zM185.9 529.1h1.1v1.1h-1.1zM182.1 540.3h1.1v1.1h-1.1zM189.8 515.5h1.1v1.1h-1.1zM180.9 538.9h1.1v1.1h-1.1zM188.5 547.0h1.1v1.1h-1.1zM188.2 542.7h1.1v1.1h-1.1zM190.8 525.5h1.1v1.1h-1.1zM177.8 517.3h1.1v1.1h-1.1zM185.5 525.5h1.1v1.1h-1.1zM197.2 530.2h1.1v1.1h-1.1zM199.0 549.2h1.1v1.1h-1.1zM192.6 525.8h1.1v1.1h-1.1zM200.9 523.0h1.1v1.1h-1.1zM180.9 546.2h1.1v1.1h-1.1zM199.5 549.6h1.1v1.1h-1.1zM200.0 527.3h1.1v1.1h-1.1zM179.9 518.7h1.1v1.1h-1.1zM194.1 537.2h1.1v1.1h-1.1zM192.5 550.3h1.1v1.1h-1.1zM197.1 526.8h1.1v1.1h-1.1zM179.3 528.2h1.1v1.1h-1.1zM187.9 539.0h1.1v1.1h-1.1zM185.7 521.3h1.1v1.1h-1.1zM188.4 536.7h1.1v1.1h-1.1zM194.2 533.9h1.1v1.1h-1.1zM188.6 545.8h1.1v1.1h-1.1zM179.6 519.4h1.1v1.1h-1.1zM189.4 515.5h1.1v1.1h-1.1zM183.7 537.3h1.1v1.1h-1.1zM182.7 539.4h1.1v1.1h-1.1zM196.6 543.1h1.1v1.1h-1.1zM195.0 526.8h1.1v1.1h-1.1zM176.9 520.7h1.1v1.1h-1.1zM188.2 516.4h1.1v1.1h-1.1zM188.1 521.3h1.1v1.1h-1.1zM190.1 520.9h1.1v1.1h-1.1zM176.4 532.8h1.1v1.1h-1.1zM185.3 523.1h1.1v1.1h-1.1zM178.6 522.9h1.1v1.1h-1.1zM193.5 549.2h1.1v1.1h-1.1zM182.0 516.3h1.1v1.1h-1.1zM196.6 540.3h1.1v1.1h-1.1zM181.9 517.0h1.1v1.1h-1.1zM201.5 544.8h1.1v1.1h-1.1zM180.4 514.2h1.1v1.1h-1.1zM195.4 547.2h1.1v1.1h-1.1zM198.9 531.3h1.1v1.1h-1.1zM203.8 543.3h1.1v1.1h-1.1zM179.7 544.5h1.1v1.1h-1.1zM200.6 543.7h1.1v1.1h-1.1zM193.9 517.5h1.1v1.1h-1.1zM179.9 535.7h1.1v1.1h-1.1zM189.4 530.1h1.1v1.1h-1.1zM200.8 538.1h1.1v1.1h-1.1zM199.4 544.6h1.1v1.1h-1.1zM184.0 522.1h1.1v1.1h-1.1zM177.7 530.9h1.1v1.1h-1.1zM182.2 540.0h1.1v1.1h-1.1zM199.2 548.3h1.1v1.1h-1.1zM188.5 542.7h1.1v1.1h-1.1zM190.3 548.1h1.1v1.1h-1.1zM194.4 524.6h1.1v1.1h-1.1zM197.7 531.3h1.1v1.1h-1.1zM185.3 543.1h1.1v1.1h-1.1zM183.1 548.8h1.1v1.1h-1.1zM184.4 515.6h1.1v1.1h-1.1zM187.1 514.7h1.1v1.1h-1.1zM181.1 516.6h1.1v1.1h-1.1zM198.8 545.8h1.1v1.1h-1.1zM190.1 525.3h1.1v1.1h-1.1zM191.6 515.7h1.1v1.1h-1.1zM199.7 531.5h1.1v1.1h-1.1zM179.4 520.2h1.1v1.1h-1.1zM193.3 534.9h1.1v1.1h-1.1zM190.5 515.6h1.1v1.1h-1.1zM178.9 550.4h1.1v1.1h-1.1zM200.4 525.2h1.1v1.1h-1.1zM186.6 523.1h1.1v1.1h-1.1zM194.8 545.4h1.1v1.1h-1.1zM185.3 550.8h1.1v1.1h-1.1zM185.6 548.3h1.1v1.1h-1.1zM177.3 531.1h1.1v1.1h-1.1zM193.8 551.9h1.1v1.1h-1.1zM197.9 546.3h1.1v1.1h-1.1zM185.9 538.9h1.1v1.1h-1.1zM179.8 539.6h1.1v1.1h-1.1zM195.4 522.1h1.1v1.1h-1.1zM191.2 534.0h1.1v1.1h-1.1zM200.3 526.6h1.1v1.1h-1.1zM188.8 524.1h1.1v1.1h-1.1zM198.7 533.0h1.1v1.1h-1.1zM178.8 528.6h1.1v1.1h-1.1zM177.9 536.4h1.1v1.1h-1.1zM181.7 522.0h1.1v1.1h-1.1zM194.6 540.7h1.1v1.1h-1.1zM183.8 522.7h1.1v1.1h-1.1zM190.1 549.6h1.1v1.1h-1.1zM178.6 535.5h1.1v1.1h-1.1zM182.4 546.3h1.1v1.1h-1.1zM178.3 549.6h1.1v1.1h-1.1zM197.5 537.0h1.1v1.1h-1.1zM179.1 534.3h1.1v1.1h-1.1zM196.5 536.3h1.1v1.1h-1.1zM199.6 526.0h1.1v1.1h-1.1zM179.8 545.3h1.1v1.1h-1.1zM200.2 543.3h1.1v1.1h-1.1zM190.1 541.7h1.1v1.1h-1.1zM193.9 545.5h1.1v1.1h-1.1zM191.3 526.2h1.1v1.1h-1.1zM186.5 544.0h1.1v1.1h-1.1zM200.0 530.2h1.1v1.1h-1.1zM194.1 547.4h1.1v1.1h-1.1zM189.5 519.1h1.1v1.1h-1.1zM197.5 527.1h1.1v1.1h-1.1zM196.8 548.2h1.1v1.1h-1.1zM188.6 525.1h1.1v1.1h-1.1zM192.1 535.4h1.1v1.1h-1.1zM185.0 543.4h1.1v1.1h-1.1zM184.9 526.3h1.1v1.1h-1.1zM200.8 529.8h1.1v1.1h-1.1zM188.7 550.0h1.1v1.1h-1.1zM187.8 541.1h1.1v1.1h-1.1zM188.0 525.0h1.1v1.1h-1.1zM186.6 548.8h1.1v1.1h-1.1zM178.4 545.8h1.1v1.1h-1.1zM187.0 535.1h1.1v1.1h-1.1zM180.1 538.5h1.1v1.1h-1.1zM198.8 533.6h1.1v1.1h-1.1zM202.4 543.9h1.1v1.1h-1.1zM187.8 543.7h1.1v1.1h-1.1zM191.8 525.6h1.1v1.1h-1.1zM201.5 541.4h1.1v1.1h-1.1zM188.8 547.1h1.1v1.1h-1.1zM199.2 540.3h1.1v1.1h-1.1zM193.5 545.4h1.1v1.1h-1.1zM191.9 549.9h1.1v1.1h-1.1zM199.7 521.8h1.1v1.1h-1.1zM190.9 529.8h1.1v1.1h-1.1zM195.5 524.9h1.1v1.1h-1.1zM177.5 514.2h1.1v1.1h-1.1zM183.8 547.0h1.1v1.1h-1.1zM178.9 515.3h1.1v1.1h-1.1zM189.2 537.1h1.1v1.1h-1.1zM177.7 526.7h1.1v1.1h-1.1zM200.2 529.6h1.1v1.1h-1.1zM199.7 529.6h1.1v1.1h-1.1zM186.4 515.7h1.1v1.1h-1.1zM176.8 529.7h1.1v1.1h-1.1zM201.0 540.4h1.1v1.1h-1.1zM190.7 531.3h1.1v1.1h-1.1zM195.5 518.8h1.1v1.1h-1.1zM188.3 528.2h1.1v1.1h-1.1zM182.3 518.4h1.1v1.1h-1.1zM179.2 530.1h1.1v1.1h-1.1zM198.5 542.2h1.1v1.1h-1.1zM192.8 519.1h1.1v1.1h-1.1zM190.8 516.6h1.1v1.1h-1.1zM195.8 550.7h1.1v1.1h-1.1zM178.6 515.5h1.1v1.1h-1.1zM200.4 525.0h1.1v1.1h-1.1zM194.2 543.2h1.1v1.1h-1.1zM188.4 529.1h1.1v1.1h-1.1zM196.1 521.1h1.1v1.1h-1.1zM192.7 519.2h1.1v1.1h-1.1zM176.7 528.8h1.1v1.1h-1.1zM189.2 520.4h1.1v1.1h-1.1zM187.3 542.8h1.1v1.1h-1.1zM188.2 526.9h1.1v1.1h-1.1zM201.0 526.9h1.1v1.1h-1.1zM200.7 525.3h1.1v1.1h-1.1zM178.5 524.0h1.1v1.1h-1.1zM193.1 529.5h1.1v1.1h-1.1zM196.7 544.3h1.1v1.1h-1.1zM177.4 548.6h1.1v1.1h-1.1zM197.4 538.1h1.1v1.1h-1.1zM190.3 515.1h1.1v1.1h-1.1zM179.7 518.7h1.1v1.1h-1.1zM201.1 540.1h1.1v1.1h-1.1zM189.8 525.9h1.1v1.1h-1.1zM182.3 545.0h1.1v1.1h-1.1zM201.7 532.3h1.1v1.1h-1.1zM182.4 538.0h1.1v1.1h-1.1zM199.6 542.7h1.1v1.1h-1.1zM194.5 535.9h1.1v1.1h-1.1zM199.2 525.0h1.1v1.1h-1.1zM187.4 515.7h1.1v1.1h-1.1zM201.0 541.8h1.1v1.1h-1.1zM186.7 514.2h1.1v1.1h-1.1zM178.1 519.1h1.1v1.1h-1.1zM189.2 539.4h1.1v1.1h-1.1zM179.3 534.4h1.1v1.1h-1.1zM186.0 538.7h1.1v1.1h-1.1zM179.0 517.4h1.1v1.1h-1.1zM186.6 535.2h1.1v1.1h-1.1zM193.5 548.8h1.1v1.1h-1.1zM177.4 549.9h1.1v1.1h-1.1zM189.5 522.2h1.1v1.1h-1.1zM180.0 541.7h1.1v1.1h-1.1zM190.1 548.0h1.1v1.1h-1.1zM182.3 516.1h1.1v1.1h-1.1zM193.1 549.5h1.1v1.1h-1.1zM192.3 535.2h1.1v1.1h-1.1zM178.5 527.4h1.1v1.1h-1.1zM191.4 536.5h1.1v1.1h-1.1zM195.6 526.5h1.1v1.1h-1.1zM197.6 526.0h1.1v1.1h-1.1zM200.4 541.3h1.1v1.1h-1.1zM194.1 525.5h1.1v1.1h-1.1zM182.3 548.1h1.1v1.1h-1.1zM179.3 524.4h1.1v1.1h-1.1zM176.4 525.3h1.1v1.1h-1.1zM182.4 547.3h1.1v1.1h-1.1zM201.4 544.6h1.1v1.1h-1.1zM183.9 518.4h1.1v1.1h-1.1zM198.6 548.4h1.1v1.1h-1.1zM178.2 529.2h1.1v1.1h-1.1zM194.9 538.1h1.1v1.1h-1.1zM195.9 544.6h1.1v1.1h-1.1zM178.6 540.6h1.1v1.1h-1.1zM181.0 541.4h1.1v1.1h-1.1zM187.6 533.9h1.1v1.1h-1.1zM184.3 546.8h1.1v1.1h-1.1zM187.6 547.9h1.1v1.1h-1.1zM194.9 517.3h1.1v1.1h-1.1zM179.0 516.1h1.1v1.1h-1.1zM189.3 546.3h1.1v1.1h-1.1zM198.6 524.5h1.1v1.1h-1.1zM178.8 523.0h1.1v1.1h-1.1zM181.7 546.6h1.1v1.1h-1.1zM192.4 530.9h1.1v1.1h-1.1zM181.0 517.2h1.1v1.1h-1.1zM179.8 524.0h1.1v1.1h-1.1zM195.0 544.5h1.1v1.1h-1.1zM189.8 541.6h1.1v1.1h-1.1zM199.0 541.5h1.1v1.1h-1.1zM188.2 542.2h1.1v1.1h-1.1zM179.5 550.4h1.1v1.1h-1.1zM181.8 540.4h1.1v1.1h-1.1zM201.1 543.9h1.1v1.1h-1.1zM202.2 538.1h1.1v1.1h-1.1zM191.9 523.0h1.1v1.1h-1.1zM184.8 547.3h1.1v1.1h-1.1zM197.2 550.2h1.1v1.1h-1.1zM189.9 541.8h1.1v1.1h-1.1zM188.3 538.3h1.1v1.1h-1.1zM194.4 517.5h1.1v1.1h-1.1zM195.6 529.6h1.1v1.1h-1.1zM198.8 539.4h1.1v1.1h-1.1zM182.6 548.4h1.1v1.1h-1.1zM179.5 518.4h1.1v1.1h-1.1zM184.3 546.7h1.1v1.1h-1.1zM197.0 535.9h1.1v1.1h-1.1zM199.8 539.9h1.1v1.1h-1.1zM188.3 546.5h1.1v1.1h-1.1zM180.0 548.1h1.1v1.1h-1.1zM183.8 537.4h1.1v1.1h-1.1zM201.8 538.5h1.1v1.1h-1.1zM178.2 514.2h1.1v1.1h-1.1zM196.2 519.1h1.1v1.1h-1.1zM182.0 517.1h1.1v1.1h-1.1zM204.0 543.1h1.1v1.1h-1.1zM181.4 537.2h1.1v1.1h-1.1zM195.2 533.7h1.1v1.1h-1.1zM178.7 537.6h1.1v1.1h-1.1zM186.1 514.2h1.1v1.1h-1.1zM184.0 515.6h1.1v1.1h-1.1zM181.3 520.5h1.1v1.1h-1.1zM187.1 543.8h1.1v1.1h-1.1zM179.5 533.3h1.1v1.1h-1.1zM199.8 528.7h1.1v1.1h-1.1zM178.8 540.5h1.1v1.1h-1.1zM181.3 543.8h1.1v1.1h-1.1zM192.7 521.4h1.1v1.1h-1.1zM188.5 517.6h1.1v1.1h-1.1zM179.3 551.1h1.1v1.1h-1.1zM199.0 538.9h1.1v1.1h-1.1zM199.5 535.5h1.1v1.1h-1.1zM185.0 544.7h1.1v1.1h-1.1zM177.7 526.6h1.1v1.1h-1.1zM191.6 546.0h1.1v1.1h-1.1zM201.8 543.1h1.1v1.1h-1.1zM184.4 517.4h1.1v1.1h-1.1zM188.5 550.4h1.1v1.1h-1.1zM186.2 542.0h1.1v1.1h-1.1zM180.2 517.8h1.1v1.1h-1.1zM201.7 524.1h1.1v1.1h-1.1zM185.9 546.3h1.1v1.1h-1.1zM179.2 548.1h1.1v1.1h-1.1zM196.3 523.3h1.1v1.1h-1.1zM201.6 540.1h1.1v1.1h-1.1zM199.0 534.8h1.1v1.1h-1.1zM183.3 543.8h1.1v1.1h-1.1zM188.5 517.0h1.1v1.1h-1.1zM202.6 539.9h1.1v1.1h-1.1zM193.2 545.3h1.1v1.1h-1.1zM188.9 522.7h1.1v1.1h-1.1zM181.0 539.1h1.1v1.1h-1.1zM198.3 541.9h1.1v1.1h-1.1zM199.1 526.8h1.1v1.1h-1.1zM192.3 536.4h1.1v1.1h-1.1zM179.2 542.3h1.1v1.1h-1.1zM178.8 549.4h1.1v1.1h-1.1zM181.0 515.1h1.1v1.1h-1.1zM183.6 521.0h1.1v1.1h-1.1zM197.3 543.9h1.1v1.1h-1.1zM184.1 518.2h1.1v1.1h-1.1zM193.8 545.9h1.1v1.1h-1.1zM198.1 542.9h1.1v1.1h-1.1zM195.3 520.5h1.1v1.1h-1.1zM184.0 539.3h1.1v1.1h-1.1zM195.7 520.1h1.1v1.1h-1.1zM187.8 540.6h1.1v1.1h-1.1zM196.9 545.2h1.1v1.1h-1.1zM201.6 540.4h1.1v1.1h-1.1zM188.3 544.7h1.1v1.1h-1.1zM202.4 535.0h1.1v1.1h-1.1zM196.0 542.1h1.1v1.1h-1.1zM185.4 539.7h1.1v1.1h-1.1zM202.1 528.6h1.1v1.1h-1.1zM197.8 538.5h1.1v1.1h-1.1zM188.8 519.5h1.1v1.1h-1.1zM184.3 536.5h1.1v1.1h-1.1zM188.4 540.6h1.1v1.1h-1.1zM177.6 521.2h1.1v1.1h-1.1zM178.2 541.3h1.1v1.1h-1.1zM187.6 522.9h1.1v1.1h-1.1zM186.2 528.3h1.1v1.1h-1.1zM195.3 532.8h1.1v1.1h-1.1zM191.3 518.3h1.1v1.1h-1.1zM203.6 544.6h1.1v1.1h-1.1zM186.2 551.6h1.1v1.1h-1.1zM176.8 525.6h1.1v1.1h-1.1zM188.8 534.7h1.1v1.1h-1.1zM179.1 536.1h1.1v1.1h-1.1zM194.9 535.0h1.1v1.1h-1.1zM178.8 518.5h1.1v1.1h-1.1zM178.0 516.7h1.1v1.1h-1.1zM190.8 528.9h1.1v1.1h-1.1zM184.8 547.3h1.1v1.1h-1.1zM202.1 525.7h1.1v1.1h-1.1zM178.5 527.2h1.1v1.1h-1.1zM187.3 549.3h1.1v1.1h-1.1zM193.0 547.5h1.1v1.1h-1.1zM177.7 545.4h1.1v1.1h-1.1zM201.0 533.5h1.1v1.1h-1.1zM178.0 531.6h1.1v1.1h-1.1zM195.3 520.1h1.1v1.1h-1.1zM191.4 540.1h1.1v1.1h-1.1zM189.5 532.0h1.1v1.1h-1.1zM193.6 519.0h1.1v1.1h-1.1zM202.7 538.7h1.1v1.1h-1.1zM196.1 521.0h1.1v1.1h-1.1zM190.6 521.9h1.1v1.1h-1.1zM180.1 539.6h1.1v1.1h-1.1zM199.4 523.4h1.1v1.1h-1.1zM193.3 519.1h1.1v1.1h-1.1zM194.2 524.6h1.1v1.1h-1.1zM184.2 538.7h1.1v1.1h-1.1zM194.8 548.4h1.1v1.1h-1.1zM185.4 547.7h1.1v1.1h-1.1zM200.8 535.4h1.1v1.1h-1.1zM201.1 545.4h1.1v1.1h-1.1zM186.1 540.2h1.1v1.1h-1.1zM176.5 523.5h1.1v1.1h-1.1zM192.0 534.2h1.1v1.1h-1.1zM199.2 542.3h1.1v1.1h-1.1zM183.8 523.2h1.1v1.1h-1.1zM187.2 523.6h1.1v1.1h-1.1zM187.2 521.6h1.1v1.1h-1.1zM190.7 523.1h1.1v1.1h-1.1zM200.9 525.0h1.1v1.1h-1.1zM198.3 535.3h1.1v1.1h-1.1zM176.6 528.9h1.1v1.1h-1.1zM181.3 547.7h1.1v1.1h-1.1zM183.7 519.4h1.1v1.1h-1.1zM176.4 542.5h1.1v1.1h-1.1zM192.9 517.6h1.1v1.1h-1.1zM180.7 540.9h1.1v1.1h-1.1zM189.5 533.2h1.1v1.1h-1.1zM177.6 516.9h1.1v1.1h-1.1zM190.9 542.4h1.1v1.1h-1.1zM193.8 529.0h1.1v1.1h-1.1zM197.8 533.9h1.1v1.1h-1.1zM186.4 530.3h1.1v1.1h-1.1zM179.3 514.5h1.1v1.1h-1.1zM189.0 542.0h1.1v1.1h-1.1zM201.6 532.6h1.1v1.1h-1.1zM193.2 529.1h1.1v1.1h-1.1zM183.4 523.1h1.1v1.1h-1.1zM190.3 537.5h1.1v1.1h-1.1zM185.7 542.9h1.1v1.1h-1.1zM187.7 538.1h1.1v1.1h-1.1zM177.3 521.6h1.1v1.1h-1.1zM176.7 543.7h1.1v1.1h-1.1zM189.1 523.5h1.1v1.1h-1.1zM198.5 527.1h1.1v1.1h-1.1zM190.3 531.9h1.1v1.1h-1.1zM189.1 549.9h1.1v1.1h-1.1zM184.1 546.9h1.1v1.1h-1.1zM183.1 539.1h1.1v1.1h-1.1zM196.9 527.8h1.1v1.1h-1.1zM179.0 547.7h1.1v1.1h-1.1zM194.9 528.6h1.1v1.1h-1.1zM198.2 548.3h1.1v1.1h-1.1zM194.0 543.1h1.1v1.1h-1.1zM180.1 513.6h1.1v1.1h-1.1zM202.1 542.2h1.1v1.1h-1.1zM180.8 548.9h1.1v1.1h-1.1zM195.7 530.7h1.1v1.1h-1.1zM200.9 547.7h1.1v1.1h-1.1zM178.6 515.8h1.1v1.1h-1.1zM180.9 515.3h1.1v1.1h-1.1zM193.0 542.9h1.1v1.1h-1.1zM198.6 538.7h1.1v1.1h-1.1zM179.7 516.2h1.1v1.1h-1.1zM200.7 542.2h1.1v1.1h-1.1zM193.9 540.4h1.1v1.1h-1.1zM191.7 549.6h1.1v1.1h-1.1zM182.1 517.2h1.1v1.1h-1.1zM199.0 525.3h1.1v1.1h-1.1zM196.7 533.8h1.1v1.1h-1.1zM188.0 528.7h1.1v1.1h-1.1zM191.9 545.7h1.1v1.1h-1.1zM198.6 538.2h1.1v1.1h-1.1zM185.6 549.6h1.1v1.1h-1.1zM198.9 540.2h1.1v1.1h-1.1zM192.8 527.3h1.1v1.1h-1.1zM196.4 522.5h1.1v1.1h-1.1zM192.8 528.2h1.1v1.1h-1.1zM200.0 522.9h1.1v1.1h-1.1zM186.5 551.9h1.1v1.1h-1.1zM180.5 550.9h1.1v1.1h-1.1zM182.2 542.1h1.1v1.1h-1.1zM201.9 531.6h1.1v1.1h-1.1zM194.3 538.2h1.1v1.1h-1.1zM195.7 525.0h1.1v1.1h-1.1zM199.1 528.4h1.1v1.1h-1.1zM195.3 540.2h1.1v1.1h-1.1zM178.6 540.3h1.1v1.1h-1.1zM178.8 524.8h1.1v1.1h-1.1zM183.3 551.8h1.1v1.1h-1.1zM181.4 514.8h1.1v1.1h-1.1zM193.6 517.5h1.1v1.1h-1.1zM190.5 525.9h1.1v1.1h-1.1zM196.3 526.9h1.1v1.1h-1.1zM185.7 542.1h1.1v1.1h-1.1zM182.0 536.5h1.1v1.1h-1.1zM200.9 544.9h1.1v1.1h-1.1zM177.7 541.2h1.1v1.1h-1.1zM193.4 522.6h1.1v1.1h-1.1zM179.2 542.6h1.1v1.1h-1.1zM194.1 543.1h1.1v1.1h-1.1zM198.4 524.7h1.1v1.1h-1.1zM179.3 549.1h1.1v1.1h-1.1zM202.4 527.0h1.1v1.1h-1.1zM190.9 542.3h1.1v1.1h-1.1zM189.2 519.8h1.1v1.1h-1.1zM178.9 528.0h1.1v1.1h-1.1zM176.5 514.5h1.1v1.1h-1.1zM181.2 518.4h1.1v1.1h-1.1zM190.7 515.3h1.1v1.1h-1.1zM200.6 526.6h1.1v1.1h-1.1zM192.4 545.6h1.1v1.1h-1.1zM196.7 543.1h1.1v1.1h-1.1zM193.7 537.7h1.1v1.1h-1.1zM199.9 534.0h1.1v1.1h-1.1zM182.4 516.4h1.1v1.1h-1.1zM179.8 539.8h1.1v1.1h-1.1zM195.7 542.6h1.1v1.1h-1.1zM176.9 519.6h1.1v1.1h-1.1zM187.2 530.0h1.1v1.1h-1.1zM181.7 551.8h1.1v1.1h-1.1zM202.5 534.7h1.1v1.1h-1.1zM202.6 547.8h1.1v1.1h-1.1zM196.7 542.7h1.1v1.1h-1.1zM200.1 532.9h1.1v1.1h-1.1zM188.4 532.0h1.1v1.1h-1.1zM196.9 539.7h1.1v1.1h-1.1zM187.0 527.3h1.1v1.1h-1.1zM188.4 520.0h1.1v1.1h-1.1zM182.3 538.2h1.1v1.1h-1.1zM195.7 551.4h1.1v1.1h-1.1zM195.5 532.6h1.1v1.1h-1.1zM203.2 545.5h1.1v1.1h-1.1zM195.5 539.1h1.1v1.1h-1.1zM180.4 551.5h1.1v1.1h-1.1zM197.7 536.7h1.1v1.1h-1.1zM195.1 544.0h1.1v1.1h-1.1zM186.1 521.8h1.1v1.1h-1.1zM185.0 549.0h1.1v1.1h-1.1zM202.1 531.6h1.1v1.1h-1.1zM197.0 524.2h1.1v1.1h-1.1zM189.8 523.5h1.1v1.1h-1.1zM178.5 529.9h1.1v1.1h-1.1zM199.8 549.5h1.1v1.1h-1.1zM194.0 532.6h1.1v1.1h-1.1zM199.2 532.7h1.1v1.1h-1.1zM193.5 543.9h1.1v1.1h-1.1zM191.4 541.1h1.1v1.1h-1.1zM186.7 539.2h1.1v1.1h-1.1zM201.7 528.1h1.1v1.1h-1.1zM177.6 536.4h1.1v1.1h-1.1zM190.4 551.8h1.1v1.1h-1.1zM199.8 541.1h1.1v1.1h-1.1zM181.2 550.8h1.1v1.1h-1.1zM196.5 538.6h1.1v1.1h-1.1zM177.8 527.7h1.1v1.1h-1.1zM188.6 531.9h1.1v1.1h-1.1zM202.6 527.9h1.1v1.1h-1.1zM202.2 524.7h1.1v1.1h-1.1zM197.5 524.9h1.1v1.1h-1.1zM196.2 547.9h1.1v1.1h-1.1zM192.6 544.2h1.1v1.1h-1.1zM183.7 522.2h1.1v1.1h-1.1zM184.0 551.1h1.1v1.1h-1.1zM193.5 551.3h1.1v1.1h-1.1zM191.0 519.8h1.1v1.1h-1.1zM179.7 546.4h1.1v1.1h-1.1zM195.4 543.1h1.1v1.1h-1.1zM201.7 535.1h1.1v1.1h-1.1zM192.0 525.8h1.1v1.1h-1.1zM176.5 528.7h1.1v1.1h-1.1zM190.4 526.7h1.1v1.1h-1.1zM194.4 526.9h1.1v1.1h-1.1zM177.9 529.1h1.1v1.1h-1.1zM185.6 517.1h1.1v1.1h-1.1zM182.9 518.1h1.1v1.1h-1.1zM202.4 547.2h1.1v1.1h-1.1zM198.7 523.4h1.1v1.1h-1.1zM190.8 520.4h1.1v1.1h-1.1zM201.1 545.0h1.1v1.1h-1.1zM194.6 534.5h1.1v1.1h-1.1zM192.6 546.1h1.1v1.1h-1.1zM185.6 545.9h1.1v1.1h-1.1zM185.4 526.5h1.1v1.1h-1.1zM186.0 538.8h1.1v1.1h-1.1zM194.3 533.6h1.1v1.1h-1.1zM192.7 534.9h1.1v1.1h-1.1zM193.9 537.8h1.1v1.1h-1.1zM186.8 518.1h1.1v1.1h-1.1zM200.4 527.3h1.1v1.1h-1.1zM186.2 534.9h1.1v1.1h-1.1zM202.4 530.1h1.1v1.1h-1.1zM201.7 544.3h1.1v1.1h-1.1zM192.7 533.5h1.1v1.1h-1.1zM199.3 547.0h1.1v1.1h-1.1zM181.3 515.7h1.1v1.1h-1.1zM186.0 523.6h1.1v1.1h-1.1zM184.5 521.3h1.1v1.1h-1.1zM181.6 520.3h1.1v1.1h-1.1zM188.4 521.9h1.1v1.1h-1.1zM184.0 525.0h1.1v1.1h-1.1zM180.8 514.0h1.1v1.1h-1.1zM181.9 544.8h1.1v1.1h-1.1zM179.6 523.8h1.1v1.1h-1.1zM200.6 534.5h1.1v1.1h-1.1zM192.6 550.4h1.1v1.1h-1.1zM186.5 518.5h1.1v1.1h-1.1zM177.4 550.5h1.1v1.1h-1.1zM177.4 525.4h1.1v1.1h-1.1zM192.1 527.1h1.1v1.1h-1.1zM192.5 521.1h1.1v1.1h-1.1zM203.0 546.7h1.1v1.1h-1.1zM182.3 546.4h1.1v1.1h-1.1zM195.9 518.6h1.1v1.1h-1.1zM183.4 538.7h1.1v1.1h-1.1zM191.5 543.4h1.1v1.1h-1.1zM188.1 531.8h1.1v1.1h-1.1zM187.7 550.6h1.1v1.1h-1.1zM190.9 546.4h1.1v1.1h-1.1zM201.1 540.6h1.1v1.1h-1.1zM188.1 543.3h1.1v1.1h-1.1zM193.0 540.4h1.1v1.1h-1.1zM179.8 538.0h1.1v1.1h-1.1zM186.7 532.5h1.1v1.1h-1.1zM181.4 536.7h1.1v1.1h-1.1zM185.0 541.8h1.1v1.1h-1.1zM183.5 518.4h1.1v1.1h-1.1zM200.7 526.8h1.1v1.1h-1.1zM193.1 548.5h1.1v1.1h-1.1zM198.0 521.7h1.1v1.1h-1.1zM185.5 542.3h1.1v1.1h-1.1zM181.7 519.9h1.1v1.1h-1.1zM200.8 538.8h1.1v1.1h-1.1zM187.4 550.9h1.1v1.1h-1.1zM182.8 542.0h1.1v1.1h-1.1zM200.4 535.3h1.1v1.1h-1.1zM192.9 545.8h1.1v1.1h-1.1zM186.9 540.4h1.1v1.1h-1.1zM178.6 533.3h1.1v1.1h-1.1zM194.3 524.6h1.1v1.1h-1.1zM183.1 551.5h1.1v1.1h-1.1zM179.2 534.1h1.1v1.1h-1.1zM190.6 519.5h1.1v1.1h-1.1zM176.5 534.7h1.1v1.1h-1.1zM187.5 516.2h1.1v1.1h-1.1zM200.3 534.7h1.1v1.1h-1.1zM189.2 515.1h1.1v1.1h-1.1zM197.8 533.1h1.1v1.1h-1.1zM190.8 528.6h1.1v1.1h-1.1zM185.0 546.5h1.1v1.1h-1.1zM193.4 529.2h1.1v1.1h-1.1zM187.9 525.5h1.1v1.1h-1.1zM197.6 525.5h1.1v1.1h-1.1zM190.9 551.0h1.1v1.1h-1.1zM190.4 521.9h1.1v1.1h-1.1zM184.2 550.2h1.1v1.1h-1.1zM193.4 524.0h1.1v1.1h-1.1zM189.0 515.0h1.1v1.1h-1.1zM186.3 537.8h1.1v1.1h-1.1zM197.7 522.7h1.1v1.1h-1.1zM199.2 544.5h1.1v1.1h-1.1zM178.9 527.9h1.1v1.1h-1.1zM183.1 521.3h1.1v1.1h-1.1zM192.5 530.7h1.1v1.1h-1.1zM187.2 537.7h1.1v1.1h-1.1zM192.2 516.0h1.1v1.1h-1.1zM199.8 529.4h1.1v1.1h-1.1zM199.5 541.6h1.1v1.1h-1.1zM179.5 517.8h1.1v1.1h-1.1zM189.1 530.0h1.1v1.1h-1.1zM183.0 543.0h1.1v1.1h-1.1zM181.8 513.0h1.1v1.1h-1.1zM187.6 513.9h1.1v1.1h-1.1zM184.6 513.5h1.1v1.1h-1.1zM183.3 514.0h1.1v1.1h-1.1zM186.9 514.7h1.1v1.1h-1.1zM183.8 512.9h1.1v1.1h-1.1zM182.8 511.5h1.1v1.1h-1.1zM186.5 514.8h1.1v1.1h-1.1zM187.5 513.9h1.1v1.1h-1.1zM189.9 513.1h1.1v1.1h-1.1zM186.7 512.5h1.1v1.1h-1.1zM179.9 513.4h1.1v1.1h-1.1zM184.7 516.3h1.1v1.1h-1.1zM189.3 514.4h1.1v1.1h-1.1zM193.7 518.6h1.1v1.1h-1.1zM193.8 517.8h1.1v1.1h-1.1zM191.4 516.8h1.1v1.1h-1.1zM195.9 516.1h1.1v1.1h-1.1zM192.8 515.9h1.1v1.1h-1.1zM187.8 516.0h1.1v1.1h-1.1zM191.9 515.8h1.1v1.1h-1.1zM197.7 517.6h1.1v1.1h-1.1zM197.2 515.6h1.1v1.1h-1.1zM201.2 524.5h1.1v1.1h-1.1zM198.5 519.6h1.1v1.1h-1.1zM198.8 518.9h1.1v1.1h-1.1zM196.9 520.4h1.1v1.1h-1.1zM199.4 519.8h1.1v1.1h-1.1zM196.6 517.9h1.1v1.1h-1.1zM197.0 519.6h1.1v1.1h-1.1zM201.4 523.8h1.1v1.1h-1.1zM203.3 528.2h1.1v1.1h-1.1zM202.8 524.7h1.1v1.1h-1.1zM202.5 527.6h1.1v1.1h-1.1zM202.2 526.8h1.1v1.1h-1.1zM202.8 529.6h1.1v1.1h-1.1zM202.1 525.4h1.1v1.1h-1.1zM203.3 535.0h1.1v1.1h-1.1zM202.7 534.4h1.1v1.1h-1.1zM202.3 532.7h1.1v1.1h-1.1zM203.2 533.5h1.1v1.1h-1.1zM201.7 534.4h1.1v1.1h-1.1zM200.3 533.3h1.1v1.1h-1.1zM202.7 535.8h1.1v1.1h-1.1zM205.3 544.6h1.1v1.1h-1.1zM202.5 539.1h1.1v1.1h-1.1zM202.7 540.3h1.1v1.1h-1.1zM203.0 539.0h1.1v1.1h-1.1zM202.7 542.5h1.1v1.1h-1.1zM203.1 539.6h1.1v1.1h-1.1zM203.4 548.2h1.1v1.1h-1.1zM203.5 548.4h1.1v1.1h-1.1zM203.9 544.9h1.1v1.1h-1.1zM203.3 544.9h1.1v1.1h-1.1zM203.5 546.7h1.1v1.1h-1.1zM201.9 548.1h1.1v1.1h-1.1zM203.3 547.5h1.1v1.1h-1.1zM194.0 550.5h1.1v1.1h-1.1zM195.2 553.2h1.1v1.1h-1.1zM198.5 551.8h1.1v1.1h-1.1zM197.1 551.1h1.1v1.1h-1.1zM201.9 550.5h1.1v1.1h-1.1zM194.9 551.6h1.1v1.1h-1.1zM198.8 551.0h1.1v1.1h-1.1zM194.7 551.6h1.1v1.1h-1.1zM198.9 550.1h1.1v1.1h-1.1zM184.7 552.6h1.1v1.1h-1.1zM183.9 553.4h1.1v1.1h-1.1zM184.5 551.5h1.1v1.1h-1.1zM192.9 552.5h1.1v1.1h-1.1zM189.4 552.6h1.1v1.1h-1.1zM194.9 553.0h1.1v1.1h-1.1zM186.8 551.2h1.1v1.1h-1.1zM186.9 553.0h1.1v1.1h-1.1zM191.7 553.3h1.1v1.1h-1.1zM190.8 551.9h1.1v1.1h-1.1zM192.1 550.9h1.1v1.1h-1.1zM182.4 552.6h1.1v1.1h-1.1zM183.7 551.8h1.1v1.1h-1.1zM180.8 552.1h1.1v1.1h-1.1zM179.9 552.2h1.1v1.1h-1.1zM179.0 551.1h1.1v1.1h-1.1zM177.1 553.0h1.1v1.1h-1.1zM176.8 550.0h1.1v1.1h-1.1zM183.7 548.9h1.1v1.1h-1.1zM176.0 517.7h1.1v1.1h-1.1zM176.7 545.1h1.1v1.1h-1.1zM176.3 514.1h1.1v1.1h-1.1zM176.6 546.1h1.1v1.1h-1.1zM175.9 522.6h1.1v1.1h-1.1zM176.1 546.2h1.1v1.1h-1.1zM176.2 541.7h1.1v1.1h-1.1zM175.4 542.1h1.1v1.1h-1.1zM178.1 539.1h1.1v1.1h-1.1zM176.2 548.4h1.1v1.1h-1.1zM177.1 514.8h1.1v1.1h-1.1zM175.9 542.4h1.1v1.1h-1.1zM176.2 549.7h1.1v1.1h-1.1zM177.0 548.2h1.1v1.1h-1.1zM176.5 528.6h1.1v1.1h-1.1zM176.1 520.4h1.1v1.1h-1.1zM177.8 528.1h1.1v1.1h-1.1zM176.0 539.8h1.1v1.1h-1.1zM175.6 550.0h1.1v1.1h-1.1zM176.2 545.4h1.1v1.1h-1.1zM175.8 540.6h1.1v1.1h-1.1zM176.9 527.3h1.1v1.1h-1.1zM176.8 550.5h1.1v1.1h-1.1zM177.9 541.9h1.1v1.1h-1.1zM174.5 541.3h1.1v1.1h-1.1zM175.7 550.2h1.1v1.1h-1.1zM176.3 548.4h1.1v1.1h-1.1zM176.6 521.5h1.1v1.1h-1.1zM175.7 537.1h1.1v1.1h-1.1zM176.0 532.3h1.1v1.1h-1.1zM176.4 539.3h1.1v1.1h-1.1zM174.6 517.3h1.1v1.1h-1.1zM176.7 545.6h1.1v1.1h-1.1zM176.3 540.1h1.1v1.1h-1.1zM178.3 534.6h1.1v1.1h-1.1zM176.0 519.1h1.1v1.1h-1.1zM176.2 521.6h1.1v1.1h-1.1zM175.2 539.7h1.1v1.1h-1.1zM176.0 543.7h1.1v1.1h-1.1zM177.2 543.2h1.1v1.1h-1.1zM176.9 516.3h1.1v1.1h-1.1z"/>
</g>
<path d="M180.0,522.5 L182.5,522.0 L186.0,530.0 L186.0,536.5 L180.5,536.0 L179.3,530.0Z" fill="none" stroke="#4a3c94" stroke-width="0.7" opacity="0.9"/>
<path d="M178.0,518.0 L192.0,518.0 L199.0,528.0 L199.0,546.0 L185.0,549.0 L178.0,545.0Z" fill="none" stroke="#fff" stroke-width="0.7" opacity="0.55" stroke-linejoin="round"/>
<path d="M180.0,541.0 L195.0,542.0 L197.0,546.0 L182.0,547.0Z" fill="none" stroke="#fff" stroke-width="0.7" opacity="0.55" stroke-linejoin="round"/>
<g fill="#4a3c94">
<rect x="147.5" y="518" width="1.3" height="1.3"/>
<rect x="150" y="525" width="1.3" height="1.3"/>
<rect x="196" y="512.5" width="1.3" height="1.3"/>
<rect x="213" y="542" width="1.3" height="1.3"/>
<rect x="218" y="543.5" width="1.3" height="1.3"/>
<rect x="182" y="555" width="1.3" height="1.3"/>
<rect x="158" y="507" width="1.3" height="1.3"/>
</g>
<line x1="145.0" y1="567" x2="145.0" y2="569.2" stroke="#777" stroke-width="0.6"/>
<line x1="151.3" y1="567" x2="151.3" y2="569.2" stroke="#777" stroke-width="0.6"/>
<line x1="157.6" y1="567" x2="157.6" y2="569.2" stroke="#777" stroke-width="0.6"/>
<line x1="163.9" y1="567" x2="163.9" y2="569.2" stroke="#777" stroke-width="0.6"/>
<line x1="170.2" y1="567" x2="170.2" y2="569.2" stroke="#777" stroke-width="0.6"/>
<line x1="176.5" y1="567" x2="176.5" y2="569.2" stroke="#777" stroke-width="0.6"/>
<line x1="182.8" y1="567" x2="182.8" y2="569.2" stroke="#777" stroke-width="0.6"/>
<line x1="189.1" y1="567" x2="189.1" y2="569.2" stroke="#777" stroke-width="0.6"/>
<line x1="195.4" y1="567" x2="195.4" y2="569.2" stroke="#777" stroke-width="0.6"/>
<line x1="201.7" y1="567" x2="201.7" y2="569.2" stroke="#777" stroke-width="0.6"/>
<line x1="208.0" y1="567" x2="208.0" y2="569.2" stroke="#777" stroke-width="0.6"/>
<line x1="214.3" y1="567" x2="214.3" y2="569.2" stroke="#777" stroke-width="0.6"/>
<line x1="220.6" y1="567" x2="220.6" y2="569.2" stroke="#777" stroke-width="0.6"/>
<line x1="226.9" y1="567" x2="226.9" y2="569.2" stroke="#777" stroke-width="0.6"/>
<rect x="141" y="479.4" width="88" height="87.60000000000002" fill="none" stroke="#231f20" stroke-width="1.2"/>
<line x1="176.4" y1="479.4" x2="176.4" y2="567" stroke="#231f20" stroke-width="1.25"/>
<line x1="141" y1="538" x2="229" y2="538" stroke="#231f20" stroke-width="1.25"/>
<text x="144" y="493.2" font-family="Liberation Sans" fill="#2e2e2e" font-size="13.4" textLength="25.5" lengthAdjust="spacingAndGlyphs">51.3</text>
<text x="196.2" y="493.2" font-family="Liberation Sans" fill="#2e2e2e" font-size="13.4" textLength="29.8" lengthAdjust="spacingAndGlyphs">9.98</text>
<text x="144.6" y="565" font-family="Liberation Sans" fill="#2e2e2e" font-size="13.4" textLength="27.8" lengthAdjust="spacingAndGlyphs">25.4</text>
<text x="196.2" y="565" font-family="Liberation Sans" fill="#2e2e2e" font-size="13.4" textLength="26.6" lengthAdjust="spacingAndGlyphs">13.3</text>
<line x1="43" y1="487.6" x2="45.6" y2="487.6" stroke="#231f20" stroke-width="1"/>
<line x1="43" y1="508.6" x2="45.6" y2="508.6" stroke="#231f20" stroke-width="1"/>
<line x1="43" y1="532.1" x2="45.6" y2="532.1" stroke="#231f20" stroke-width="1"/>
<line x1="43" y1="547.9" x2="45.6" y2="547.9" stroke="#231f20" stroke-width="1"/>
<text x="20.8" y="492" font-family="Liberation Sans" fill="#2e2e2e" font-size="10.8">10<tspan font-size="8" dy="-4.8" dx="0.8">5</tspan></text>
<text x="20.8" y="513.2" font-family="Liberation Sans" fill="#2e2e2e" font-size="10.8">10<tspan font-size="8" dy="-4.8" dx="0.8">4</tspan></text>
<text x="20.8" y="536.8" font-family="Liberation Sans" fill="#2e2e2e" font-size="10.8">10<tspan font-size="8" dy="-4.8" dx="0.8">3</tspan></text>
<text x="26.9" y="552.4" font-family="Liberation Sans" fill="#2e2e2e" font-size="10.8">0</text>
<line x1="43" y1="562.4" x2="45.6" y2="562.4" stroke="#231f20" stroke-width="1"/>
<line x1="138.6" y1="487.6" x2="141" y2="487.6" stroke="#555" stroke-width="0.9"/>
<line x1="138.6" y1="508.6" x2="141" y2="508.6" stroke="#555" stroke-width="0.9"/>
<line x1="138.6" y1="532.1" x2="141" y2="532.1" stroke="#555" stroke-width="0.9"/>
<line x1="138.6" y1="547.9" x2="141" y2="547.9" stroke="#555" stroke-width="0.9"/>
<line x1="138.6" y1="562.4" x2="141" y2="562.4" stroke="#555" stroke-width="0.9"/>
<text x="58.6" y="585.4" font-family="Liberation Sans" fill="#2e2e2e" font-size="11.4">0</text>
<text x="95.2" y="585.4" font-family="Liberation Sans" fill="#2e2e2e" font-size="11.4">10<tspan font-size="8.6" dy="-5.6">3</tspan></text>
<text x="115.6" y="585.4" font-family="Liberation Sans" fill="#2e2e2e" font-size="11.4">10<tspan font-size="8.6" dy="-5.6">4</tspan></text>
<text x="41" y="604" font-family="Liberation Sans" fill="#2e2e2e" font-size="13.8" textLength="93.8" lengthAdjust="spacingAndGlyphs">CD127 (PECy7)</text>
<text transform="translate(12.7,569) rotate(-90)" font-family="Liberation Sans" fill="#2e2e2e" font-size="13.8" textLength="92" lengthAdjust="spacingAndGlyphs">KLRG1 (BV421)</text>
<line x1="287" y1="477.4" x2="287" y2="576" stroke="#8f8f8f" stroke-width="1"/>
<line x1="287" y1="576" x2="353" y2="576" stroke="#8f8f8f" stroke-width="1"/>
<line x1="283" y1="576.0" x2="287" y2="576.0" stroke="#8f8f8f" stroke-width="1"/>
<text x="277.4" y="580.1" font-family="Liberation Sans" fill="#2e2e2e" font-size="12.3" text-anchor="end">0</text>
<line x1="283" y1="543.1" x2="287" y2="543.1" stroke="#8f8f8f" stroke-width="1"/>
<text x="277.4" y="547.2" font-family="Liberation Sans" fill="#2e2e2e" font-size="12.3" text-anchor="end">5</text>
<line x1="283" y1="510.3" x2="287" y2="510.3" stroke="#8f8f8f" stroke-width="1"/>
<text x="277.4" y="514.4" font-family="Liberation Sans" fill="#2e2e2e" font-size="12.3" text-anchor="end">10</text>
<line x1="283" y1="477.4" x2="287" y2="477.4" stroke="#8f8f8f" stroke-width="1"/>
<text x="277.4" y="481.6" font-family="Liberation Sans" fill="#2e2e2e" font-size="12.3" text-anchor="end">15</text>
<rect x="297.20" y="537.2" width="16.60" height="38.8" fill="#ee9090"/>
<line x1="305.5" y1="576" x2="305.5" y2="579.8" stroke="#888" stroke-width="1"/>
<rect x="325.20" y="523.4" width="16.60" height="52.6" fill="#ae7fbd"/>
<line x1="333.5" y1="576" x2="333.5" y2="579.8" stroke="#888" stroke-width="1"/>
<path d="M297.20,575.7 V537.2 H313.80 V575.7" fill="none" stroke="#231f20" stroke-width="2"/>
<path d="M325.20,575.7 V523.4 H341.80 V575.7" fill="none" stroke="#231f20" stroke-width="2"/>
<circle cx="305.4" cy="514" r="4.7" fill="#ec4545" stroke="#231f20" stroke-width="1.4"/>
<circle cx="304.8" cy="520.9" r="4.7" fill="#ec4545" stroke="#231f20" stroke-width="1.4"/>
<circle cx="307.1" cy="524.8" r="4.7" fill="#ec4545" stroke="#231f20" stroke-width="1.4"/>
<circle cx="302.8" cy="530.7" r="4.7" fill="#ec4545" stroke="#231f20" stroke-width="1.4"/>
<circle cx="308.2" cy="534" r="4.7" fill="#ec4545" stroke="#231f20" stroke-width="1.4"/>
<circle cx="304.5" cy="539.3" r="4.7" fill="#ec4545" stroke="#231f20" stroke-width="1.4"/>
<circle cx="301.9" cy="544.6" r="4.7" fill="#ec4545" stroke="#231f20" stroke-width="1.4"/>
<circle cx="300.5" cy="549.9" r="4.7" fill="#ec4545" stroke="#231f20" stroke-width="1.4"/>
<circle cx="307.1" cy="551.8" r="4.7" fill="#ec4545" stroke="#231f20" stroke-width="1.4"/>
<circle cx="311.1" cy="550.5" r="4.7" fill="#ec4545" stroke="#231f20" stroke-width="1.4"/>
<circle cx="305.8" cy="545.9" r="4.7" fill="#ec4545" stroke="#231f20" stroke-width="1.4"/>
<circle cx="333.2" cy="489" r="4.7" fill="#7f36a0" stroke="#231f20" stroke-width="1.4"/>
<circle cx="333.2" cy="501.7" r="4.7" fill="#7f36a0" stroke="#231f20" stroke-width="1.4"/>
<circle cx="328.9" cy="511.6" r="4.7" fill="#7f36a0" stroke="#231f20" stroke-width="1.4"/>
<circle cx="338.1" cy="513" r="4.7" fill="#7f36a0" stroke="#231f20" stroke-width="1.4"/>
<circle cx="339.4" cy="519.5" r="4.7" fill="#7f36a0" stroke="#231f20" stroke-width="1.4"/>
<circle cx="328.9" cy="522.2" r="4.7" fill="#7f36a0" stroke="#231f20" stroke-width="1.4"/>
<circle cx="335.5" cy="524.8" r="4.7" fill="#7f36a0" stroke="#231f20" stroke-width="1.4"/>
<circle cx="329.5" cy="530" r="4.7" fill="#7f36a0" stroke="#231f20" stroke-width="1.4"/>
<circle cx="333.5" cy="532.7" r="4.7" fill="#7f36a0" stroke="#231f20" stroke-width="1.4"/>
<circle cx="336.8" cy="536.7" r="4.7" fill="#7f36a0" stroke="#231f20" stroke-width="1.4"/>
<circle cx="333.5" cy="538" r="4.7" fill="#7f36a0" stroke="#231f20" stroke-width="1.4"/>
<circle cx="330.2" cy="544.6" r="4.7" fill="#7f36a0" stroke="#231f20" stroke-width="1.4"/>
<text transform="translate(254.7,560.5) rotate(-90)" font-family="Liberation Sans" fill="#2e2e2e" font-size="13.4" textLength="67.5" lengthAdjust="spacingAndGlyphs">MPECs (%)</text>
<text x="288.5" y="476.6" font-family="Liberation Sans" fill="#2e2e2e" font-size="13.6" textLength="69" lengthAdjust="spacingAndGlyphs"><tspan font-style="italic">P</tspan> = 0.0018</text>
<line x1="423" y1="478" x2="423" y2="575.8" stroke="#8f8f8f" stroke-width="1"/>
<line x1="423" y1="575.8" x2="489" y2="575.8" stroke="#8f8f8f" stroke-width="1"/>
<line x1="419" y1="575.8" x2="423" y2="575.8" stroke="#8f8f8f" stroke-width="1"/>
<text x="413.4" y="579.9" font-family="Liberation Sans" fill="#2e2e2e" font-size="12.3" text-anchor="end">0</text>
<line x1="419" y1="551.4" x2="423" y2="551.4" stroke="#8f8f8f" stroke-width="1"/>
<text x="413.4" y="555.5" font-family="Liberation Sans" fill="#2e2e2e" font-size="12.3" text-anchor="end">20</text>
<line x1="419" y1="527.0" x2="423" y2="527.0" stroke="#8f8f8f" stroke-width="1"/>
<text x="413.4" y="531.1" font-family="Liberation Sans" fill="#2e2e2e" font-size="12.3" text-anchor="end">40</text>
<line x1="419" y1="502.6" x2="423" y2="502.6" stroke="#8f8f8f" stroke-width="1"/>
<text x="413.4" y="506.7" font-family="Liberation Sans" fill="#2e2e2e" font-size="12.3" text-anchor="end">60</text>
<line x1="419" y1="478.2" x2="423" y2="478.2" stroke="#8f8f8f" stroke-width="1"/>
<text x="413.4" y="482.3" font-family="Liberation Sans" fill="#2e2e2e" font-size="12.3" text-anchor="end">80</text>
<rect x="433.30" y="495.9" width="16.60" height="79.9" fill="#ee9090"/>
<line x1="441.6" y1="575.8" x2="441.6" y2="579.5999999999999" stroke="#888" stroke-width="1"/>
<rect x="461.50" y="503.1" width="16.60" height="72.7" fill="#ae7fbd"/>
<line x1="469.8" y1="575.8" x2="469.8" y2="579.5999999999999" stroke="#888" stroke-width="1"/>
<path d="M433.30,575.5 V495.9 H449.90 V575.5" fill="none" stroke="#231f20" stroke-width="2"/>
<path d="M461.50,575.5 V503.1 H478.10 V575.5" fill="none" stroke="#231f20" stroke-width="2"/>
<circle cx="442.8" cy="480.7" r="4.7" fill="#ec4545" stroke="#231f20" stroke-width="1.4"/>
<circle cx="440.3" cy="482.4" r="4.7" fill="#ec4545" stroke="#231f20" stroke-width="1.4"/>
<circle cx="438.8" cy="489.8" r="4.7" fill="#ec4545" stroke="#231f20" stroke-width="1.4"/>
<circle cx="445.3" cy="488.8" r="4.7" fill="#ec4545" stroke="#231f20" stroke-width="1.4"/>
<circle cx="435.9" cy="493.2" r="4.7" fill="#ec4545" stroke="#231f20" stroke-width="1.4"/>
<circle cx="447.7" cy="492.2" r="4.7" fill="#ec4545" stroke="#231f20" stroke-width="1.4"/>
<circle cx="443.8" cy="495.7" r="4.7" fill="#ec4545" stroke="#231f20" stroke-width="1.4"/>
<circle cx="436.9" cy="496.7" r="4.7" fill="#ec4545" stroke="#231f20" stroke-width="1.4"/>
<circle cx="445.3" cy="498.7" r="4.7" fill="#ec4545" stroke="#231f20" stroke-width="1.4"/>
<circle cx="439.8" cy="499.7" r="4.7" fill="#ec4545" stroke="#231f20" stroke-width="1.4"/>
<circle cx="441.3" cy="508" r="4.7" fill="#ec4545" stroke="#231f20" stroke-width="1.4"/>
<circle cx="465.5" cy="493.7" r="4.7" fill="#7f36a0" stroke="#231f20" stroke-width="1.4"/>
<circle cx="475.4" cy="493.2" r="4.7" fill="#7f36a0" stroke="#231f20" stroke-width="1.4"/>
<circle cx="470.5" cy="497.7" r="4.7" fill="#7f36a0" stroke="#231f20" stroke-width="1.4"/>
<circle cx="464" cy="498.7" r="4.7" fill="#7f36a0" stroke="#231f20" stroke-width="1.4"/>
<circle cx="473.4" cy="502.6" r="4.7" fill="#7f36a0" stroke="#231f20" stroke-width="1.4"/>
<circle cx="466.5" cy="505.6" r="4.7" fill="#7f36a0" stroke="#231f20" stroke-width="1.4"/>
<circle cx="473.4" cy="506.6" r="4.7" fill="#7f36a0" stroke="#231f20" stroke-width="1.4"/>
<circle cx="468.5" cy="511.5" r="4.7" fill="#7f36a0" stroke="#231f20" stroke-width="1.4"/>
<circle cx="467.5" cy="517.4" r="4.7" fill="#7f36a0" stroke="#231f20" stroke-width="1.4"/>
<text transform="translate(390.2,558.5) rotate(-90)" font-family="Liberation Sans" fill="#2e2e2e" font-size="13.4" textLength="63.5" lengthAdjust="spacingAndGlyphs">SLECs (%)</text>
<text x="418.3" y="467" font-family="Liberation Sans" fill="#2e2e2e" font-size="13.6" textLength="68.5" lengthAdjust="spacingAndGlyphs"><tspan font-style="italic">P</tspan> &lt; 0.0001</text>
<line x1="561" y1="476" x2="561" y2="574.4" stroke="#8f8f8f" stroke-width="1"/>
<line x1="561" y1="574.4" x2="627.4" y2="574.4" stroke="#8f8f8f" stroke-width="1"/>
<line x1="557" y1="574.4" x2="561" y2="574.4" stroke="#8f8f8f" stroke-width="1"/>
<text x="551.4" y="578.5" font-family="Liberation Sans" fill="#2e2e2e" font-size="12.3" text-anchor="end">0</text>
<line x1="557" y1="541.6" x2="561" y2="541.6" stroke="#8f8f8f" stroke-width="1"/>
<text x="551.4" y="545.7" font-family="Liberation Sans" fill="#2e2e2e" font-size="12.3" text-anchor="end">0.1</text>
<line x1="557" y1="508.8" x2="561" y2="508.8" stroke="#8f8f8f" stroke-width="1"/>
<text x="551.4" y="512.9" font-family="Liberation Sans" fill="#2e2e2e" font-size="12.3" text-anchor="end">0.2</text>
<line x1="557" y1="476.0" x2="561" y2="476.0" stroke="#8f8f8f" stroke-width="1"/>
<text x="551.4" y="480.1" font-family="Liberation Sans" fill="#2e2e2e" font-size="12.3" text-anchor="end">0.3</text>
<rect x="571.60" y="546.5" width="16.60" height="27.9" fill="#ee9090"/>
<line x1="579.9" y1="574.4" x2="579.9" y2="578.1999999999999" stroke="#888" stroke-width="1"/>
<rect x="599.70" y="527.8" width="16.60" height="46.6" fill="#ae7fbd"/>
<line x1="608.0" y1="574.4" x2="608.0" y2="578.1999999999999" stroke="#888" stroke-width="1"/>
<path d="M571.60,574.1 V546.5 H588.20 V574.1" fill="none" stroke="#231f20" stroke-width="2"/>
<path d="M599.70,574.1 V527.8 H616.30 V574.1" fill="none" stroke="#231f20" stroke-width="2"/>
<circle cx="579.9" cy="525.3" r="4.7" fill="#ec4545" stroke="#231f20" stroke-width="1.4"/>
<circle cx="577.4" cy="533.3" r="4.7" fill="#ec4545" stroke="#231f20" stroke-width="1.4"/>
<circle cx="583.5" cy="533.3" r="4.7" fill="#ec4545" stroke="#231f20" stroke-width="1.4"/>
<circle cx="579.9" cy="537.9" r="4.7" fill="#ec4545" stroke="#231f20" stroke-width="1.4"/>
<circle cx="579.9" cy="544" r="4.7" fill="#ec4545" stroke="#231f20" stroke-width="1.4"/>
<circle cx="574.8" cy="549.6" r="4.7" fill="#ec4545" stroke="#231f20" stroke-width="1.4"/>
<circle cx="577.9" cy="550.7" r="4.7" fill="#ec4545" stroke="#231f20" stroke-width="1.4"/>
<circle cx="581.5" cy="555.8" r="4.7" fill="#ec4545" stroke="#231f20" stroke-width="1.4"/>
<circle cx="573.3" cy="554.7" r="4.7" fill="#ec4545" stroke="#231f20" stroke-width="1.4"/>
<circle cx="585.5" cy="553.7" r="4.7" fill="#ec4545" stroke="#231f20" stroke-width="1.4"/>
<circle cx="576.9" cy="557.8" r="4.7" fill="#ec4545" stroke="#231f20" stroke-width="1.4"/>
<circle cx="607.8" cy="489.5" r="4.7" fill="#7f36a0" stroke="#231f20" stroke-width="1.4"/>
<circle cx="607.8" cy="510" r="4.7" fill="#7f36a0" stroke="#231f20" stroke-width="1.4"/>
<circle cx="607.8" cy="518" r="4.7" fill="#7f36a0" stroke="#231f20" stroke-width="1.4"/>
<circle cx="601.9" cy="525.5" r="4.7" fill="#7f36a0" stroke="#231f20" stroke-width="1.4"/>
<circle cx="613.1" cy="525.5" r="4.7" fill="#7f36a0" stroke="#231f20" stroke-width="1.4"/>
<circle cx="604.5" cy="532" r="4.7" fill="#7f36a0" stroke="#231f20" stroke-width="1.4"/>
<circle cx="610.5" cy="536.7" r="4.7" fill="#7f36a0" stroke="#231f20" stroke-width="1.4"/>
<circle cx="606.5" cy="539.3" r="4.7" fill="#7f36a0" stroke="#231f20" stroke-width="1.4"/>
<circle cx="609.8" cy="544.6" r="4.7" fill="#7f36a0" stroke="#231f20" stroke-width="1.4"/>
<circle cx="605.2" cy="549.9" r="4.7" fill="#7f36a0" stroke="#231f20" stroke-width="1.4"/>
<text transform="translate(524.4,562.5) rotate(-90)" font-family="Liberation Sans" fill="#2e2e2e" font-size="13.4" textLength="74.5" lengthAdjust="spacingAndGlyphs">MPEC:SLEC</text>
<text x="551.2" y="469" font-family="Liberation Sans" fill="#2e2e2e" font-size="13.6" textLength="71.5" lengthAdjust="spacingAndGlyphs"><tspan font-style="italic">P</tspan> = 0.0003</text>
</svg></body></html>
